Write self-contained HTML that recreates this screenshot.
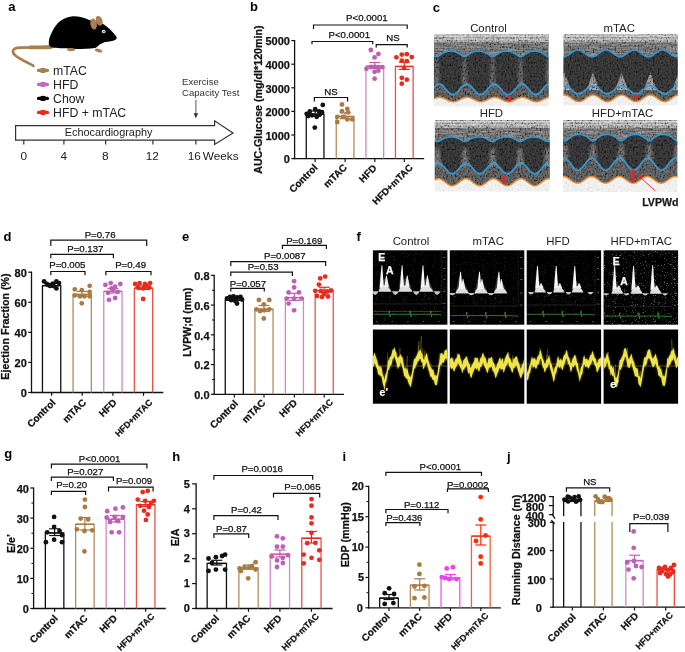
<!DOCTYPE html><html><head><meta charset="utf-8"><style>html,body{margin:0;padding:0;background:#fff;}svg{display:block;}</style></head><body>
<svg width="685" height="652" viewBox="0 0 685 652" font-family='"Liberation Sans", Arial, sans-serif'>
<defs>
<filter id="nz1" x="0" y="0" width="100%" height="100%" filterUnits="objectBoundingBox">
  <feTurbulence type="fractalNoise" baseFrequency="0.6 0.45" numOctaves="2" seed="4"/>
  <feColorMatrix type="matrix" values="2.2 0 0 0 -0.6  2.2 0 0 0 -0.6  2.2 0 0 0 -0.6  0 0 0 0 1"/>
  <feGaussianBlur stdDeviation="0.35"/>
</filter>
<filter id="nz2" x="0" y="0" width="100%" height="100%" filterUnits="objectBoundingBox">
  <feTurbulence type="fractalNoise" baseFrequency="0.5 0.8" numOctaves="2" seed="11"/>
  <feColorMatrix type="matrix" values="0 0 0 0 0  0 0 0 0 0  0 0 0 0 0  0 0 2.6 0 -1.05"/>
</filter>
<filter id="hz" x="0" y="0" width="100%" height="100%" filterUnits="objectBoundingBox">
  <feTurbulence type="fractalNoise" baseFrequency="0.06 0.7" numOctaves="2" seed="7"/>
  <feColorMatrix type="matrix" values="0 0 0 0 1  0 0 0 0 1  0 0 0 0 1  0 0 3.2 0 -1.3"/>
</filter>
<filter id="spk" x="0" y="0" width="100%" height="100%" filterUnits="objectBoundingBox">
  <feTurbulence type="fractalNoise" baseFrequency="0.9" numOctaves="1" seed="21"/>
  <feColorMatrix type="matrix" values="0 0 0 0 1  0 0 0 0 1  0 0 0 0 1  9 0 0 0 -5.6"/>
</filter>
<filter id="bl06"><feGaussianBlur stdDeviation="0.6"/></filter>
<filter id="bl04"><feGaussianBlur stdDeviation="0.4"/></filter>
<filter id="bl1"><feGaussianBlur stdDeviation="1.0"/></filter>
<filter id="bl15"><feGaussianBlur stdDeviation="1.5"/></filter>
</defs>
<rect width="685" height="652" fill="#fff"/>
<text x="8.20" y="11.40" font-size="13" font-weight="bold" text-anchor="start" fill="#000">a</text>
<path d="M50,47.2 C42,47.6 30,47.2 20,47.6 C12,48 11,52 16,56 C22,60.5 28,62.5 33,65.6" stroke="#a8804f" stroke-width="2.8" fill="none" stroke-linecap="round"/>
<path d="M51,47.0 C45,47.4 38,47.2 30,47.4" stroke="#a8804f" stroke-width="3.8" fill="none" stroke-linecap="round"/>
<path d="M33,65.6 L34.6,67" stroke="#444" stroke-width="0.8" fill="none"/>
<path d="M49.3,46 C48,42 49.5,37 51.5,33 C53.5,28.5 56,24 61,20.5 C65,18 69,16.5 73,16.3 C79,16.2 84,17.5 88,19.5 C93,21.5 100,22.5 104,24.5 C108,27 112,31 115.5,35.5 C117.5,37.5 117,39.5 114,40.5 C111.5,41.4 108,41.6 105,42 C101,43.5 98,45.5 96,47.8 L91,48.6 C85,49.2 78,49 72,48.8 C64,48.6 56,48.2 52,47.6 C50,47 49.6,46 49.5,44.5 Z" stroke="none" stroke-width="1.0" fill="#000"/>
<ellipse cx="71" cy="49.6" rx="4" ry="1.6" fill="#a8804f"/>
<ellipse cx="98.6" cy="50.6" rx="3.8" ry="1.7" fill="#a8804f" transform="rotate(15 98.6 50.6)"/>
<ellipse cx="93.6" cy="24" rx="3.2" ry="5.6" fill="#a8804f" transform="rotate(-10 93.6 24)"/>
<ellipse cx="99.2" cy="20.8" rx="3.3" ry="5" fill="#a8804f" transform="rotate(-20 99.2 20.8)"/>
<circle cx="103.70" cy="31.50" r="1.8" fill="#fff"/>
<circle cx="103.90" cy="31.60" r="0.8" fill="#333"/>
<line x1="38.5" y1="70.4" x2="47.5" y2="70.4" stroke="#a8804f" stroke-width="3.2" stroke-linecap="round"/>
<ellipse cx="43" cy="70.4" rx="3.3" ry="2.6" fill="#a8804f"/>
<text x="53.00" y="74.70" font-size="12.3" text-anchor="start" fill="#222">mTAC</text>
<line x1="38.5" y1="84.4" x2="47.5" y2="84.4" stroke="#c469bd" stroke-width="3.2" stroke-linecap="round"/>
<ellipse cx="43" cy="84.4" rx="3.3" ry="2.6" fill="#c469bd"/>
<text x="53.00" y="88.70" font-size="12.3" text-anchor="start" fill="#222">HFD</text>
<line x1="38.5" y1="98.4" x2="47.5" y2="98.4" stroke="#000" stroke-width="3.2" stroke-linecap="round"/>
<ellipse cx="43" cy="98.4" rx="3.3" ry="2.6" fill="#000"/>
<text x="53.00" y="102.70" font-size="12.3" text-anchor="start" fill="#222">Chow</text>
<line x1="38.5" y1="112.4" x2="47.5" y2="112.4" stroke="#f0281e" stroke-width="3.2" stroke-linecap="round"/>
<ellipse cx="43" cy="112.4" rx="3.3" ry="2.6" fill="#f0281e"/>
<text x="53.00" y="116.70" font-size="12.3" text-anchor="start" fill="#222">HFD + mTAC</text>
<path d="M15.6,125.7 L214.6,125.7 L214.6,120.8 L233,132.9 L214.6,144.5 L214.6,140.1 L15.6,140.1 Z" fill="#fff" stroke="#333" stroke-width="1.2"/>
<text x="108.60" y="136.20" font-size="10.9" text-anchor="middle" fill="#222">Echocardiography</text>
<line x1="23.80" y1="140.10" x2="23.80" y2="144.50" stroke="#333" stroke-width="1.2"/>
<text x="23.80" y="159.80" font-size="11.8" text-anchor="middle" fill="#222">0</text>
<line x1="63.90" y1="140.10" x2="63.90" y2="144.50" stroke="#333" stroke-width="1.2"/>
<text x="63.90" y="159.80" font-size="11.8" text-anchor="middle" fill="#222">4</text>
<line x1="105.60" y1="140.10" x2="105.60" y2="144.50" stroke="#333" stroke-width="1.2"/>
<text x="105.30" y="159.80" font-size="11.8" text-anchor="middle" fill="#222">8</text>
<line x1="152.90" y1="140.10" x2="152.90" y2="144.50" stroke="#333" stroke-width="1.2"/>
<text x="152.20" y="159.80" font-size="11.8" text-anchor="middle" fill="#222">12</text>
<line x1="195.90" y1="140.10" x2="195.90" y2="144.50" stroke="#333" stroke-width="1.2"/>
<text x="194.30" y="159.80" font-size="11.8" text-anchor="middle" fill="#222">16</text>
<text x="202.80" y="159.80" font-size="11.8" text-anchor="start" fill="#222">Weeks</text>
<text x="182.00" y="84.90" font-size="9.6" text-anchor="start" fill="#333">Exercise</text>
<text x="182.00" y="96.40" font-size="9.6" text-anchor="start" fill="#333">Capacity Test</text>
<line x1="195.90" y1="99.80" x2="195.90" y2="114.50" stroke="#444" stroke-width="0.9"/>
<path d="M193.6,113.2 L195.9,118.2 L198.2,113.2 Z" fill="#333"/>
<text x="249.90" y="11.40" font-size="13" font-weight="bold" text-anchor="start" fill="#000">b</text>
<line x1="294.60" y1="40.00" x2="294.60" y2="159.20" stroke="#111" stroke-width="1.3"/>
<line x1="294.00" y1="158.60" x2="424.20" y2="158.60" stroke="#111" stroke-width="1.3"/>
<line x1="291.30" y1="158.60" x2="294.60" y2="158.60" stroke="#111" stroke-width="1.2"/>
<text x="289.90" y="163.34" font-size="11" font-weight="bold" stroke="#111" stroke-width="0.25" text-anchor="end" fill="#111">0</text>
<line x1="291.30" y1="135.00" x2="294.60" y2="135.00" stroke="#111" stroke-width="1.2"/>
<text x="289.90" y="139.74" font-size="11" font-weight="bold" stroke="#111" stroke-width="0.25" text-anchor="end" fill="#111">1000</text>
<line x1="291.30" y1="111.40" x2="294.60" y2="111.40" stroke="#111" stroke-width="1.2"/>
<text x="289.90" y="116.14" font-size="11" font-weight="bold" stroke="#111" stroke-width="0.25" text-anchor="end" fill="#111">2000</text>
<line x1="291.30" y1="87.80" x2="294.60" y2="87.80" stroke="#111" stroke-width="1.2"/>
<text x="289.90" y="92.54" font-size="11" font-weight="bold" stroke="#111" stroke-width="0.25" text-anchor="end" fill="#111">3000</text>
<line x1="291.30" y1="64.20" x2="294.60" y2="64.20" stroke="#111" stroke-width="1.2"/>
<text x="289.90" y="68.94" font-size="11" font-weight="bold" stroke="#111" stroke-width="0.25" text-anchor="end" fill="#111">4000</text>
<line x1="291.30" y1="40.60" x2="294.60" y2="40.60" stroke="#111" stroke-width="1.2"/>
<text x="289.90" y="45.34" font-size="11" font-weight="bold" stroke="#111" stroke-width="0.25" text-anchor="end" fill="#111">5000</text>
<line x1="315.10" y1="158.60" x2="315.10" y2="161.90" stroke="#111" stroke-width="1.2"/>
<path d="M306.25,158.60 L306.25,114.25 L323.95,114.25 L323.95,158.60" stroke="#111111" stroke-width="1.3" fill="none"/>
<circle cx="322.80" cy="104.90" r="2.4" fill="#111111"/>
<circle cx="314.80" cy="127.60" r="2.4" fill="#111111"/>
<circle cx="306.70" cy="113.80" r="2.4" fill="#111111"/>
<circle cx="309.80" cy="111.50" r="2.4" fill="#111111"/>
<circle cx="315.20" cy="109.20" r="2.4" fill="#111111"/>
<circle cx="319.00" cy="111.50" r="2.4" fill="#111111"/>
<circle cx="322.00" cy="112.20" r="2.4" fill="#111111"/>
<circle cx="312.00" cy="115.30" r="2.4" fill="#111111"/>
<circle cx="316.70" cy="116.80" r="2.4" fill="#111111"/>
<circle cx="319.80" cy="114.50" r="2.4" fill="#111111"/>
<circle cx="308.10" cy="116.00" r="2.4" fill="#111111"/>
<line x1="315.10" y1="116.20" x2="315.10" y2="111.00" stroke="#111111" stroke-width="1.2"/>
<line x1="309.60" y1="111.00" x2="320.60" y2="111.00" stroke="#111111" stroke-width="1.2"/>
<line x1="309.60" y1="116.20" x2="320.60" y2="116.20" stroke="#111111" stroke-width="1.2"/>
<line x1="306.60" y1="114.30" x2="323.60" y2="114.30" stroke="#111111" stroke-width="1.3"/>
<line x1="345.10" y1="158.60" x2="345.10" y2="161.90" stroke="#111" stroke-width="1.2"/>
<path d="M336.25,158.60 L336.25,116.45 L353.95,116.45 L353.95,158.60" stroke="#b38c5c" stroke-width="1.3" fill="none"/>
<circle cx="342.00" cy="104.50" r="2.4" fill="#a87b45"/>
<circle cx="347.30" cy="108.90" r="2.4" fill="#a87b45"/>
<circle cx="342.00" cy="111.20" r="2.4" fill="#a87b45"/>
<circle cx="348.20" cy="112.40" r="2.4" fill="#a87b45"/>
<circle cx="337.30" cy="116.80" r="2.4" fill="#a87b45"/>
<circle cx="342.90" cy="116.80" r="2.4" fill="#a87b45"/>
<circle cx="347.30" cy="119.40" r="2.4" fill="#a87b45"/>
<circle cx="352.20" cy="119.40" r="2.4" fill="#a87b45"/>
<circle cx="337.30" cy="122.00" r="2.4" fill="#a87b45"/>
<line x1="345.10" y1="118.60" x2="345.10" y2="112.80" stroke="#a87b45" stroke-width="1.2"/>
<line x1="339.60" y1="112.80" x2="350.60" y2="112.80" stroke="#a87b45" stroke-width="1.2"/>
<line x1="339.60" y1="118.60" x2="350.60" y2="118.60" stroke="#a87b45" stroke-width="1.2"/>
<line x1="336.60" y1="116.50" x2="353.60" y2="116.50" stroke="#a87b45" stroke-width="1.3"/>
<line x1="374.80" y1="158.60" x2="374.80" y2="161.90" stroke="#111" stroke-width="1.2"/>
<path d="M365.95,158.60 L365.95,66.15 L383.65,66.15 L383.65,158.60" stroke="#cf8ac7" stroke-width="1.3" fill="none"/>
<circle cx="370.80" cy="50.00" r="2.4" fill="#bd60b3"/>
<circle cx="378.40" cy="54.00" r="2.4" fill="#bd60b3"/>
<circle cx="374.60" cy="57.40" r="2.4" fill="#bd60b3"/>
<circle cx="366.50" cy="68.80" r="2.4" fill="#bd60b3"/>
<circle cx="370.80" cy="66.90" r="2.4" fill="#bd60b3"/>
<circle cx="374.60" cy="66.90" r="2.4" fill="#bd60b3"/>
<circle cx="378.40" cy="67.20" r="2.4" fill="#bd60b3"/>
<circle cx="382.30" cy="67.20" r="2.4" fill="#bd60b3"/>
<circle cx="374.60" cy="71.80" r="2.4" fill="#bd60b3"/>
<circle cx="378.40" cy="70.70" r="2.4" fill="#bd60b3"/>
<circle cx="374.60" cy="78.70" r="2.4" fill="#bd60b3"/>
<line x1="374.80" y1="68.60" x2="374.80" y2="62.50" stroke="#bd60b3" stroke-width="1.2"/>
<line x1="369.30" y1="62.50" x2="380.30" y2="62.50" stroke="#bd60b3" stroke-width="1.2"/>
<line x1="369.30" y1="68.60" x2="380.30" y2="68.60" stroke="#bd60b3" stroke-width="1.2"/>
<line x1="366.30" y1="66.20" x2="383.30" y2="66.20" stroke="#bd60b3" stroke-width="1.3"/>
<line x1="404.30" y1="158.60" x2="404.30" y2="161.90" stroke="#111" stroke-width="1.2"/>
<path d="M395.45,158.60 L395.45,66.45 L413.15,66.45 L413.15,158.60" stroke="#ee5048" stroke-width="1.3" fill="none"/>
<circle cx="396.40" cy="57.30" r="2.4" fill="#e82a1f"/>
<circle cx="401.80" cy="54.60" r="2.4" fill="#e82a1f"/>
<circle cx="406.80" cy="54.20" r="2.4" fill="#e82a1f"/>
<circle cx="411.80" cy="57.10" r="2.4" fill="#e82a1f"/>
<circle cx="401.80" cy="60.70" r="2.4" fill="#e82a1f"/>
<circle cx="406.80" cy="61.10" r="2.4" fill="#e82a1f"/>
<circle cx="404.10" cy="68.00" r="2.4" fill="#e82a1f"/>
<circle cx="401.80" cy="77.80" r="2.4" fill="#e82a1f"/>
<circle cx="406.80" cy="79.70" r="2.4" fill="#e82a1f"/>
<circle cx="401.80" cy="83.70" r="2.4" fill="#e82a1f"/>
<line x1="404.30" y1="69.40" x2="404.30" y2="62.20" stroke="#e82a1f" stroke-width="1.2"/>
<line x1="398.80" y1="62.20" x2="409.80" y2="62.20" stroke="#e82a1f" stroke-width="1.2"/>
<line x1="398.80" y1="69.40" x2="409.80" y2="69.40" stroke="#e82a1f" stroke-width="1.2"/>
<line x1="395.80" y1="66.50" x2="412.80" y2="66.50" stroke="#e82a1f" stroke-width="1.3"/>
<text x="0.00" y="0.00" font-size="9.9" font-weight="bold" stroke="#111" stroke-width="0.25" text-anchor="end" fill="#111" transform="translate(318.10,168.40) rotate(-45)">Control</text>
<text x="0.00" y="0.00" font-size="9.9" font-weight="bold" stroke="#111" stroke-width="0.25" text-anchor="end" fill="#111" transform="translate(347.50,168.20) rotate(-45)">mTAC</text>
<text x="0.00" y="0.00" font-size="9.9" font-weight="bold" stroke="#111" stroke-width="0.25" text-anchor="end" fill="#111" transform="translate(377.40,168.80) rotate(-45)">HFD</text>
<text x="0.00" y="0.00" font-size="9.5" font-weight="bold" stroke="#111" stroke-width="0.25" text-anchor="end" fill="#111" transform="translate(413.30,168.20) rotate(-45)">HFD+mTAC</text>
<text x="0.00" y="0.00" font-size="10.7" font-weight="bold" stroke="#111" stroke-width="0.25" text-anchor="middle" fill="#111" transform="translate(262.00,99.60) rotate(-90)">AUC-Glucose (mg/dl*120min)</text>
<path d="M313.50,28.90 L313.50,25.00 L407.20,25.00 L407.20,28.90" stroke="#111" stroke-width="1.2" fill="none"/>
<text x="366.90" y="21.30" font-size="9.8" text-anchor="middle" fill="#111" stroke="#111" stroke-width="0.25" textLength="41.60" lengthAdjust="spacingAndGlyphs">P&lt;0.0001</text>
<path d="M312.00,44.30 L312.00,41.50 L372.70,41.50 L372.70,44.30" stroke="#111" stroke-width="1.2" fill="none"/>
<text x="349.30" y="37.80" font-size="9.8" text-anchor="middle" fill="#111" stroke="#111" stroke-width="0.25" textLength="41.60" lengthAdjust="spacingAndGlyphs">P&lt;0.0001</text>
<path d="M376.20,47.50 L376.20,44.70 L407.20,44.70 L407.20,47.50" stroke="#111" stroke-width="1.2" fill="none"/>
<text x="393.00" y="41.30" font-size="9.8" text-anchor="middle" fill="#111" stroke="#111" stroke-width="0.25" textLength="13.41" lengthAdjust="spacingAndGlyphs">NS</text>
<path d="M314.40,101.40 L314.40,97.50 L347.60,97.50 L347.60,101.40" stroke="#111" stroke-width="1.2" fill="none"/>
<text x="330.90" y="94.60" font-size="9.8" text-anchor="middle" fill="#111" stroke="#111" stroke-width="0.25" textLength="13.41" lengthAdjust="spacingAndGlyphs">NS</text>
<text x="432.80" y="11.70" font-size="13" font-weight="bold" text-anchor="start" fill="#000">c</text>
<text x="488.50" y="32.00" font-size="11.4" text-anchor="middle" fill="#222">Control</text>
<text x="619.20" y="31.70" font-size="11.4" text-anchor="middle" fill="#222">mTAC</text>
<text x="491.40" y="117.00" font-size="11.4" text-anchor="middle" fill="#222">HFD</text>
<text x="622.50" y="117.00" font-size="11.4" text-anchor="middle" fill="#222">HFD+mTAC</text>
<clipPath id="ec1"><rect x="433.9" y="34.3" width="114.89999999999998" height="72.0"/></clipPath>
<clipPath id="ec1a"><path d="M431.90,54.13 L432.40,54.46 L432.90,54.82 L433.40,55.19 L433.90,55.59 L434.40,55.94 L434.90,56.22 L435.40,56.44 L435.90,56.56 L436.40,56.61 L436.90,56.60 L437.40,56.53 L437.90,56.40 L438.40,56.18 L438.90,55.88 L439.40,55.51 L439.90,55.11 L440.40,54.74 L440.90,54.40 L441.40,54.07 L441.90,53.76 L442.40,53.46 L442.90,53.19 L443.40,52.93 L443.90,52.69 L444.40,52.46 L444.90,52.25 L445.40,52.06 L445.90,51.88 L446.40,51.73 L446.90,51.58 L447.40,51.46 L447.90,51.36 L448.40,51.27 L448.90,51.20 L449.40,51.15 L449.90,51.11 L450.40,51.10 L450.90,51.10 L451.40,51.12 L451.90,51.16 L452.40,51.21 L452.90,51.28 L453.40,51.38 L453.90,51.48 L454.40,51.61 L454.90,51.76 L455.40,51.92 L455.90,52.10 L456.40,52.29 L456.90,52.50 L457.40,52.73 L457.90,52.98 L458.40,53.24 L458.90,53.52 L459.40,53.82 L459.90,54.13 L460.40,54.46 L460.90,54.82 L461.40,55.19 L461.90,55.59 L462.40,55.94 L462.90,56.22 L463.40,56.44 L463.90,56.56 L464.40,56.61 L464.90,56.60 L465.40,56.53 L465.90,56.40 L466.40,56.18 L466.90,55.88 L467.40,55.51 L467.90,55.11 L468.40,54.74 L468.90,54.40 L469.40,54.07 L469.90,53.76 L470.40,53.46 L470.90,53.19 L471.40,52.93 L471.90,52.69 L472.40,52.46 L472.90,52.25 L473.40,52.06 L473.90,51.88 L474.40,51.73 L474.90,51.58 L475.40,51.46 L475.90,51.36 L476.40,51.27 L476.90,51.20 L477.40,51.15 L477.90,51.11 L478.40,51.10 L478.90,51.10 L479.40,51.12 L479.90,51.16 L480.40,51.21 L480.90,51.28 L481.40,51.38 L481.90,51.48 L482.40,51.61 L482.90,51.76 L483.40,51.92 L483.90,52.10 L484.40,52.29 L484.90,52.50 L485.40,52.73 L485.90,52.98 L486.40,53.24 L486.90,53.52 L487.40,53.82 L487.90,54.13 L488.40,54.46 L488.90,54.82 L489.40,55.19 L489.90,55.59 L490.40,55.94 L490.90,56.22 L491.40,56.44 L491.90,56.56 L492.40,56.61 L492.90,56.60 L493.40,56.53 L493.90,56.40 L494.40,56.18 L494.90,55.88 L495.40,55.51 L495.90,55.11 L496.40,54.74 L496.90,54.40 L497.40,54.07 L497.90,53.76 L498.40,53.46 L498.90,53.19 L499.40,52.93 L499.90,52.69 L500.40,52.46 L500.90,52.25 L501.40,52.06 L501.90,51.88 L502.40,51.73 L502.90,51.58 L503.40,51.46 L503.90,51.36 L504.40,51.27 L504.90,51.20 L505.40,51.15 L505.90,51.11 L506.40,51.10 L506.90,51.10 L507.40,51.12 L507.90,51.16 L508.40,51.21 L508.90,51.28 L509.40,51.38 L509.90,51.48 L510.40,51.61 L510.90,51.76 L511.40,51.92 L511.90,52.10 L512.40,52.29 L512.90,52.50 L513.40,52.73 L513.90,52.98 L514.40,53.24 L514.90,53.52 L515.40,53.82 L515.90,54.13 L516.40,54.46 L516.90,54.82 L517.40,55.19 L517.90,55.59 L518.40,55.94 L518.90,56.22 L519.40,56.44 L519.90,56.56 L520.40,56.61 L520.90,56.60 L521.40,56.53 L521.90,56.40 L522.40,56.18 L522.90,55.88 L523.40,55.51 L523.90,55.11 L524.40,54.74 L524.90,54.40 L525.40,54.07 L525.90,53.76 L526.40,53.46 L526.90,53.19 L527.40,52.93 L527.90,52.69 L528.40,52.46 L528.90,52.25 L529.40,52.06 L529.90,51.88 L530.40,51.73 L530.90,51.58 L531.40,51.46 L531.90,51.36 L532.40,51.27 L532.90,51.20 L533.40,51.15 L533.90,51.11 L534.40,51.10 L534.90,51.10 L535.40,51.12 L535.90,51.16 L536.40,51.21 L536.90,51.28 L537.40,51.38 L537.90,51.48 L538.40,51.61 L538.90,51.76 L539.40,51.92 L539.90,52.10 L540.40,52.29 L540.90,52.50 L541.40,52.73 L541.90,52.98 L542.40,53.24 L542.90,53.52 L543.40,53.82 L543.90,54.13 L544.40,54.46 L544.90,54.82 L545.40,55.19 L545.90,55.59 L546.40,55.94 L546.90,56.22 L547.40,56.44 L547.90,56.56 L548.40,56.61 L548.90,56.60 L549.40,56.53 L549.90,56.40 L550.40,56.18 L550.8,32.3 L431.9,32.3 Z"/></clipPath>
<g clip-path="url(#ec1)">
<rect x="433.9" y="34.3" width="114.89999999999998" height="72.0" fill="#565656"/>
<rect x="433.9" y="34.3" width="114.89999999999998" height="8" fill="#7e7e7e"/>
<rect x="433.9" y="35.5" width="114.89999999999998" height="1.2" fill="#cfcfcf"/>
<rect x="433.9" y="38.699999999999996" width="114.89999999999998" height="0.9" fill="#bcbcbc"/>
<path d="M431.90,54.13 L432.40,54.46 L432.90,54.82 L433.40,55.19 L433.90,55.59 L434.40,55.94 L434.90,56.22 L435.40,56.44 L435.90,56.56 L436.40,56.61 L436.90,56.60 L437.40,56.53 L437.90,56.40 L438.40,56.18 L438.90,55.88 L439.40,55.51 L439.90,55.11 L440.40,54.74 L440.90,54.40 L441.40,54.07 L441.90,53.76 L442.40,53.46 L442.90,53.19 L443.40,52.93 L443.90,52.69 L444.40,52.46 L444.90,52.25 L445.40,52.06 L445.90,51.88 L446.40,51.73 L446.90,51.58 L447.40,51.46 L447.90,51.36 L448.40,51.27 L448.90,51.20 L449.40,51.15 L449.90,51.11 L450.40,51.10 L450.90,51.10 L451.40,51.12 L451.90,51.16 L452.40,51.21 L452.90,51.28 L453.40,51.38 L453.90,51.48 L454.40,51.61 L454.90,51.76 L455.40,51.92 L455.90,52.10 L456.40,52.29 L456.90,52.50 L457.40,52.73 L457.90,52.98 L458.40,53.24 L458.90,53.52 L459.40,53.82 L459.90,54.13 L460.40,54.46 L460.90,54.82 L461.40,55.19 L461.90,55.59 L462.40,55.94 L462.90,56.22 L463.40,56.44 L463.90,56.56 L464.40,56.61 L464.90,56.60 L465.40,56.53 L465.90,56.40 L466.40,56.18 L466.90,55.88 L467.40,55.51 L467.90,55.11 L468.40,54.74 L468.90,54.40 L469.40,54.07 L469.90,53.76 L470.40,53.46 L470.90,53.19 L471.40,52.93 L471.90,52.69 L472.40,52.46 L472.90,52.25 L473.40,52.06 L473.90,51.88 L474.40,51.73 L474.90,51.58 L475.40,51.46 L475.90,51.36 L476.40,51.27 L476.90,51.20 L477.40,51.15 L477.90,51.11 L478.40,51.10 L478.90,51.10 L479.40,51.12 L479.90,51.16 L480.40,51.21 L480.90,51.28 L481.40,51.38 L481.90,51.48 L482.40,51.61 L482.90,51.76 L483.40,51.92 L483.90,52.10 L484.40,52.29 L484.90,52.50 L485.40,52.73 L485.90,52.98 L486.40,53.24 L486.90,53.52 L487.40,53.82 L487.90,54.13 L488.40,54.46 L488.90,54.82 L489.40,55.19 L489.90,55.59 L490.40,55.94 L490.90,56.22 L491.40,56.44 L491.90,56.56 L492.40,56.61 L492.90,56.60 L493.40,56.53 L493.90,56.40 L494.40,56.18 L494.90,55.88 L495.40,55.51 L495.90,55.11 L496.40,54.74 L496.90,54.40 L497.40,54.07 L497.90,53.76 L498.40,53.46 L498.90,53.19 L499.40,52.93 L499.90,52.69 L500.40,52.46 L500.90,52.25 L501.40,52.06 L501.90,51.88 L502.40,51.73 L502.90,51.58 L503.40,51.46 L503.90,51.36 L504.40,51.27 L504.90,51.20 L505.40,51.15 L505.90,51.11 L506.40,51.10 L506.90,51.10 L507.40,51.12 L507.90,51.16 L508.40,51.21 L508.90,51.28 L509.40,51.38 L509.90,51.48 L510.40,51.61 L510.90,51.76 L511.40,51.92 L511.90,52.10 L512.40,52.29 L512.90,52.50 L513.40,52.73 L513.90,52.98 L514.40,53.24 L514.90,53.52 L515.40,53.82 L515.90,54.13 L516.40,54.46 L516.90,54.82 L517.40,55.19 L517.90,55.59 L518.40,55.94 L518.90,56.22 L519.40,56.44 L519.90,56.56 L520.40,56.61 L520.90,56.60 L521.40,56.53 L521.90,56.40 L522.40,56.18 L522.90,55.88 L523.40,55.51 L523.90,55.11 L524.40,54.74 L524.90,54.40 L525.40,54.07 L525.90,53.76 L526.40,53.46 L526.90,53.19 L527.40,52.93 L527.90,52.69 L528.40,52.46 L528.90,52.25 L529.40,52.06 L529.90,51.88 L530.40,51.73 L530.90,51.58 L531.40,51.46 L531.90,51.36 L532.40,51.27 L532.90,51.20 L533.40,51.15 L533.90,51.11 L534.40,51.10 L534.90,51.10 L535.40,51.12 L535.90,51.16 L536.40,51.21 L536.90,51.28 L537.40,51.38 L537.90,51.48 L538.40,51.61 L538.90,51.76 L539.40,51.92 L539.90,52.10 L540.40,52.29 L540.90,52.50 L541.40,52.73 L541.90,52.98 L542.40,53.24 L542.90,53.52 L543.40,53.82 L543.90,54.13 L544.40,54.46 L544.90,54.82 L545.40,55.19 L545.90,55.59 L546.40,55.94 L546.90,56.22 L547.40,56.44 L547.90,56.56 L548.40,56.61 L548.90,56.60 L549.40,56.53 L549.90,56.40 L550.40,56.18 L550.40,82.81 L549.90,82.72 L549.40,82.70 L548.90,82.75 L548.40,82.87 L547.90,83.05 L547.40,83.29 L546.90,83.60 L546.40,83.97 L545.90,84.38 L545.40,84.85 L544.90,85.35 L544.40,85.89 L543.90,86.45 L543.40,87.04 L542.90,87.64 L542.40,88.24 L541.90,88.84 L541.40,89.43 L540.90,90.00 L540.40,90.54 L539.90,91.06 L539.40,91.53 L538.90,91.95 L538.40,92.33 L537.90,92.65 L537.40,92.91 L536.90,93.10 L536.40,93.23 L535.90,93.29 L535.40,93.29 L534.90,93.21 L534.40,93.07 L533.90,92.86 L533.40,92.59 L532.90,92.26 L532.40,91.87 L531.90,91.44 L531.40,90.96 L530.90,90.44 L530.40,89.89 L529.90,89.31 L529.40,88.72 L528.90,88.12 L528.40,87.52 L527.90,86.92 L527.40,86.34 L526.90,85.78 L526.40,85.25 L525.90,84.75 L525.40,84.30 L524.90,83.89 L524.40,83.54 L523.90,83.24 L523.40,83.01 L522.90,82.84 L522.40,82.73 L521.90,82.70 L521.40,82.73 L520.90,82.84 L520.40,83.01 L519.90,83.24 L519.40,83.54 L518.90,83.89 L518.40,84.30 L517.90,84.75 L517.40,85.25 L516.90,85.78 L516.40,86.34 L515.90,86.92 L515.40,87.52 L514.90,88.12 L514.40,88.72 L513.90,89.31 L513.40,89.89 L512.90,90.44 L512.40,90.96 L511.90,91.44 L511.40,91.87 L510.90,92.26 L510.40,92.59 L509.90,92.86 L509.40,93.07 L508.90,93.21 L508.40,93.29 L507.90,93.29 L507.40,93.23 L506.90,93.10 L506.40,92.91 L505.90,92.65 L505.40,92.33 L504.90,91.95 L504.40,91.53 L503.90,91.06 L503.40,90.54 L502.90,90.00 L502.40,89.43 L501.90,88.84 L501.40,88.24 L500.90,87.64 L500.40,87.04 L499.90,86.45 L499.40,85.89 L498.90,85.35 L498.40,84.85 L497.90,84.38 L497.40,83.97 L496.90,83.60 L496.40,83.29 L495.90,83.05 L495.40,82.87 L494.90,82.75 L494.40,82.70 L493.90,82.72 L493.40,82.81 L492.90,82.97 L492.40,83.19 L491.90,83.47 L491.40,83.81 L490.90,84.21 L490.40,84.66 L489.90,85.14 L489.40,85.67 L488.90,86.23 L488.40,86.80 L487.90,87.40 L487.40,88.00 L486.90,88.60 L486.40,89.20 L485.90,89.77 L485.40,90.33 L484.90,90.86 L484.40,91.34 L483.90,91.79 L483.40,92.19 L482.90,92.53 L482.40,92.81 L481.90,93.03 L481.40,93.19 L480.90,93.28 L480.40,93.30 L479.90,93.25 L479.40,93.13 L478.90,92.95 L478.40,92.71 L477.90,92.40 L477.40,92.03 L476.90,91.62 L476.40,91.15 L475.90,90.65 L475.40,90.11 L474.90,89.55 L474.40,88.96 L473.90,88.36 L473.40,87.76 L472.90,87.16 L472.40,86.57 L471.90,86.00 L471.40,85.46 L470.90,84.94 L470.40,84.47 L469.90,84.05 L469.40,83.67 L468.90,83.35 L468.40,83.09 L467.90,82.90 L467.40,82.77 L466.90,82.71 L466.40,82.71 L465.90,82.79 L465.40,82.93 L464.90,83.14 L464.40,83.41 L463.90,83.74 L463.40,84.13 L462.90,84.56 L462.40,85.04 L461.90,85.56 L461.40,86.11 L460.90,86.69 L460.40,87.28 L459.90,87.88 L459.40,88.48 L458.90,89.08 L458.40,89.66 L457.90,90.22 L457.40,90.75 L456.90,91.25 L456.40,91.70 L455.90,92.11 L455.40,92.46 L454.90,92.76 L454.40,92.99 L453.90,93.16 L453.40,93.27 L452.90,93.30 L452.40,93.27 L451.90,93.16 L451.40,92.99 L450.90,92.76 L450.40,92.46 L449.90,92.11 L449.40,91.70 L448.90,91.25 L448.40,90.75 L447.90,90.22 L447.40,89.66 L446.90,89.08 L446.40,88.48 L445.90,87.88 L445.40,87.28 L444.90,86.69 L444.40,86.11 L443.90,85.56 L443.40,85.04 L442.90,84.56 L442.40,84.13 L441.90,83.74 L441.40,83.41 L440.90,83.14 L440.40,82.93 L439.90,82.79 L439.40,82.71 L438.90,82.71 L438.40,82.77 L437.90,82.90 L437.40,83.09 L436.90,83.35 L436.40,83.67 L435.90,84.05 L435.40,84.47 L434.90,84.94 L434.40,85.46 L433.90,86.00 L433.40,86.57 L432.90,87.16 L432.40,87.76 L431.90,88.36 Z" fill="#2c2c2c"/>
<path d="M431.90,89.86 L432.40,89.26 L432.90,88.66 L433.40,88.07 L433.90,87.50 L434.40,86.96 L434.90,86.44 L435.40,85.97 L435.90,85.55 L436.40,85.17 L436.90,84.85 L437.40,84.59 L437.90,84.40 L438.40,84.27 L438.90,84.21 L439.40,84.21 L439.90,84.29 L440.40,84.43 L440.90,84.64 L441.40,84.91 L441.90,85.24 L442.40,85.63 L442.90,86.06 L443.40,86.54 L443.90,87.06 L444.40,87.61 L444.90,88.19 L445.40,88.78 L445.90,89.38 L446.40,89.98 L446.90,90.58 L447.40,91.16 L447.90,91.72 L448.40,92.25 L448.90,92.75 L449.40,93.20 L449.90,93.61 L450.40,93.96 L450.90,94.26 L451.40,94.49 L451.90,94.66 L452.40,94.77 L452.90,94.80 L453.40,94.77 L453.90,94.66 L454.40,94.49 L454.90,94.26 L455.40,93.96 L455.90,93.61 L456.40,93.20 L456.90,92.75 L457.40,92.25 L457.90,91.72 L458.40,91.16 L458.90,90.58 L459.40,89.98 L459.90,89.38 L460.40,88.78 L460.90,88.19 L461.40,87.61 L461.90,87.06 L462.40,86.54 L462.90,86.06 L463.40,85.63 L463.90,85.24 L464.40,84.91 L464.90,84.64 L465.40,84.43 L465.90,84.29 L466.40,84.21 L466.90,84.21 L467.40,84.27 L467.90,84.40 L468.40,84.59 L468.90,84.85 L469.40,85.17 L469.90,85.55 L470.40,85.97 L470.90,86.44 L471.40,86.96 L471.90,87.50 L472.40,88.07 L472.90,88.66 L473.40,89.26 L473.90,89.86 L474.40,90.46 L474.90,91.05 L475.40,91.61 L475.90,92.15 L476.40,92.65 L476.90,93.12 L477.40,93.53 L477.90,93.90 L478.40,94.21 L478.90,94.45 L479.40,94.63 L479.90,94.75 L480.40,94.80 L480.90,94.78 L481.40,94.69 L481.90,94.53 L482.40,94.31 L482.90,94.03 L483.40,93.69 L483.90,93.29 L484.40,92.84 L484.90,92.36 L485.40,91.83 L485.90,91.27 L486.40,90.70 L486.90,90.10 L487.40,89.50 L487.90,88.90 L488.40,88.30 L488.90,87.73 L489.40,87.17 L489.90,86.64 L490.40,86.16 L490.90,85.71 L491.40,85.31 L491.90,84.97 L492.40,84.69 L492.90,84.47 L493.40,84.31 L493.90,84.22 L494.40,84.20 L494.90,84.25 L495.40,84.37 L495.90,84.55 L496.40,84.79 L496.90,85.10 L497.40,85.47 L497.90,85.88 L498.40,86.35 L498.90,86.85 L499.40,87.39 L499.90,87.95 L500.40,88.54 L500.90,89.14 L501.40,89.74 L501.90,90.34 L502.40,90.93 L502.90,91.50 L503.40,92.04 L503.90,92.56 L504.40,93.03 L504.90,93.45 L505.40,93.83 L505.90,94.15 L506.40,94.41 L506.90,94.60 L507.40,94.73 L507.90,94.79 L508.40,94.79 L508.90,94.71 L509.40,94.57 L509.90,94.36 L510.40,94.09 L510.90,93.76 L511.40,93.37 L511.90,92.94 L512.40,92.46 L512.90,91.94 L513.40,91.39 L513.90,90.81 L514.40,90.22 L514.90,89.62 L515.40,89.02 L515.90,88.42 L516.40,87.84 L516.90,87.28 L517.40,86.75 L517.90,86.25 L518.40,85.80 L518.90,85.39 L519.40,85.04 L519.90,84.74 L520.40,84.51 L520.90,84.34 L521.40,84.23 L521.90,84.20 L522.40,84.23 L522.90,84.34 L523.40,84.51 L523.90,84.74 L524.40,85.04 L524.90,85.39 L525.40,85.80 L525.90,86.25 L526.40,86.75 L526.90,87.28 L527.40,87.84 L527.90,88.42 L528.40,89.02 L528.90,89.62 L529.40,90.22 L529.90,90.81 L530.40,91.39 L530.90,91.94 L531.40,92.46 L531.90,92.94 L532.40,93.37 L532.90,93.76 L533.40,94.09 L533.90,94.36 L534.40,94.57 L534.90,94.71 L535.40,94.79 L535.90,94.79 L536.40,94.73 L536.90,94.60 L537.40,94.41 L537.90,94.15 L538.40,93.83 L538.90,93.45 L539.40,93.03 L539.90,92.56 L540.40,92.04 L540.90,91.50 L541.40,90.93 L541.90,90.34 L542.40,89.74 L542.90,89.14 L543.40,88.54 L543.90,87.95 L544.40,87.39 L544.90,86.85 L545.40,86.35 L545.90,85.88 L546.40,85.47 L546.90,85.10 L547.40,84.79 L547.90,84.55 L548.40,84.37 L548.90,84.25 L549.40,84.20 L549.90,84.22 L550.40,84.31 L550.40,97.31 L549.90,97.30 L549.40,97.31 L548.90,97.36 L548.40,97.43 L547.90,97.52 L547.40,97.65 L546.90,97.79 L546.40,97.96 L545.90,98.15 L545.40,98.36 L544.90,98.58 L544.40,98.81 L543.90,99.05 L543.40,99.30 L542.90,99.55 L542.40,99.80 L541.90,100.05 L541.40,100.28 L540.90,100.51 L540.40,100.73 L539.90,100.93 L539.40,101.11 L538.90,101.27 L538.40,101.41 L537.90,101.52 L537.40,101.60 L536.90,101.66 L536.40,101.69 L535.90,101.70 L535.40,101.67 L534.90,101.62 L534.40,101.54 L533.90,101.43 L533.40,101.30 L532.90,101.14 L532.40,100.96 L531.90,100.77 L531.40,100.56 L530.90,100.33 L530.40,100.09 L529.90,99.85 L529.40,99.60 L528.90,99.35 L528.40,99.10 L527.90,98.86 L527.40,98.62 L526.90,98.40 L526.40,98.19 L525.90,98.00 L525.40,97.83 L524.90,97.67 L524.40,97.55 L523.90,97.44 L523.40,97.37 L522.90,97.32 L522.40,97.30 L521.90,97.31 L521.40,97.35 L520.90,97.41 L520.40,97.50 L519.90,97.62 L519.40,97.76 L518.90,97.93 L518.40,98.11 L517.90,98.31 L517.40,98.53 L516.90,98.76 L516.40,99.00 L515.90,99.25 L515.40,99.50 L514.90,99.75 L514.40,100.00 L513.90,100.24 L513.40,100.47 L512.90,100.69 L512.40,100.89 L511.90,101.07 L511.40,101.24 L510.90,101.38 L510.40,101.50 L509.90,101.59 L509.40,101.65 L508.90,101.69 L508.40,101.70 L507.90,101.68 L507.40,101.63 L506.90,101.56 L506.40,101.45 L505.90,101.33 L505.40,101.17 L504.90,101.00 L504.40,100.81 L503.90,100.60 L503.40,100.38 L502.90,100.14 L502.40,99.90 L501.90,99.65 L501.40,99.40 L500.90,99.15 L500.40,98.91 L499.90,98.67 L499.40,98.44 L498.90,98.23 L498.40,98.04 L497.90,97.86 L497.40,97.70 L496.90,97.57 L496.40,97.46 L495.90,97.38 L495.40,97.33 L494.90,97.30 L494.40,97.31 L493.90,97.34 L493.40,97.40 L492.90,97.48 L492.40,97.59 L491.90,97.73 L491.40,97.89 L490.90,98.07 L490.40,98.27 L489.90,98.49 L489.40,98.72 L488.90,98.95 L488.40,99.20 L487.90,99.45 L487.40,99.70 L486.90,99.95 L486.40,100.19 L485.90,100.42 L485.40,100.64 L484.90,100.85 L484.40,101.04 L483.90,101.21 L483.40,101.35 L482.90,101.48 L482.40,101.57 L481.90,101.64 L481.40,101.69 L480.90,101.70 L480.40,101.69 L479.90,101.64 L479.40,101.57 L478.90,101.48 L478.40,101.35 L477.90,101.21 L477.40,101.04 L476.90,100.85 L476.40,100.64 L475.90,100.42 L475.40,100.19 L474.90,99.95 L474.40,99.70 L473.90,99.45 L473.40,99.20 L472.90,98.95 L472.40,98.72 L471.90,98.49 L471.40,98.27 L470.90,98.07 L470.40,97.89 L469.90,97.73 L469.40,97.59 L468.90,97.48 L468.40,97.40 L467.90,97.34 L467.40,97.31 L466.90,97.30 L466.40,97.33 L465.90,97.38 L465.40,97.46 L464.90,97.57 L464.40,97.70 L463.90,97.86 L463.40,98.04 L462.90,98.23 L462.40,98.44 L461.90,98.67 L461.40,98.91 L460.90,99.15 L460.40,99.40 L459.90,99.65 L459.40,99.90 L458.90,100.14 L458.40,100.38 L457.90,100.60 L457.40,100.81 L456.90,101.00 L456.40,101.17 L455.90,101.33 L455.40,101.45 L454.90,101.56 L454.40,101.63 L453.90,101.68 L453.40,101.70 L452.90,101.69 L452.40,101.65 L451.90,101.59 L451.40,101.50 L450.90,101.38 L450.40,101.24 L449.90,101.07 L449.40,100.89 L448.90,100.69 L448.40,100.47 L447.90,100.24 L447.40,100.00 L446.90,99.75 L446.40,99.50 L445.90,99.25 L445.40,99.00 L444.90,98.76 L444.40,98.53 L443.90,98.31 L443.40,98.11 L442.90,97.93 L442.40,97.76 L441.90,97.62 L441.40,97.50 L440.90,97.41 L440.40,97.35 L439.90,97.31 L439.40,97.30 L438.90,97.32 L438.40,97.37 L437.90,97.44 L437.40,97.55 L436.90,97.67 L436.40,97.83 L435.90,98.00 L435.40,98.19 L434.90,98.40 L434.40,98.62 L433.90,98.86 L433.40,99.10 L432.90,99.35 L432.40,99.60 L431.90,99.85 Z" fill="#4c4c4c"/>
<path d="M431.90,99.85 L432.40,99.60 L432.90,99.35 L433.40,99.10 L433.90,98.86 L434.40,98.62 L434.90,98.40 L435.40,98.19 L435.90,98.00 L436.40,97.83 L436.90,97.67 L437.40,97.55 L437.90,97.44 L438.40,97.37 L438.90,97.32 L439.40,97.30 L439.90,97.31 L440.40,97.35 L440.90,97.41 L441.40,97.50 L441.90,97.62 L442.40,97.76 L442.90,97.93 L443.40,98.11 L443.90,98.31 L444.40,98.53 L444.90,98.76 L445.40,99.00 L445.90,99.25 L446.40,99.50 L446.90,99.75 L447.40,100.00 L447.90,100.24 L448.40,100.47 L448.90,100.69 L449.40,100.89 L449.90,101.07 L450.40,101.24 L450.90,101.38 L451.40,101.50 L451.90,101.59 L452.40,101.65 L452.90,101.69 L453.40,101.70 L453.90,101.68 L454.40,101.63 L454.90,101.56 L455.40,101.45 L455.90,101.33 L456.40,101.17 L456.90,101.00 L457.40,100.81 L457.90,100.60 L458.40,100.38 L458.90,100.14 L459.40,99.90 L459.90,99.65 L460.40,99.40 L460.90,99.15 L461.40,98.91 L461.90,98.67 L462.40,98.44 L462.90,98.23 L463.40,98.04 L463.90,97.86 L464.40,97.70 L464.90,97.57 L465.40,97.46 L465.90,97.38 L466.40,97.33 L466.90,97.30 L467.40,97.31 L467.90,97.34 L468.40,97.40 L468.90,97.48 L469.40,97.59 L469.90,97.73 L470.40,97.89 L470.90,98.07 L471.40,98.27 L471.90,98.49 L472.40,98.72 L472.90,98.95 L473.40,99.20 L473.90,99.45 L474.40,99.70 L474.90,99.95 L475.40,100.19 L475.90,100.42 L476.40,100.64 L476.90,100.85 L477.40,101.04 L477.90,101.21 L478.40,101.35 L478.90,101.48 L479.40,101.57 L479.90,101.64 L480.40,101.69 L480.90,101.70 L481.40,101.69 L481.90,101.64 L482.40,101.57 L482.90,101.48 L483.40,101.35 L483.90,101.21 L484.40,101.04 L484.90,100.85 L485.40,100.64 L485.90,100.42 L486.40,100.19 L486.90,99.95 L487.40,99.70 L487.90,99.45 L488.40,99.20 L488.90,98.95 L489.40,98.72 L489.90,98.49 L490.40,98.27 L490.90,98.07 L491.40,97.89 L491.90,97.73 L492.40,97.59 L492.90,97.48 L493.40,97.40 L493.90,97.34 L494.40,97.31 L494.90,97.30 L495.40,97.33 L495.90,97.38 L496.40,97.46 L496.90,97.57 L497.40,97.70 L497.90,97.86 L498.40,98.04 L498.90,98.23 L499.40,98.44 L499.90,98.67 L500.40,98.91 L500.90,99.15 L501.40,99.40 L501.90,99.65 L502.40,99.90 L502.90,100.14 L503.40,100.38 L503.90,100.60 L504.40,100.81 L504.90,101.00 L505.40,101.17 L505.90,101.33 L506.40,101.45 L506.90,101.56 L507.40,101.63 L507.90,101.68 L508.40,101.70 L508.90,101.69 L509.40,101.65 L509.90,101.59 L510.40,101.50 L510.90,101.38 L511.40,101.24 L511.90,101.07 L512.40,100.89 L512.90,100.69 L513.40,100.47 L513.90,100.24 L514.40,100.00 L514.90,99.75 L515.40,99.50 L515.90,99.25 L516.40,99.00 L516.90,98.76 L517.40,98.53 L517.90,98.31 L518.40,98.11 L518.90,97.93 L519.40,97.76 L519.90,97.62 L520.40,97.50 L520.90,97.41 L521.40,97.35 L521.90,97.31 L522.40,97.30 L522.90,97.32 L523.40,97.37 L523.90,97.44 L524.40,97.55 L524.90,97.67 L525.40,97.83 L525.90,98.00 L526.40,98.19 L526.90,98.40 L527.40,98.62 L527.90,98.86 L528.40,99.10 L528.90,99.35 L529.40,99.60 L529.90,99.85 L530.40,100.09 L530.90,100.33 L531.40,100.56 L531.90,100.77 L532.40,100.96 L532.90,101.14 L533.40,101.30 L533.90,101.43 L534.40,101.54 L534.90,101.62 L535.40,101.67 L535.90,101.70 L536.40,101.69 L536.90,101.66 L537.40,101.60 L537.90,101.52 L538.40,101.41 L538.90,101.27 L539.40,101.11 L539.90,100.93 L540.40,100.73 L540.90,100.51 L541.40,100.28 L541.90,100.05 L542.40,99.80 L542.90,99.55 L543.40,99.30 L543.90,99.05 L544.40,98.81 L544.90,98.58 L545.40,98.36 L545.90,98.15 L546.40,97.96 L546.90,97.79 L547.40,97.65 L547.90,97.52 L548.40,97.43 L548.90,97.36 L549.40,97.31 L549.90,97.30 L550.40,97.31 L550.8,108.3 L431.9,108.3 Z" fill="#d8d8d8"/>
<path d="M433.60,86.00 L435.10,58.00 L438.10,58.00 L439.60,86.00 Z" fill="#6a6a6a" opacity="0.6" filter="url(#bl15)"/>
<path d="M461.60,86.00 L463.10,58.00 L466.10,58.00 L467.60,86.00 Z" fill="#6a6a6a" opacity="0.6" filter="url(#bl15)"/>
<path d="M489.60,86.00 L491.10,58.00 L494.10,58.00 L495.60,86.00 Z" fill="#6a6a6a" opacity="0.6" filter="url(#bl15)"/>
<path d="M517.60,86.00 L519.10,58.00 L522.10,58.00 L523.60,86.00 Z" fill="#6a6a6a" opacity="0.6" filter="url(#bl15)"/>
<path d="M545.60,86.00 L547.10,58.00 L550.10,58.00 L551.60,86.00 Z" fill="#6a6a6a" opacity="0.6" filter="url(#bl15)"/>
<rect x="433.9" y="34.3" width="114.89999999999998" height="72.0" filter="url(#nz1)" style="mix-blend-mode:overlay" opacity="0.5"/>
<rect x="433.9" y="34.3" width="114.89999999999998" height="72.0" filter="url(#hz)" opacity="0.25" clip-path="url(#ec1a)"/>
<path d="M431.90,99.85 L432.40,99.60 L432.90,99.35 L433.40,99.10 L433.90,98.86 L434.40,98.62 L434.90,98.40 L435.40,98.19 L435.90,98.00 L436.40,97.83 L436.90,97.67 L437.40,97.55 L437.90,97.44 L438.40,97.37 L438.90,97.32 L439.40,97.30 L439.90,97.31 L440.40,97.35 L440.90,97.41 L441.40,97.50 L441.90,97.62 L442.40,97.76 L442.90,97.93 L443.40,98.11 L443.90,98.31 L444.40,98.53 L444.90,98.76 L445.40,99.00 L445.90,99.25 L446.40,99.50 L446.90,99.75 L447.40,100.00 L447.90,100.24 L448.40,100.47 L448.90,100.69 L449.40,100.89 L449.90,101.07 L450.40,101.24 L450.90,101.38 L451.40,101.50 L451.90,101.59 L452.40,101.65 L452.90,101.69 L453.40,101.70 L453.90,101.68 L454.40,101.63 L454.90,101.56 L455.40,101.45 L455.90,101.33 L456.40,101.17 L456.90,101.00 L457.40,100.81 L457.90,100.60 L458.40,100.38 L458.90,100.14 L459.40,99.90 L459.90,99.65 L460.40,99.40 L460.90,99.15 L461.40,98.91 L461.90,98.67 L462.40,98.44 L462.90,98.23 L463.40,98.04 L463.90,97.86 L464.40,97.70 L464.90,97.57 L465.40,97.46 L465.90,97.38 L466.40,97.33 L466.90,97.30 L467.40,97.31 L467.90,97.34 L468.40,97.40 L468.90,97.48 L469.40,97.59 L469.90,97.73 L470.40,97.89 L470.90,98.07 L471.40,98.27 L471.90,98.49 L472.40,98.72 L472.90,98.95 L473.40,99.20 L473.90,99.45 L474.40,99.70 L474.90,99.95 L475.40,100.19 L475.90,100.42 L476.40,100.64 L476.90,100.85 L477.40,101.04 L477.90,101.21 L478.40,101.35 L478.90,101.48 L479.40,101.57 L479.90,101.64 L480.40,101.69 L480.90,101.70 L481.40,101.69 L481.90,101.64 L482.40,101.57 L482.90,101.48 L483.40,101.35 L483.90,101.21 L484.40,101.04 L484.90,100.85 L485.40,100.64 L485.90,100.42 L486.40,100.19 L486.90,99.95 L487.40,99.70 L487.90,99.45 L488.40,99.20 L488.90,98.95 L489.40,98.72 L489.90,98.49 L490.40,98.27 L490.90,98.07 L491.40,97.89 L491.90,97.73 L492.40,97.59 L492.90,97.48 L493.40,97.40 L493.90,97.34 L494.40,97.31 L494.90,97.30 L495.40,97.33 L495.90,97.38 L496.40,97.46 L496.90,97.57 L497.40,97.70 L497.90,97.86 L498.40,98.04 L498.90,98.23 L499.40,98.44 L499.90,98.67 L500.40,98.91 L500.90,99.15 L501.40,99.40 L501.90,99.65 L502.40,99.90 L502.90,100.14 L503.40,100.38 L503.90,100.60 L504.40,100.81 L504.90,101.00 L505.40,101.17 L505.90,101.33 L506.40,101.45 L506.90,101.56 L507.40,101.63 L507.90,101.68 L508.40,101.70 L508.90,101.69 L509.40,101.65 L509.90,101.59 L510.40,101.50 L510.90,101.38 L511.40,101.24 L511.90,101.07 L512.40,100.89 L512.90,100.69 L513.40,100.47 L513.90,100.24 L514.40,100.00 L514.90,99.75 L515.40,99.50 L515.90,99.25 L516.40,99.00 L516.90,98.76 L517.40,98.53 L517.90,98.31 L518.40,98.11 L518.90,97.93 L519.40,97.76 L519.90,97.62 L520.40,97.50 L520.90,97.41 L521.40,97.35 L521.90,97.31 L522.40,97.30 L522.90,97.32 L523.40,97.37 L523.90,97.44 L524.40,97.55 L524.90,97.67 L525.40,97.83 L525.90,98.00 L526.40,98.19 L526.90,98.40 L527.40,98.62 L527.90,98.86 L528.40,99.10 L528.90,99.35 L529.40,99.60 L529.90,99.85 L530.40,100.09 L530.90,100.33 L531.40,100.56 L531.90,100.77 L532.40,100.96 L532.90,101.14 L533.40,101.30 L533.90,101.43 L534.40,101.54 L534.90,101.62 L535.40,101.67 L535.90,101.70 L536.40,101.69 L536.90,101.66 L537.40,101.60 L537.90,101.52 L538.40,101.41 L538.90,101.27 L539.40,101.11 L539.90,100.93 L540.40,100.73 L540.90,100.51 L541.40,100.28 L541.90,100.05 L542.40,99.80 L542.90,99.55 L543.40,99.30 L543.90,99.05 L544.40,98.81 L544.90,98.58 L545.40,98.36 L545.90,98.15 L546.40,97.96 L546.90,97.79 L547.40,97.65 L547.90,97.52 L548.40,97.43 L548.90,97.36 L549.40,97.31 L549.90,97.30 L550.40,97.31 L550.8,108.3 L431.9,108.3 Z" fill="#fff" opacity="0.5"/>
<path d="M431.90,54.13 L432.40,54.46 L432.90,54.82 L433.40,55.19 L433.90,55.59 L434.40,55.94 L434.90,56.22 L435.40,56.44 L435.90,56.56 L436.40,56.61 L436.90,56.60 L437.40,56.53 L437.90,56.40 L438.40,56.18 L438.90,55.88 L439.40,55.51 L439.90,55.11 L440.40,54.74 L440.90,54.40 L441.40,54.07 L441.90,53.76 L442.40,53.46 L442.90,53.19 L443.40,52.93 L443.90,52.69 L444.40,52.46 L444.90,52.25 L445.40,52.06 L445.90,51.88 L446.40,51.73 L446.90,51.58 L447.40,51.46 L447.90,51.36 L448.40,51.27 L448.90,51.20 L449.40,51.15 L449.90,51.11 L450.40,51.10 L450.90,51.10 L451.40,51.12 L451.90,51.16 L452.40,51.21 L452.90,51.28 L453.40,51.38 L453.90,51.48 L454.40,51.61 L454.90,51.76 L455.40,51.92 L455.90,52.10 L456.40,52.29 L456.90,52.50 L457.40,52.73 L457.90,52.98 L458.40,53.24 L458.90,53.52 L459.40,53.82 L459.90,54.13 L460.40,54.46 L460.90,54.82 L461.40,55.19 L461.90,55.59 L462.40,55.94 L462.90,56.22 L463.40,56.44 L463.90,56.56 L464.40,56.61 L464.90,56.60 L465.40,56.53 L465.90,56.40 L466.40,56.18 L466.90,55.88 L467.40,55.51 L467.90,55.11 L468.40,54.74 L468.90,54.40 L469.40,54.07 L469.90,53.76 L470.40,53.46 L470.90,53.19 L471.40,52.93 L471.90,52.69 L472.40,52.46 L472.90,52.25 L473.40,52.06 L473.90,51.88 L474.40,51.73 L474.90,51.58 L475.40,51.46 L475.90,51.36 L476.40,51.27 L476.90,51.20 L477.40,51.15 L477.90,51.11 L478.40,51.10 L478.90,51.10 L479.40,51.12 L479.90,51.16 L480.40,51.21 L480.90,51.28 L481.40,51.38 L481.90,51.48 L482.40,51.61 L482.90,51.76 L483.40,51.92 L483.90,52.10 L484.40,52.29 L484.90,52.50 L485.40,52.73 L485.90,52.98 L486.40,53.24 L486.90,53.52 L487.40,53.82 L487.90,54.13 L488.40,54.46 L488.90,54.82 L489.40,55.19 L489.90,55.59 L490.40,55.94 L490.90,56.22 L491.40,56.44 L491.90,56.56 L492.40,56.61 L492.90,56.60 L493.40,56.53 L493.90,56.40 L494.40,56.18 L494.90,55.88 L495.40,55.51 L495.90,55.11 L496.40,54.74 L496.90,54.40 L497.40,54.07 L497.90,53.76 L498.40,53.46 L498.90,53.19 L499.40,52.93 L499.90,52.69 L500.40,52.46 L500.90,52.25 L501.40,52.06 L501.90,51.88 L502.40,51.73 L502.90,51.58 L503.40,51.46 L503.90,51.36 L504.40,51.27 L504.90,51.20 L505.40,51.15 L505.90,51.11 L506.40,51.10 L506.90,51.10 L507.40,51.12 L507.90,51.16 L508.40,51.21 L508.90,51.28 L509.40,51.38 L509.90,51.48 L510.40,51.61 L510.90,51.76 L511.40,51.92 L511.90,52.10 L512.40,52.29 L512.90,52.50 L513.40,52.73 L513.90,52.98 L514.40,53.24 L514.90,53.52 L515.40,53.82 L515.90,54.13 L516.40,54.46 L516.90,54.82 L517.40,55.19 L517.90,55.59 L518.40,55.94 L518.90,56.22 L519.40,56.44 L519.90,56.56 L520.40,56.61 L520.90,56.60 L521.40,56.53 L521.90,56.40 L522.40,56.18 L522.90,55.88 L523.40,55.51 L523.90,55.11 L524.40,54.74 L524.90,54.40 L525.40,54.07 L525.90,53.76 L526.40,53.46 L526.90,53.19 L527.40,52.93 L527.90,52.69 L528.40,52.46 L528.90,52.25 L529.40,52.06 L529.90,51.88 L530.40,51.73 L530.90,51.58 L531.40,51.46 L531.90,51.36 L532.40,51.27 L532.90,51.20 L533.40,51.15 L533.90,51.11 L534.40,51.10 L534.90,51.10 L535.40,51.12 L535.90,51.16 L536.40,51.21 L536.90,51.28 L537.40,51.38 L537.90,51.48 L538.40,51.61 L538.90,51.76 L539.40,51.92 L539.90,52.10 L540.40,52.29 L540.90,52.50 L541.40,52.73 L541.90,52.98 L542.40,53.24 L542.90,53.52 L543.40,53.82 L543.90,54.13 L544.40,54.46 L544.90,54.82 L545.40,55.19 L545.90,55.59 L546.40,55.94 L546.90,56.22 L547.40,56.44 L547.90,56.56 L548.40,56.61 L548.90,56.60 L549.40,56.53 L549.90,56.40 L550.40,56.18" stroke="#2b9be0" stroke-width="1.5" fill="none"/>
<path d="M431.90,89.86 L432.40,89.26 L432.90,88.66 L433.40,88.07 L433.90,87.50 L434.40,86.96 L434.90,86.44 L435.40,85.97 L435.90,85.55 L436.40,85.17 L436.90,84.85 L437.40,84.59 L437.90,84.40 L438.40,84.27 L438.90,84.21 L439.40,84.21 L439.90,84.29 L440.40,84.43 L440.90,84.64 L441.40,84.91 L441.90,85.24 L442.40,85.63 L442.90,86.06 L443.40,86.54 L443.90,87.06 L444.40,87.61 L444.90,88.19 L445.40,88.78 L445.90,89.38 L446.40,89.98 L446.90,90.58 L447.40,91.16 L447.90,91.72 L448.40,92.25 L448.90,92.75 L449.40,93.20 L449.90,93.61 L450.40,93.96 L450.90,94.26 L451.40,94.49 L451.90,94.66 L452.40,94.77 L452.90,94.80 L453.40,94.77 L453.90,94.66 L454.40,94.49 L454.90,94.26 L455.40,93.96 L455.90,93.61 L456.40,93.20 L456.90,92.75 L457.40,92.25 L457.90,91.72 L458.40,91.16 L458.90,90.58 L459.40,89.98 L459.90,89.38 L460.40,88.78 L460.90,88.19 L461.40,87.61 L461.90,87.06 L462.40,86.54 L462.90,86.06 L463.40,85.63 L463.90,85.24 L464.40,84.91 L464.90,84.64 L465.40,84.43 L465.90,84.29 L466.40,84.21 L466.90,84.21 L467.40,84.27 L467.90,84.40 L468.40,84.59 L468.90,84.85 L469.40,85.17 L469.90,85.55 L470.40,85.97 L470.90,86.44 L471.40,86.96 L471.90,87.50 L472.40,88.07 L472.90,88.66 L473.40,89.26 L473.90,89.86 L474.40,90.46 L474.90,91.05 L475.40,91.61 L475.90,92.15 L476.40,92.65 L476.90,93.12 L477.40,93.53 L477.90,93.90 L478.40,94.21 L478.90,94.45 L479.40,94.63 L479.90,94.75 L480.40,94.80 L480.90,94.78 L481.40,94.69 L481.90,94.53 L482.40,94.31 L482.90,94.03 L483.40,93.69 L483.90,93.29 L484.40,92.84 L484.90,92.36 L485.40,91.83 L485.90,91.27 L486.40,90.70 L486.90,90.10 L487.40,89.50 L487.90,88.90 L488.40,88.30 L488.90,87.73 L489.40,87.17 L489.90,86.64 L490.40,86.16 L490.90,85.71 L491.40,85.31 L491.90,84.97 L492.40,84.69 L492.90,84.47 L493.40,84.31 L493.90,84.22 L494.40,84.20 L494.90,84.25 L495.40,84.37 L495.90,84.55 L496.40,84.79 L496.90,85.10 L497.40,85.47 L497.90,85.88 L498.40,86.35 L498.90,86.85 L499.40,87.39 L499.90,87.95 L500.40,88.54 L500.90,89.14 L501.40,89.74 L501.90,90.34 L502.40,90.93 L502.90,91.50 L503.40,92.04 L503.90,92.56 L504.40,93.03 L504.90,93.45 L505.40,93.83 L505.90,94.15 L506.40,94.41 L506.90,94.60 L507.40,94.73 L507.90,94.79 L508.40,94.79 L508.90,94.71 L509.40,94.57 L509.90,94.36 L510.40,94.09 L510.90,93.76 L511.40,93.37 L511.90,92.94 L512.40,92.46 L512.90,91.94 L513.40,91.39 L513.90,90.81 L514.40,90.22 L514.90,89.62 L515.40,89.02 L515.90,88.42 L516.40,87.84 L516.90,87.28 L517.40,86.75 L517.90,86.25 L518.40,85.80 L518.90,85.39 L519.40,85.04 L519.90,84.74 L520.40,84.51 L520.90,84.34 L521.40,84.23 L521.90,84.20 L522.40,84.23 L522.90,84.34 L523.40,84.51 L523.90,84.74 L524.40,85.04 L524.90,85.39 L525.40,85.80 L525.90,86.25 L526.40,86.75 L526.90,87.28 L527.40,87.84 L527.90,88.42 L528.40,89.02 L528.90,89.62 L529.40,90.22 L529.90,90.81 L530.40,91.39 L530.90,91.94 L531.40,92.46 L531.90,92.94 L532.40,93.37 L532.90,93.76 L533.40,94.09 L533.90,94.36 L534.40,94.57 L534.90,94.71 L535.40,94.79 L535.90,94.79 L536.40,94.73 L536.90,94.60 L537.40,94.41 L537.90,94.15 L538.40,93.83 L538.90,93.45 L539.40,93.03 L539.90,92.56 L540.40,92.04 L540.90,91.50 L541.40,90.93 L541.90,90.34 L542.40,89.74 L542.90,89.14 L543.40,88.54 L543.90,87.95 L544.40,87.39 L544.90,86.85 L545.40,86.35 L545.90,85.88 L546.40,85.47 L546.90,85.10 L547.40,84.79 L547.90,84.55 L548.40,84.37 L548.90,84.25 L549.40,84.20 L549.90,84.22 L550.40,84.31" stroke="#2b9be0" stroke-width="1.5" fill="none"/>
<path d="M431.90,99.85 L432.40,99.60 L432.90,99.35 L433.40,99.10 L433.90,98.86 L434.40,98.62 L434.90,98.40 L435.40,98.19 L435.90,98.00 L436.40,97.83 L436.90,97.67 L437.40,97.55 L437.90,97.44 L438.40,97.37 L438.90,97.32 L439.40,97.30 L439.90,97.31 L440.40,97.35 L440.90,97.41 L441.40,97.50 L441.90,97.62 L442.40,97.76 L442.90,97.93 L443.40,98.11 L443.90,98.31 L444.40,98.53 L444.90,98.76 L445.40,99.00 L445.90,99.25 L446.40,99.50 L446.90,99.75 L447.40,100.00 L447.90,100.24 L448.40,100.47 L448.90,100.69 L449.40,100.89 L449.90,101.07 L450.40,101.24 L450.90,101.38 L451.40,101.50 L451.90,101.59 L452.40,101.65 L452.90,101.69 L453.40,101.70 L453.90,101.68 L454.40,101.63 L454.90,101.56 L455.40,101.45 L455.90,101.33 L456.40,101.17 L456.90,101.00 L457.40,100.81 L457.90,100.60 L458.40,100.38 L458.90,100.14 L459.40,99.90 L459.90,99.65 L460.40,99.40 L460.90,99.15 L461.40,98.91 L461.90,98.67 L462.40,98.44 L462.90,98.23 L463.40,98.04 L463.90,97.86 L464.40,97.70 L464.90,97.57 L465.40,97.46 L465.90,97.38 L466.40,97.33 L466.90,97.30 L467.40,97.31 L467.90,97.34 L468.40,97.40 L468.90,97.48 L469.40,97.59 L469.90,97.73 L470.40,97.89 L470.90,98.07 L471.40,98.27 L471.90,98.49 L472.40,98.72 L472.90,98.95 L473.40,99.20 L473.90,99.45 L474.40,99.70 L474.90,99.95 L475.40,100.19 L475.90,100.42 L476.40,100.64 L476.90,100.85 L477.40,101.04 L477.90,101.21 L478.40,101.35 L478.90,101.48 L479.40,101.57 L479.90,101.64 L480.40,101.69 L480.90,101.70 L481.40,101.69 L481.90,101.64 L482.40,101.57 L482.90,101.48 L483.40,101.35 L483.90,101.21 L484.40,101.04 L484.90,100.85 L485.40,100.64 L485.90,100.42 L486.40,100.19 L486.90,99.95 L487.40,99.70 L487.90,99.45 L488.40,99.20 L488.90,98.95 L489.40,98.72 L489.90,98.49 L490.40,98.27 L490.90,98.07 L491.40,97.89 L491.90,97.73 L492.40,97.59 L492.90,97.48 L493.40,97.40 L493.90,97.34 L494.40,97.31 L494.90,97.30 L495.40,97.33 L495.90,97.38 L496.40,97.46 L496.90,97.57 L497.40,97.70 L497.90,97.86 L498.40,98.04 L498.90,98.23 L499.40,98.44 L499.90,98.67 L500.40,98.91 L500.90,99.15 L501.40,99.40 L501.90,99.65 L502.40,99.90 L502.90,100.14 L503.40,100.38 L503.90,100.60 L504.40,100.81 L504.90,101.00 L505.40,101.17 L505.90,101.33 L506.40,101.45 L506.90,101.56 L507.40,101.63 L507.90,101.68 L508.40,101.70 L508.90,101.69 L509.40,101.65 L509.90,101.59 L510.40,101.50 L510.90,101.38 L511.40,101.24 L511.90,101.07 L512.40,100.89 L512.90,100.69 L513.40,100.47 L513.90,100.24 L514.40,100.00 L514.90,99.75 L515.40,99.50 L515.90,99.25 L516.40,99.00 L516.90,98.76 L517.40,98.53 L517.90,98.31 L518.40,98.11 L518.90,97.93 L519.40,97.76 L519.90,97.62 L520.40,97.50 L520.90,97.41 L521.40,97.35 L521.90,97.31 L522.40,97.30 L522.90,97.32 L523.40,97.37 L523.90,97.44 L524.40,97.55 L524.90,97.67 L525.40,97.83 L525.90,98.00 L526.40,98.19 L526.90,98.40 L527.40,98.62 L527.90,98.86 L528.40,99.10 L528.90,99.35 L529.40,99.60 L529.90,99.85 L530.40,100.09 L530.90,100.33 L531.40,100.56 L531.90,100.77 L532.40,100.96 L532.90,101.14 L533.40,101.30 L533.90,101.43 L534.40,101.54 L534.90,101.62 L535.40,101.67 L535.90,101.70 L536.40,101.69 L536.90,101.66 L537.40,101.60 L537.90,101.52 L538.40,101.41 L538.90,101.27 L539.40,101.11 L539.90,100.93 L540.40,100.73 L540.90,100.51 L541.40,100.28 L541.90,100.05 L542.40,99.80 L542.90,99.55 L543.40,99.30 L543.90,99.05 L544.40,98.81 L544.90,98.58 L545.40,98.36 L545.90,98.15 L546.40,97.96 L546.90,97.79 L547.40,97.65 L547.90,97.52 L548.40,97.43 L548.90,97.36 L549.40,97.31 L549.90,97.30 L550.40,97.31" stroke="#ea8a2a" stroke-width="1.5" fill="none"/>
<rect x="508.00" y="95.0" width="2.6" height="6.60" fill="#e0262a"/>
</g>
<clipPath id="ec2"><rect x="563.4" y="34.3" width="114.39999999999998" height="71.0"/></clipPath>
<clipPath id="ec2a"><path d="M561.40,56.42 L561.90,56.57 L562.40,56.69 L562.90,56.76 L563.40,56.80 L563.90,56.79 L564.40,56.74 L564.90,56.65 L565.40,56.52 L565.90,56.35 L566.40,56.14 L566.90,55.90 L567.40,55.63 L567.90,55.33 L568.40,55.01 L568.90,54.67 L569.40,54.31 L569.90,53.94 L570.40,53.57 L570.90,53.19 L571.40,52.82 L571.90,52.45 L572.40,52.09 L572.90,51.75 L573.40,51.44 L573.90,51.14 L574.40,50.87 L574.90,50.64 L575.40,50.43 L575.90,50.27 L576.40,50.14 L576.90,50.05 L577.40,50.01 L577.90,50.00 L578.40,50.04 L578.90,50.12 L579.40,50.24 L579.90,50.40 L580.40,50.59 L580.90,50.82 L581.40,51.08 L581.90,51.37 L582.40,51.69 L582.90,52.03 L583.40,52.38 L583.90,52.74 L584.40,53.12 L584.90,53.49 L585.40,53.87 L585.90,54.24 L586.40,54.60 L586.90,54.95 L587.40,55.27 L587.90,55.57 L588.40,55.85 L588.90,56.10 L589.40,56.31 L589.90,56.49 L590.40,56.63 L590.90,56.72 L591.40,56.78 L591.90,56.80 L592.40,56.77 L592.90,56.71 L593.40,56.60 L593.90,56.45 L594.40,56.27 L594.90,56.05 L595.40,55.80 L595.90,55.52 L596.40,55.21 L596.90,54.88 L597.40,54.53 L597.90,54.17 L598.40,53.80 L598.90,53.42 L599.40,53.04 L599.90,52.67 L600.40,52.31 L600.90,51.96 L601.40,51.62 L601.90,51.31 L602.40,51.03 L602.90,50.77 L603.40,50.55 L603.90,50.36 L604.40,50.21 L604.90,50.10 L605.40,50.03 L605.90,50.00 L606.40,50.01 L606.90,50.07 L607.40,50.16 L607.90,50.30 L608.40,50.47 L608.90,50.68 L609.40,50.92 L609.90,51.20 L610.40,51.50 L610.90,51.82 L611.40,52.16 L611.90,52.52 L612.40,52.89 L612.90,53.27 L613.40,53.65 L613.90,54.02 L614.40,54.39 L614.90,54.74 L615.40,55.08 L615.90,55.40 L616.40,55.69 L616.90,55.95 L617.40,56.19 L617.90,56.38 L618.40,56.55 L618.90,56.67 L619.40,56.75 L619.90,56.79 L620.40,56.79 L620.90,56.75 L621.40,56.67 L621.90,56.55 L622.40,56.38 L622.90,56.19 L623.40,55.95 L623.90,55.69 L624.40,55.40 L624.90,55.08 L625.40,54.74 L625.90,54.39 L626.40,54.02 L626.90,53.65 L627.40,53.27 L627.90,52.89 L628.40,52.52 L628.90,52.16 L629.40,51.82 L629.90,51.50 L630.40,51.20 L630.90,50.92 L631.40,50.68 L631.90,50.47 L632.40,50.30 L632.90,50.16 L633.40,50.07 L633.90,50.01 L634.40,50.00 L634.90,50.03 L635.40,50.10 L635.90,50.21 L636.40,50.36 L636.90,50.55 L637.40,50.77 L637.90,51.03 L638.40,51.31 L638.90,51.62 L639.40,51.96 L639.90,52.31 L640.40,52.67 L640.90,53.04 L641.40,53.42 L641.90,53.80 L642.40,54.17 L642.90,54.53 L643.40,54.88 L643.90,55.21 L644.40,55.52 L644.90,55.80 L645.40,56.05 L645.90,56.27 L646.40,56.45 L646.90,56.60 L647.40,56.71 L647.90,56.77 L648.40,56.80 L648.90,56.78 L649.40,56.72 L649.90,56.63 L650.40,56.49 L650.90,56.31 L651.40,56.10 L651.90,55.85 L652.40,55.57 L652.90,55.27 L653.40,54.95 L653.90,54.60 L654.40,54.24 L654.90,53.87 L655.40,53.49 L655.90,53.12 L656.40,52.74 L656.90,52.38 L657.40,52.03 L657.90,51.69 L658.40,51.37 L658.90,51.08 L659.40,50.82 L659.90,50.59 L660.40,50.40 L660.90,50.24 L661.40,50.12 L661.90,50.04 L662.40,50.00 L662.90,50.01 L663.40,50.05 L663.90,50.14 L664.40,50.27 L664.90,50.43 L665.40,50.64 L665.90,50.87 L666.40,51.14 L666.90,51.44 L667.40,51.75 L667.90,52.09 L668.40,52.45 L668.90,52.82 L669.40,53.19 L669.90,53.57 L670.40,53.94 L670.90,54.31 L671.40,54.67 L671.90,55.01 L672.40,55.33 L672.90,55.63 L673.40,55.90 L673.90,56.14 L674.40,56.35 L674.90,56.52 L675.40,56.65 L675.90,56.74 L676.40,56.79 L676.90,56.80 L677.40,56.76 L677.90,56.69 L678.40,56.57 L678.90,56.42 L679.40,56.23 L679.8,32.3 L561.4,32.3 Z"/></clipPath>
<g clip-path="url(#ec2)">
<rect x="563.4" y="34.3" width="114.39999999999998" height="71.0" fill="#565656"/>
<rect x="563.4" y="34.3" width="114.39999999999998" height="8" fill="#7e7e7e"/>
<rect x="563.4" y="35.5" width="114.39999999999998" height="1.2" fill="#cfcfcf"/>
<rect x="563.4" y="38.699999999999996" width="114.39999999999998" height="0.9" fill="#bcbcbc"/>
<path d="M561.40,56.42 L561.90,56.57 L562.40,56.69 L562.90,56.76 L563.40,56.80 L563.90,56.79 L564.40,56.74 L564.90,56.65 L565.40,56.52 L565.90,56.35 L566.40,56.14 L566.90,55.90 L567.40,55.63 L567.90,55.33 L568.40,55.01 L568.90,54.67 L569.40,54.31 L569.90,53.94 L570.40,53.57 L570.90,53.19 L571.40,52.82 L571.90,52.45 L572.40,52.09 L572.90,51.75 L573.40,51.44 L573.90,51.14 L574.40,50.87 L574.90,50.64 L575.40,50.43 L575.90,50.27 L576.40,50.14 L576.90,50.05 L577.40,50.01 L577.90,50.00 L578.40,50.04 L578.90,50.12 L579.40,50.24 L579.90,50.40 L580.40,50.59 L580.90,50.82 L581.40,51.08 L581.90,51.37 L582.40,51.69 L582.90,52.03 L583.40,52.38 L583.90,52.74 L584.40,53.12 L584.90,53.49 L585.40,53.87 L585.90,54.24 L586.40,54.60 L586.90,54.95 L587.40,55.27 L587.90,55.57 L588.40,55.85 L588.90,56.10 L589.40,56.31 L589.90,56.49 L590.40,56.63 L590.90,56.72 L591.40,56.78 L591.90,56.80 L592.40,56.77 L592.90,56.71 L593.40,56.60 L593.90,56.45 L594.40,56.27 L594.90,56.05 L595.40,55.80 L595.90,55.52 L596.40,55.21 L596.90,54.88 L597.40,54.53 L597.90,54.17 L598.40,53.80 L598.90,53.42 L599.40,53.04 L599.90,52.67 L600.40,52.31 L600.90,51.96 L601.40,51.62 L601.90,51.31 L602.40,51.03 L602.90,50.77 L603.40,50.55 L603.90,50.36 L604.40,50.21 L604.90,50.10 L605.40,50.03 L605.90,50.00 L606.40,50.01 L606.90,50.07 L607.40,50.16 L607.90,50.30 L608.40,50.47 L608.90,50.68 L609.40,50.92 L609.90,51.20 L610.40,51.50 L610.90,51.82 L611.40,52.16 L611.90,52.52 L612.40,52.89 L612.90,53.27 L613.40,53.65 L613.90,54.02 L614.40,54.39 L614.90,54.74 L615.40,55.08 L615.90,55.40 L616.40,55.69 L616.90,55.95 L617.40,56.19 L617.90,56.38 L618.40,56.55 L618.90,56.67 L619.40,56.75 L619.90,56.79 L620.40,56.79 L620.90,56.75 L621.40,56.67 L621.90,56.55 L622.40,56.38 L622.90,56.19 L623.40,55.95 L623.90,55.69 L624.40,55.40 L624.90,55.08 L625.40,54.74 L625.90,54.39 L626.40,54.02 L626.90,53.65 L627.40,53.27 L627.90,52.89 L628.40,52.52 L628.90,52.16 L629.40,51.82 L629.90,51.50 L630.40,51.20 L630.90,50.92 L631.40,50.68 L631.90,50.47 L632.40,50.30 L632.90,50.16 L633.40,50.07 L633.90,50.01 L634.40,50.00 L634.90,50.03 L635.40,50.10 L635.90,50.21 L636.40,50.36 L636.90,50.55 L637.40,50.77 L637.90,51.03 L638.40,51.31 L638.90,51.62 L639.40,51.96 L639.90,52.31 L640.40,52.67 L640.90,53.04 L641.40,53.42 L641.90,53.80 L642.40,54.17 L642.90,54.53 L643.40,54.88 L643.90,55.21 L644.40,55.52 L644.90,55.80 L645.40,56.05 L645.90,56.27 L646.40,56.45 L646.90,56.60 L647.40,56.71 L647.90,56.77 L648.40,56.80 L648.90,56.78 L649.40,56.72 L649.90,56.63 L650.40,56.49 L650.90,56.31 L651.40,56.10 L651.90,55.85 L652.40,55.57 L652.90,55.27 L653.40,54.95 L653.90,54.60 L654.40,54.24 L654.90,53.87 L655.40,53.49 L655.90,53.12 L656.40,52.74 L656.90,52.38 L657.40,52.03 L657.90,51.69 L658.40,51.37 L658.90,51.08 L659.40,50.82 L659.90,50.59 L660.40,50.40 L660.90,50.24 L661.40,50.12 L661.90,50.04 L662.40,50.00 L662.90,50.01 L663.40,50.05 L663.90,50.14 L664.40,50.27 L664.90,50.43 L665.40,50.64 L665.90,50.87 L666.40,51.14 L666.90,51.44 L667.40,51.75 L667.90,52.09 L668.40,52.45 L668.90,52.82 L669.40,53.19 L669.90,53.57 L670.40,53.94 L670.90,54.31 L671.40,54.67 L671.90,55.01 L672.40,55.33 L672.90,55.63 L673.40,55.90 L673.90,56.14 L674.40,56.35 L674.90,56.52 L675.40,56.65 L675.90,56.74 L676.40,56.79 L676.90,56.80 L677.40,56.76 L677.90,56.69 L678.40,56.57 L678.90,56.42 L679.40,56.23 L679.40,84.34 L678.90,84.30 L678.40,84.32 L677.90,84.38 L677.40,84.49 L676.90,84.65 L676.40,84.86 L675.90,85.10 L675.40,85.39 L674.90,85.72 L674.40,86.07 L673.90,86.45 L673.40,86.86 L672.90,87.29 L672.40,87.73 L671.90,88.17 L671.40,88.63 L670.90,89.07 L670.40,89.51 L669.90,89.94 L669.40,90.35 L668.90,90.73 L668.40,91.08 L667.90,91.41 L667.40,91.70 L666.90,91.94 L666.40,92.15 L665.90,92.31 L665.40,92.42 L664.90,92.48 L664.40,92.50 L663.90,92.46 L663.40,92.38 L662.90,92.25 L662.40,92.07 L661.90,91.85 L661.40,91.59 L660.90,91.28 L660.40,90.95 L659.90,90.58 L659.40,90.18 L658.90,89.77 L658.40,89.34 L657.90,88.89 L657.40,88.45 L656.90,88.00 L656.40,87.55 L655.90,87.12 L655.40,86.70 L654.90,86.30 L654.40,85.92 L653.90,85.58 L653.40,85.27 L652.90,85.00 L652.40,84.77 L651.90,84.58 L651.40,84.44 L650.90,84.35 L650.40,84.30 L649.90,84.31 L649.40,84.36 L648.90,84.47 L648.40,84.62 L647.90,84.81 L647.40,85.05 L646.90,85.33 L646.40,85.65 L645.90,86.00 L645.40,86.38 L644.90,86.78 L644.40,87.20 L643.90,87.64 L643.40,88.09 L642.90,88.54 L642.40,88.98 L641.90,89.42 L641.40,89.85 L640.90,90.27 L640.40,90.65 L639.90,91.02 L639.40,91.35 L638.90,91.64 L638.40,91.90 L637.90,92.11 L637.40,92.28 L636.90,92.40 L636.40,92.48 L635.90,92.50 L635.40,92.48 L634.90,92.40 L634.40,92.28 L633.90,92.11 L633.40,91.90 L632.90,91.64 L632.40,91.35 L631.90,91.02 L631.40,90.65 L630.90,90.27 L630.40,89.85 L629.90,89.42 L629.40,88.98 L628.90,88.54 L628.40,88.09 L627.90,87.64 L627.40,87.20 L626.90,86.78 L626.40,86.38 L625.90,86.00 L625.40,85.65 L624.90,85.33 L624.40,85.05 L623.90,84.81 L623.40,84.62 L622.90,84.47 L622.40,84.36 L621.90,84.31 L621.40,84.30 L620.90,84.35 L620.40,84.44 L619.90,84.58 L619.40,84.77 L618.90,85.00 L618.40,85.27 L617.90,85.58 L617.40,85.92 L616.90,86.30 L616.40,86.70 L615.90,87.12 L615.40,87.55 L614.90,88.00 L614.40,88.45 L613.90,88.89 L613.40,89.34 L612.90,89.77 L612.40,90.18 L611.90,90.58 L611.40,90.95 L610.90,91.28 L610.40,91.59 L609.90,91.85 L609.40,92.07 L608.90,92.25 L608.40,92.38 L607.90,92.46 L607.40,92.50 L606.90,92.48 L606.40,92.42 L605.90,92.31 L605.40,92.15 L604.90,91.94 L604.40,91.70 L603.90,91.41 L603.40,91.08 L602.90,90.73 L602.40,90.35 L601.90,89.94 L601.40,89.51 L600.90,89.07 L600.40,88.63 L599.90,88.17 L599.40,87.73 L598.90,87.29 L598.40,86.86 L597.90,86.45 L597.40,86.07 L596.90,85.72 L596.40,85.39 L595.90,85.10 L595.40,84.86 L594.90,84.65 L594.40,84.49 L593.90,84.38 L593.40,84.32 L592.90,84.30 L592.40,84.34 L591.90,84.42 L591.40,84.55 L590.90,84.73 L590.40,84.95 L589.90,85.21 L589.40,85.52 L588.90,85.85 L588.40,86.22 L587.90,86.62 L587.40,87.03 L586.90,87.46 L586.40,87.91 L585.90,88.35 L585.40,88.80 L584.90,89.25 L584.40,89.68 L583.90,90.10 L583.40,90.50 L582.90,90.88 L582.40,91.22 L581.90,91.53 L581.40,91.80 L580.90,92.03 L580.40,92.22 L579.90,92.36 L579.40,92.45 L578.90,92.50 L578.40,92.49 L577.90,92.44 L577.40,92.33 L576.90,92.18 L576.40,91.99 L575.90,91.75 L575.40,91.47 L574.90,91.15 L574.40,90.80 L573.90,90.42 L573.40,90.02 L572.90,89.60 L572.40,89.16 L571.90,88.71 L571.40,88.26 L570.90,87.82 L570.40,87.38 L569.90,86.95 L569.40,86.53 L568.90,86.15 L568.40,85.78 L567.90,85.45 L567.40,85.16 L566.90,84.90 L566.40,84.69 L565.90,84.52 L565.40,84.40 L564.90,84.32 L564.40,84.30 L563.90,84.32 L563.40,84.40 L562.90,84.52 L562.40,84.69 L561.90,84.90 L561.40,85.16 Z" fill="#2c2c2c"/>
<path d="M561.40,86.66 L561.90,86.40 L562.40,86.19 L562.90,86.02 L563.40,85.90 L563.90,85.82 L564.40,85.80 L564.90,85.82 L565.40,85.90 L565.90,86.02 L566.40,86.19 L566.90,86.40 L567.40,86.66 L567.90,86.95 L568.40,87.28 L568.90,87.65 L569.40,88.03 L569.90,88.45 L570.40,88.88 L570.90,89.32 L571.40,89.76 L571.90,90.21 L572.40,90.66 L572.90,91.10 L573.40,91.52 L573.90,91.92 L574.40,92.30 L574.90,92.65 L575.40,92.97 L575.90,93.25 L576.40,93.49 L576.90,93.68 L577.40,93.83 L577.90,93.94 L578.40,93.99 L578.90,94.00 L579.40,93.95 L579.90,93.86 L580.40,93.72 L580.90,93.53 L581.40,93.30 L581.90,93.03 L582.40,92.72 L582.90,92.38 L583.40,92.00 L583.90,91.60 L584.40,91.18 L584.90,90.75 L585.40,90.30 L585.90,89.85 L586.40,89.41 L586.90,88.96 L587.40,88.53 L587.90,88.12 L588.40,87.72 L588.90,87.35 L589.40,87.02 L589.90,86.71 L590.40,86.45 L590.90,86.23 L591.40,86.05 L591.90,85.92 L592.40,85.84 L592.90,85.80 L593.40,85.82 L593.90,85.88 L594.40,85.99 L594.90,86.15 L595.40,86.36 L595.90,86.60 L596.40,86.89 L596.90,87.22 L597.40,87.57 L597.90,87.95 L598.40,88.36 L598.90,88.79 L599.40,89.23 L599.90,89.67 L600.40,90.13 L600.90,90.57 L601.40,91.01 L601.90,91.44 L602.40,91.85 L602.90,92.23 L603.40,92.58 L603.90,92.91 L604.40,93.20 L604.90,93.44 L605.40,93.65 L605.90,93.81 L606.40,93.92 L606.90,93.98 L607.40,94.00 L607.90,93.96 L608.40,93.88 L608.90,93.75 L609.40,93.57 L609.90,93.35 L610.40,93.09 L610.90,92.78 L611.40,92.45 L611.90,92.08 L612.40,91.68 L612.90,91.27 L613.40,90.84 L613.90,90.39 L614.40,89.95 L614.90,89.50 L615.40,89.05 L615.90,88.62 L616.40,88.20 L616.90,87.80 L617.40,87.42 L617.90,87.08 L618.40,86.77 L618.90,86.50 L619.40,86.27 L619.90,86.08 L620.40,85.94 L620.90,85.85 L621.40,85.80 L621.90,85.81 L622.40,85.86 L622.90,85.97 L623.40,86.12 L623.90,86.31 L624.40,86.55 L624.90,86.83 L625.40,87.15 L625.90,87.50 L626.40,87.88 L626.90,88.28 L627.40,88.70 L627.90,89.14 L628.40,89.59 L628.90,90.04 L629.40,90.48 L629.90,90.92 L630.40,91.35 L630.90,91.77 L631.40,92.15 L631.90,92.52 L632.40,92.85 L632.90,93.14 L633.40,93.40 L633.90,93.61 L634.40,93.78 L634.90,93.90 L635.40,93.98 L635.90,94.00 L636.40,93.98 L636.90,93.90 L637.40,93.78 L637.90,93.61 L638.40,93.40 L638.90,93.14 L639.40,92.85 L639.90,92.52 L640.40,92.15 L640.90,91.77 L641.40,91.35 L641.90,90.92 L642.40,90.48 L642.90,90.04 L643.40,89.59 L643.90,89.14 L644.40,88.70 L644.90,88.28 L645.40,87.88 L645.90,87.50 L646.40,87.15 L646.90,86.83 L647.40,86.55 L647.90,86.31 L648.40,86.12 L648.90,85.97 L649.40,85.86 L649.90,85.81 L650.40,85.80 L650.90,85.85 L651.40,85.94 L651.90,86.08 L652.40,86.27 L652.90,86.50 L653.40,86.77 L653.90,87.08 L654.40,87.42 L654.90,87.80 L655.40,88.20 L655.90,88.62 L656.40,89.05 L656.90,89.50 L657.40,89.95 L657.90,90.39 L658.40,90.84 L658.90,91.27 L659.40,91.68 L659.90,92.08 L660.40,92.45 L660.90,92.78 L661.40,93.09 L661.90,93.35 L662.40,93.57 L662.90,93.75 L663.40,93.88 L663.90,93.96 L664.40,94.00 L664.90,93.98 L665.40,93.92 L665.90,93.81 L666.40,93.65 L666.90,93.44 L667.40,93.20 L667.90,92.91 L668.40,92.58 L668.90,92.23 L669.40,91.85 L669.90,91.44 L670.40,91.01 L670.90,90.57 L671.40,90.13 L671.90,89.67 L672.40,89.23 L672.90,88.79 L673.40,88.36 L673.90,87.95 L674.40,87.57 L674.90,87.22 L675.40,86.89 L675.90,86.60 L676.40,86.36 L676.90,86.15 L677.40,85.99 L677.90,85.88 L678.40,85.82 L678.90,85.80 L679.40,85.84 L679.40,95.03 L678.90,95.00 L678.40,95.01 L677.90,95.06 L677.40,95.15 L676.90,95.28 L676.40,95.45 L675.90,95.65 L675.40,95.88 L674.90,96.14 L674.40,96.43 L673.90,96.73 L673.40,97.06 L672.90,97.41 L672.40,97.76 L671.90,98.12 L671.40,98.48 L670.90,98.84 L670.40,99.19 L669.90,99.54 L669.40,99.87 L668.90,100.17 L668.40,100.46 L667.90,100.72 L667.40,100.95 L666.90,101.15 L666.40,101.32 L665.90,101.45 L665.40,101.54 L664.90,101.59 L664.40,101.60 L663.90,101.57 L663.40,101.50 L662.90,101.40 L662.40,101.25 L661.90,101.08 L661.40,100.86 L660.90,100.62 L660.40,100.35 L659.90,100.05 L659.40,99.74 L658.90,99.40 L658.40,99.05 L657.90,98.70 L657.40,98.34 L656.90,97.97 L656.40,97.62 L655.90,97.27 L655.40,96.93 L654.90,96.61 L654.40,96.31 L653.90,96.03 L653.40,95.78 L652.90,95.56 L652.40,95.38 L651.90,95.23 L651.40,95.11 L650.90,95.04 L650.40,95.00 L649.90,95.01 L649.40,95.05 L648.90,95.13 L648.40,95.25 L647.90,95.41 L647.40,95.60 L646.90,95.83 L646.40,96.08 L645.90,96.37 L645.40,96.67 L644.90,97.00 L644.40,97.34 L643.90,97.69 L643.40,98.05 L642.90,98.41 L642.40,98.77 L641.90,99.12 L641.40,99.47 L640.90,99.80 L640.40,100.11 L639.90,100.41 L639.40,100.67 L638.90,100.91 L638.40,101.11 L637.90,101.29 L637.40,101.42 L636.90,101.52 L636.40,101.58 L635.90,101.60 L635.40,101.58 L634.90,101.52 L634.40,101.42 L633.90,101.29 L633.40,101.11 L632.90,100.91 L632.40,100.67 L631.90,100.41 L631.40,100.11 L630.90,99.80 L630.40,99.47 L629.90,99.12 L629.40,98.77 L628.90,98.41 L628.40,98.05 L627.90,97.69 L627.40,97.34 L626.90,97.00 L626.40,96.67 L625.90,96.37 L625.40,96.08 L624.90,95.83 L624.40,95.60 L623.90,95.41 L623.40,95.25 L622.90,95.13 L622.40,95.05 L621.90,95.01 L621.40,95.00 L620.90,95.04 L620.40,95.11 L619.90,95.23 L619.40,95.38 L618.90,95.56 L618.40,95.78 L617.90,96.03 L617.40,96.31 L616.90,96.61 L616.40,96.93 L615.90,97.27 L615.40,97.62 L614.90,97.97 L614.40,98.34 L613.90,98.70 L613.40,99.05 L612.90,99.40 L612.40,99.74 L611.90,100.05 L611.40,100.35 L610.90,100.62 L610.40,100.86 L609.90,101.08 L609.40,101.25 L608.90,101.40 L608.40,101.50 L607.90,101.57 L607.40,101.60 L606.90,101.59 L606.40,101.54 L605.90,101.45 L605.40,101.32 L604.90,101.15 L604.40,100.95 L603.90,100.72 L603.40,100.46 L602.90,100.17 L602.40,99.87 L601.90,99.54 L601.40,99.19 L600.90,98.84 L600.40,98.48 L599.90,98.12 L599.40,97.76 L598.90,97.41 L598.40,97.06 L597.90,96.73 L597.40,96.43 L596.90,96.14 L596.40,95.88 L595.90,95.65 L595.40,95.45 L594.90,95.28 L594.40,95.15 L593.90,95.06 L593.40,95.01 L592.90,95.00 L592.40,95.03 L591.90,95.10 L591.40,95.20 L590.90,95.35 L590.40,95.52 L589.90,95.74 L589.40,95.98 L588.90,96.25 L588.40,96.55 L587.90,96.86 L587.40,97.20 L586.90,97.55 L586.40,97.90 L585.90,98.26 L585.40,98.63 L584.90,98.98 L584.40,99.33 L583.90,99.67 L583.40,99.99 L582.90,100.29 L582.40,100.57 L581.90,100.82 L581.40,101.04 L580.90,101.22 L580.40,101.37 L579.90,101.49 L579.40,101.56 L578.90,101.60 L578.40,101.59 L577.90,101.55 L577.40,101.47 L576.90,101.35 L576.40,101.19 L575.90,101.00 L575.40,100.77 L574.90,100.52 L574.40,100.23 L573.90,99.93 L573.40,99.60 L572.90,99.26 L572.40,98.91 L571.90,98.55 L571.40,98.19 L570.90,97.83 L570.40,97.48 L569.90,97.13 L569.40,96.80 L568.90,96.49 L568.40,96.19 L567.90,95.93 L567.40,95.69 L566.90,95.49 L566.40,95.31 L565.90,95.18 L565.40,95.08 L564.90,95.02 L564.40,95.00 L563.90,95.02 L563.40,95.08 L562.90,95.18 L562.40,95.31 L561.90,95.49 L561.40,95.69 Z" fill="#4c4c4c"/>
<path d="M561.40,95.69 L561.90,95.49 L562.40,95.31 L562.90,95.18 L563.40,95.08 L563.90,95.02 L564.40,95.00 L564.90,95.02 L565.40,95.08 L565.90,95.18 L566.40,95.31 L566.90,95.49 L567.40,95.69 L567.90,95.93 L568.40,96.19 L568.90,96.49 L569.40,96.80 L569.90,97.13 L570.40,97.48 L570.90,97.83 L571.40,98.19 L571.90,98.55 L572.40,98.91 L572.90,99.26 L573.40,99.60 L573.90,99.93 L574.40,100.23 L574.90,100.52 L575.40,100.77 L575.90,101.00 L576.40,101.19 L576.90,101.35 L577.40,101.47 L577.90,101.55 L578.40,101.59 L578.90,101.60 L579.40,101.56 L579.90,101.49 L580.40,101.37 L580.90,101.22 L581.40,101.04 L581.90,100.82 L582.40,100.57 L582.90,100.29 L583.40,99.99 L583.90,99.67 L584.40,99.33 L584.90,98.98 L585.40,98.63 L585.90,98.26 L586.40,97.90 L586.90,97.55 L587.40,97.20 L587.90,96.86 L588.40,96.55 L588.90,96.25 L589.40,95.98 L589.90,95.74 L590.40,95.52 L590.90,95.35 L591.40,95.20 L591.90,95.10 L592.40,95.03 L592.90,95.00 L593.40,95.01 L593.90,95.06 L594.40,95.15 L594.90,95.28 L595.40,95.45 L595.90,95.65 L596.40,95.88 L596.90,96.14 L597.40,96.43 L597.90,96.73 L598.40,97.06 L598.90,97.41 L599.40,97.76 L599.90,98.12 L600.40,98.48 L600.90,98.84 L601.40,99.19 L601.90,99.54 L602.40,99.87 L602.90,100.17 L603.40,100.46 L603.90,100.72 L604.40,100.95 L604.90,101.15 L605.40,101.32 L605.90,101.45 L606.40,101.54 L606.90,101.59 L607.40,101.60 L607.90,101.57 L608.40,101.50 L608.90,101.40 L609.40,101.25 L609.90,101.08 L610.40,100.86 L610.90,100.62 L611.40,100.35 L611.90,100.05 L612.40,99.74 L612.90,99.40 L613.40,99.05 L613.90,98.70 L614.40,98.34 L614.90,97.97 L615.40,97.62 L615.90,97.27 L616.40,96.93 L616.90,96.61 L617.40,96.31 L617.90,96.03 L618.40,95.78 L618.90,95.56 L619.40,95.38 L619.90,95.23 L620.40,95.11 L620.90,95.04 L621.40,95.00 L621.90,95.01 L622.40,95.05 L622.90,95.13 L623.40,95.25 L623.90,95.41 L624.40,95.60 L624.90,95.83 L625.40,96.08 L625.90,96.37 L626.40,96.67 L626.90,97.00 L627.40,97.34 L627.90,97.69 L628.40,98.05 L628.90,98.41 L629.40,98.77 L629.90,99.12 L630.40,99.47 L630.90,99.80 L631.40,100.11 L631.90,100.41 L632.40,100.67 L632.90,100.91 L633.40,101.11 L633.90,101.29 L634.40,101.42 L634.90,101.52 L635.40,101.58 L635.90,101.60 L636.40,101.58 L636.90,101.52 L637.40,101.42 L637.90,101.29 L638.40,101.11 L638.90,100.91 L639.40,100.67 L639.90,100.41 L640.40,100.11 L640.90,99.80 L641.40,99.47 L641.90,99.12 L642.40,98.77 L642.90,98.41 L643.40,98.05 L643.90,97.69 L644.40,97.34 L644.90,97.00 L645.40,96.67 L645.90,96.37 L646.40,96.08 L646.90,95.83 L647.40,95.60 L647.90,95.41 L648.40,95.25 L648.90,95.13 L649.40,95.05 L649.90,95.01 L650.40,95.00 L650.90,95.04 L651.40,95.11 L651.90,95.23 L652.40,95.38 L652.90,95.56 L653.40,95.78 L653.90,96.03 L654.40,96.31 L654.90,96.61 L655.40,96.93 L655.90,97.27 L656.40,97.62 L656.90,97.97 L657.40,98.34 L657.90,98.70 L658.40,99.05 L658.90,99.40 L659.40,99.74 L659.90,100.05 L660.40,100.35 L660.90,100.62 L661.40,100.86 L661.90,101.08 L662.40,101.25 L662.90,101.40 L663.40,101.50 L663.90,101.57 L664.40,101.60 L664.90,101.59 L665.40,101.54 L665.90,101.45 L666.40,101.32 L666.90,101.15 L667.40,100.95 L667.90,100.72 L668.40,100.46 L668.90,100.17 L669.40,99.87 L669.90,99.54 L670.40,99.19 L670.90,98.84 L671.40,98.48 L671.90,98.12 L672.40,97.76 L672.90,97.41 L673.40,97.06 L673.90,96.73 L674.40,96.43 L674.90,96.14 L675.40,95.88 L675.90,95.65 L676.40,95.45 L676.90,95.28 L677.40,95.15 L677.90,95.06 L678.40,95.01 L678.90,95.00 L679.40,95.03 L679.8,107.3 L561.4,107.3 Z" fill="#d8d8d8"/>
<path d="M557.90,90.00 L564.40,72.50 L570.90,90.00 Z" fill="#8c8c8c" opacity="0.75" filter="url(#bl06)"/>
<path d="M586.50,90.00 L593.00,72.50 L599.50,90.00 Z" fill="#8c8c8c" opacity="0.75" filter="url(#bl06)"/>
<path d="M615.10,90.00 L621.60,72.50 L628.10,90.00 Z" fill="#8c8c8c" opacity="0.75" filter="url(#bl06)"/>
<path d="M643.70,90.00 L650.20,72.50 L656.70,90.00 Z" fill="#8c8c8c" opacity="0.75" filter="url(#bl06)"/>
<path d="M672.30,90.00 L678.80,72.50 L685.30,90.00 Z" fill="#8c8c8c" opacity="0.75" filter="url(#bl06)"/>
<rect x="563.4" y="34.3" width="114.39999999999998" height="71.0" filter="url(#nz1)" style="mix-blend-mode:overlay" opacity="0.5"/>
<rect x="563.4" y="34.3" width="114.39999999999998" height="71.0" filter="url(#hz)" opacity="0.25" clip-path="url(#ec2a)"/>
<path d="M561.40,95.69 L561.90,95.49 L562.40,95.31 L562.90,95.18 L563.40,95.08 L563.90,95.02 L564.40,95.00 L564.90,95.02 L565.40,95.08 L565.90,95.18 L566.40,95.31 L566.90,95.49 L567.40,95.69 L567.90,95.93 L568.40,96.19 L568.90,96.49 L569.40,96.80 L569.90,97.13 L570.40,97.48 L570.90,97.83 L571.40,98.19 L571.90,98.55 L572.40,98.91 L572.90,99.26 L573.40,99.60 L573.90,99.93 L574.40,100.23 L574.90,100.52 L575.40,100.77 L575.90,101.00 L576.40,101.19 L576.90,101.35 L577.40,101.47 L577.90,101.55 L578.40,101.59 L578.90,101.60 L579.40,101.56 L579.90,101.49 L580.40,101.37 L580.90,101.22 L581.40,101.04 L581.90,100.82 L582.40,100.57 L582.90,100.29 L583.40,99.99 L583.90,99.67 L584.40,99.33 L584.90,98.98 L585.40,98.63 L585.90,98.26 L586.40,97.90 L586.90,97.55 L587.40,97.20 L587.90,96.86 L588.40,96.55 L588.90,96.25 L589.40,95.98 L589.90,95.74 L590.40,95.52 L590.90,95.35 L591.40,95.20 L591.90,95.10 L592.40,95.03 L592.90,95.00 L593.40,95.01 L593.90,95.06 L594.40,95.15 L594.90,95.28 L595.40,95.45 L595.90,95.65 L596.40,95.88 L596.90,96.14 L597.40,96.43 L597.90,96.73 L598.40,97.06 L598.90,97.41 L599.40,97.76 L599.90,98.12 L600.40,98.48 L600.90,98.84 L601.40,99.19 L601.90,99.54 L602.40,99.87 L602.90,100.17 L603.40,100.46 L603.90,100.72 L604.40,100.95 L604.90,101.15 L605.40,101.32 L605.90,101.45 L606.40,101.54 L606.90,101.59 L607.40,101.60 L607.90,101.57 L608.40,101.50 L608.90,101.40 L609.40,101.25 L609.90,101.08 L610.40,100.86 L610.90,100.62 L611.40,100.35 L611.90,100.05 L612.40,99.74 L612.90,99.40 L613.40,99.05 L613.90,98.70 L614.40,98.34 L614.90,97.97 L615.40,97.62 L615.90,97.27 L616.40,96.93 L616.90,96.61 L617.40,96.31 L617.90,96.03 L618.40,95.78 L618.90,95.56 L619.40,95.38 L619.90,95.23 L620.40,95.11 L620.90,95.04 L621.40,95.00 L621.90,95.01 L622.40,95.05 L622.90,95.13 L623.40,95.25 L623.90,95.41 L624.40,95.60 L624.90,95.83 L625.40,96.08 L625.90,96.37 L626.40,96.67 L626.90,97.00 L627.40,97.34 L627.90,97.69 L628.40,98.05 L628.90,98.41 L629.40,98.77 L629.90,99.12 L630.40,99.47 L630.90,99.80 L631.40,100.11 L631.90,100.41 L632.40,100.67 L632.90,100.91 L633.40,101.11 L633.90,101.29 L634.40,101.42 L634.90,101.52 L635.40,101.58 L635.90,101.60 L636.40,101.58 L636.90,101.52 L637.40,101.42 L637.90,101.29 L638.40,101.11 L638.90,100.91 L639.40,100.67 L639.90,100.41 L640.40,100.11 L640.90,99.80 L641.40,99.47 L641.90,99.12 L642.40,98.77 L642.90,98.41 L643.40,98.05 L643.90,97.69 L644.40,97.34 L644.90,97.00 L645.40,96.67 L645.90,96.37 L646.40,96.08 L646.90,95.83 L647.40,95.60 L647.90,95.41 L648.40,95.25 L648.90,95.13 L649.40,95.05 L649.90,95.01 L650.40,95.00 L650.90,95.04 L651.40,95.11 L651.90,95.23 L652.40,95.38 L652.90,95.56 L653.40,95.78 L653.90,96.03 L654.40,96.31 L654.90,96.61 L655.40,96.93 L655.90,97.27 L656.40,97.62 L656.90,97.97 L657.40,98.34 L657.90,98.70 L658.40,99.05 L658.90,99.40 L659.40,99.74 L659.90,100.05 L660.40,100.35 L660.90,100.62 L661.40,100.86 L661.90,101.08 L662.40,101.25 L662.90,101.40 L663.40,101.50 L663.90,101.57 L664.40,101.60 L664.90,101.59 L665.40,101.54 L665.90,101.45 L666.40,101.32 L666.90,101.15 L667.40,100.95 L667.90,100.72 L668.40,100.46 L668.90,100.17 L669.40,99.87 L669.90,99.54 L670.40,99.19 L670.90,98.84 L671.40,98.48 L671.90,98.12 L672.40,97.76 L672.90,97.41 L673.40,97.06 L673.90,96.73 L674.40,96.43 L674.90,96.14 L675.40,95.88 L675.90,95.65 L676.40,95.45 L676.90,95.28 L677.40,95.15 L677.90,95.06 L678.40,95.01 L678.90,95.00 L679.40,95.03 L679.8,107.3 L561.4,107.3 Z" fill="#fff" opacity="0.5"/>
<path d="M561.40,56.42 L561.90,56.57 L562.40,56.69 L562.90,56.76 L563.40,56.80 L563.90,56.79 L564.40,56.74 L564.90,56.65 L565.40,56.52 L565.90,56.35 L566.40,56.14 L566.90,55.90 L567.40,55.63 L567.90,55.33 L568.40,55.01 L568.90,54.67 L569.40,54.31 L569.90,53.94 L570.40,53.57 L570.90,53.19 L571.40,52.82 L571.90,52.45 L572.40,52.09 L572.90,51.75 L573.40,51.44 L573.90,51.14 L574.40,50.87 L574.90,50.64 L575.40,50.43 L575.90,50.27 L576.40,50.14 L576.90,50.05 L577.40,50.01 L577.90,50.00 L578.40,50.04 L578.90,50.12 L579.40,50.24 L579.90,50.40 L580.40,50.59 L580.90,50.82 L581.40,51.08 L581.90,51.37 L582.40,51.69 L582.90,52.03 L583.40,52.38 L583.90,52.74 L584.40,53.12 L584.90,53.49 L585.40,53.87 L585.90,54.24 L586.40,54.60 L586.90,54.95 L587.40,55.27 L587.90,55.57 L588.40,55.85 L588.90,56.10 L589.40,56.31 L589.90,56.49 L590.40,56.63 L590.90,56.72 L591.40,56.78 L591.90,56.80 L592.40,56.77 L592.90,56.71 L593.40,56.60 L593.90,56.45 L594.40,56.27 L594.90,56.05 L595.40,55.80 L595.90,55.52 L596.40,55.21 L596.90,54.88 L597.40,54.53 L597.90,54.17 L598.40,53.80 L598.90,53.42 L599.40,53.04 L599.90,52.67 L600.40,52.31 L600.90,51.96 L601.40,51.62 L601.90,51.31 L602.40,51.03 L602.90,50.77 L603.40,50.55 L603.90,50.36 L604.40,50.21 L604.90,50.10 L605.40,50.03 L605.90,50.00 L606.40,50.01 L606.90,50.07 L607.40,50.16 L607.90,50.30 L608.40,50.47 L608.90,50.68 L609.40,50.92 L609.90,51.20 L610.40,51.50 L610.90,51.82 L611.40,52.16 L611.90,52.52 L612.40,52.89 L612.90,53.27 L613.40,53.65 L613.90,54.02 L614.40,54.39 L614.90,54.74 L615.40,55.08 L615.90,55.40 L616.40,55.69 L616.90,55.95 L617.40,56.19 L617.90,56.38 L618.40,56.55 L618.90,56.67 L619.40,56.75 L619.90,56.79 L620.40,56.79 L620.90,56.75 L621.40,56.67 L621.90,56.55 L622.40,56.38 L622.90,56.19 L623.40,55.95 L623.90,55.69 L624.40,55.40 L624.90,55.08 L625.40,54.74 L625.90,54.39 L626.40,54.02 L626.90,53.65 L627.40,53.27 L627.90,52.89 L628.40,52.52 L628.90,52.16 L629.40,51.82 L629.90,51.50 L630.40,51.20 L630.90,50.92 L631.40,50.68 L631.90,50.47 L632.40,50.30 L632.90,50.16 L633.40,50.07 L633.90,50.01 L634.40,50.00 L634.90,50.03 L635.40,50.10 L635.90,50.21 L636.40,50.36 L636.90,50.55 L637.40,50.77 L637.90,51.03 L638.40,51.31 L638.90,51.62 L639.40,51.96 L639.90,52.31 L640.40,52.67 L640.90,53.04 L641.40,53.42 L641.90,53.80 L642.40,54.17 L642.90,54.53 L643.40,54.88 L643.90,55.21 L644.40,55.52 L644.90,55.80 L645.40,56.05 L645.90,56.27 L646.40,56.45 L646.90,56.60 L647.40,56.71 L647.90,56.77 L648.40,56.80 L648.90,56.78 L649.40,56.72 L649.90,56.63 L650.40,56.49 L650.90,56.31 L651.40,56.10 L651.90,55.85 L652.40,55.57 L652.90,55.27 L653.40,54.95 L653.90,54.60 L654.40,54.24 L654.90,53.87 L655.40,53.49 L655.90,53.12 L656.40,52.74 L656.90,52.38 L657.40,52.03 L657.90,51.69 L658.40,51.37 L658.90,51.08 L659.40,50.82 L659.90,50.59 L660.40,50.40 L660.90,50.24 L661.40,50.12 L661.90,50.04 L662.40,50.00 L662.90,50.01 L663.40,50.05 L663.90,50.14 L664.40,50.27 L664.90,50.43 L665.40,50.64 L665.90,50.87 L666.40,51.14 L666.90,51.44 L667.40,51.75 L667.90,52.09 L668.40,52.45 L668.90,52.82 L669.40,53.19 L669.90,53.57 L670.40,53.94 L670.90,54.31 L671.40,54.67 L671.90,55.01 L672.40,55.33 L672.90,55.63 L673.40,55.90 L673.90,56.14 L674.40,56.35 L674.90,56.52 L675.40,56.65 L675.90,56.74 L676.40,56.79 L676.90,56.80 L677.40,56.76 L677.90,56.69 L678.40,56.57 L678.90,56.42 L679.40,56.23" stroke="#2b9be0" stroke-width="1.5" fill="none"/>
<path d="M561.40,86.66 L561.90,86.40 L562.40,86.19 L562.90,86.02 L563.40,85.90 L563.90,85.82 L564.40,85.80 L564.90,85.82 L565.40,85.90 L565.90,86.02 L566.40,86.19 L566.90,86.40 L567.40,86.66 L567.90,86.95 L568.40,87.28 L568.90,87.65 L569.40,88.03 L569.90,88.45 L570.40,88.88 L570.90,89.32 L571.40,89.76 L571.90,90.21 L572.40,90.66 L572.90,91.10 L573.40,91.52 L573.90,91.92 L574.40,92.30 L574.90,92.65 L575.40,92.97 L575.90,93.25 L576.40,93.49 L576.90,93.68 L577.40,93.83 L577.90,93.94 L578.40,93.99 L578.90,94.00 L579.40,93.95 L579.90,93.86 L580.40,93.72 L580.90,93.53 L581.40,93.30 L581.90,93.03 L582.40,92.72 L582.90,92.38 L583.40,92.00 L583.90,91.60 L584.40,91.18 L584.90,90.75 L585.40,90.30 L585.90,89.85 L586.40,89.41 L586.90,88.96 L587.40,88.53 L587.90,88.12 L588.40,87.72 L588.90,87.35 L589.40,87.02 L589.90,86.71 L590.40,86.45 L590.90,86.23 L591.40,86.05 L591.90,85.92 L592.40,85.84 L592.90,85.80 L593.40,85.82 L593.90,85.88 L594.40,85.99 L594.90,86.15 L595.40,86.36 L595.90,86.60 L596.40,86.89 L596.90,87.22 L597.40,87.57 L597.90,87.95 L598.40,88.36 L598.90,88.79 L599.40,89.23 L599.90,89.67 L600.40,90.13 L600.90,90.57 L601.40,91.01 L601.90,91.44 L602.40,91.85 L602.90,92.23 L603.40,92.58 L603.90,92.91 L604.40,93.20 L604.90,93.44 L605.40,93.65 L605.90,93.81 L606.40,93.92 L606.90,93.98 L607.40,94.00 L607.90,93.96 L608.40,93.88 L608.90,93.75 L609.40,93.57 L609.90,93.35 L610.40,93.09 L610.90,92.78 L611.40,92.45 L611.90,92.08 L612.40,91.68 L612.90,91.27 L613.40,90.84 L613.90,90.39 L614.40,89.95 L614.90,89.50 L615.40,89.05 L615.90,88.62 L616.40,88.20 L616.90,87.80 L617.40,87.42 L617.90,87.08 L618.40,86.77 L618.90,86.50 L619.40,86.27 L619.90,86.08 L620.40,85.94 L620.90,85.85 L621.40,85.80 L621.90,85.81 L622.40,85.86 L622.90,85.97 L623.40,86.12 L623.90,86.31 L624.40,86.55 L624.90,86.83 L625.40,87.15 L625.90,87.50 L626.40,87.88 L626.90,88.28 L627.40,88.70 L627.90,89.14 L628.40,89.59 L628.90,90.04 L629.40,90.48 L629.90,90.92 L630.40,91.35 L630.90,91.77 L631.40,92.15 L631.90,92.52 L632.40,92.85 L632.90,93.14 L633.40,93.40 L633.90,93.61 L634.40,93.78 L634.90,93.90 L635.40,93.98 L635.90,94.00 L636.40,93.98 L636.90,93.90 L637.40,93.78 L637.90,93.61 L638.40,93.40 L638.90,93.14 L639.40,92.85 L639.90,92.52 L640.40,92.15 L640.90,91.77 L641.40,91.35 L641.90,90.92 L642.40,90.48 L642.90,90.04 L643.40,89.59 L643.90,89.14 L644.40,88.70 L644.90,88.28 L645.40,87.88 L645.90,87.50 L646.40,87.15 L646.90,86.83 L647.40,86.55 L647.90,86.31 L648.40,86.12 L648.90,85.97 L649.40,85.86 L649.90,85.81 L650.40,85.80 L650.90,85.85 L651.40,85.94 L651.90,86.08 L652.40,86.27 L652.90,86.50 L653.40,86.77 L653.90,87.08 L654.40,87.42 L654.90,87.80 L655.40,88.20 L655.90,88.62 L656.40,89.05 L656.90,89.50 L657.40,89.95 L657.90,90.39 L658.40,90.84 L658.90,91.27 L659.40,91.68 L659.90,92.08 L660.40,92.45 L660.90,92.78 L661.40,93.09 L661.90,93.35 L662.40,93.57 L662.90,93.75 L663.40,93.88 L663.90,93.96 L664.40,94.00 L664.90,93.98 L665.40,93.92 L665.90,93.81 L666.40,93.65 L666.90,93.44 L667.40,93.20 L667.90,92.91 L668.40,92.58 L668.90,92.23 L669.40,91.85 L669.90,91.44 L670.40,91.01 L670.90,90.57 L671.40,90.13 L671.90,89.67 L672.40,89.23 L672.90,88.79 L673.40,88.36 L673.90,87.95 L674.40,87.57 L674.90,87.22 L675.40,86.89 L675.90,86.60 L676.40,86.36 L676.90,86.15 L677.40,85.99 L677.90,85.88 L678.40,85.82 L678.90,85.80 L679.40,85.84" stroke="#2b9be0" stroke-width="1.5" fill="none"/>
<path d="M561.40,95.69 L561.90,95.49 L562.40,95.31 L562.90,95.18 L563.40,95.08 L563.90,95.02 L564.40,95.00 L564.90,95.02 L565.40,95.08 L565.90,95.18 L566.40,95.31 L566.90,95.49 L567.40,95.69 L567.90,95.93 L568.40,96.19 L568.90,96.49 L569.40,96.80 L569.90,97.13 L570.40,97.48 L570.90,97.83 L571.40,98.19 L571.90,98.55 L572.40,98.91 L572.90,99.26 L573.40,99.60 L573.90,99.93 L574.40,100.23 L574.90,100.52 L575.40,100.77 L575.90,101.00 L576.40,101.19 L576.90,101.35 L577.40,101.47 L577.90,101.55 L578.40,101.59 L578.90,101.60 L579.40,101.56 L579.90,101.49 L580.40,101.37 L580.90,101.22 L581.40,101.04 L581.90,100.82 L582.40,100.57 L582.90,100.29 L583.40,99.99 L583.90,99.67 L584.40,99.33 L584.90,98.98 L585.40,98.63 L585.90,98.26 L586.40,97.90 L586.90,97.55 L587.40,97.20 L587.90,96.86 L588.40,96.55 L588.90,96.25 L589.40,95.98 L589.90,95.74 L590.40,95.52 L590.90,95.35 L591.40,95.20 L591.90,95.10 L592.40,95.03 L592.90,95.00 L593.40,95.01 L593.90,95.06 L594.40,95.15 L594.90,95.28 L595.40,95.45 L595.90,95.65 L596.40,95.88 L596.90,96.14 L597.40,96.43 L597.90,96.73 L598.40,97.06 L598.90,97.41 L599.40,97.76 L599.90,98.12 L600.40,98.48 L600.90,98.84 L601.40,99.19 L601.90,99.54 L602.40,99.87 L602.90,100.17 L603.40,100.46 L603.90,100.72 L604.40,100.95 L604.90,101.15 L605.40,101.32 L605.90,101.45 L606.40,101.54 L606.90,101.59 L607.40,101.60 L607.90,101.57 L608.40,101.50 L608.90,101.40 L609.40,101.25 L609.90,101.08 L610.40,100.86 L610.90,100.62 L611.40,100.35 L611.90,100.05 L612.40,99.74 L612.90,99.40 L613.40,99.05 L613.90,98.70 L614.40,98.34 L614.90,97.97 L615.40,97.62 L615.90,97.27 L616.40,96.93 L616.90,96.61 L617.40,96.31 L617.90,96.03 L618.40,95.78 L618.90,95.56 L619.40,95.38 L619.90,95.23 L620.40,95.11 L620.90,95.04 L621.40,95.00 L621.90,95.01 L622.40,95.05 L622.90,95.13 L623.40,95.25 L623.90,95.41 L624.40,95.60 L624.90,95.83 L625.40,96.08 L625.90,96.37 L626.40,96.67 L626.90,97.00 L627.40,97.34 L627.90,97.69 L628.40,98.05 L628.90,98.41 L629.40,98.77 L629.90,99.12 L630.40,99.47 L630.90,99.80 L631.40,100.11 L631.90,100.41 L632.40,100.67 L632.90,100.91 L633.40,101.11 L633.90,101.29 L634.40,101.42 L634.90,101.52 L635.40,101.58 L635.90,101.60 L636.40,101.58 L636.90,101.52 L637.40,101.42 L637.90,101.29 L638.40,101.11 L638.90,100.91 L639.40,100.67 L639.90,100.41 L640.40,100.11 L640.90,99.80 L641.40,99.47 L641.90,99.12 L642.40,98.77 L642.90,98.41 L643.40,98.05 L643.90,97.69 L644.40,97.34 L644.90,97.00 L645.40,96.67 L645.90,96.37 L646.40,96.08 L646.90,95.83 L647.40,95.60 L647.90,95.41 L648.40,95.25 L648.90,95.13 L649.40,95.05 L649.90,95.01 L650.40,95.00 L650.90,95.04 L651.40,95.11 L651.90,95.23 L652.40,95.38 L652.90,95.56 L653.40,95.78 L653.90,96.03 L654.40,96.31 L654.90,96.61 L655.40,96.93 L655.90,97.27 L656.40,97.62 L656.90,97.97 L657.40,98.34 L657.90,98.70 L658.40,99.05 L658.90,99.40 L659.40,99.74 L659.90,100.05 L660.40,100.35 L660.90,100.62 L661.40,100.86 L661.90,101.08 L662.40,101.25 L662.90,101.40 L663.40,101.50 L663.90,101.57 L664.40,101.60 L664.90,101.59 L665.40,101.54 L665.90,101.45 L666.40,101.32 L666.90,101.15 L667.40,100.95 L667.90,100.72 L668.40,100.46 L668.90,100.17 L669.40,99.87 L669.90,99.54 L670.40,99.19 L670.90,98.84 L671.40,98.48 L671.90,98.12 L672.40,97.76 L672.90,97.41 L673.40,97.06 L673.90,96.73 L674.40,96.43 L674.90,96.14 L675.40,95.88 L675.90,95.65 L676.40,95.45 L676.90,95.28 L677.40,95.15 L677.90,95.06 L678.40,95.01 L678.90,95.00 L679.40,95.03" stroke="#ea8a2a" stroke-width="1.5" fill="none"/>
<rect x="634.20" y="94.6" width="2.6" height="5.50" fill="#e0262a"/>
</g>
<clipPath id="ec3"><rect x="434.7" y="120.0" width="115.09999999999997" height="71.6"/></clipPath>
<clipPath id="ec3a"><path d="M432.70,139.35 L433.20,139.64 L433.70,139.93 L434.20,140.25 L434.70,140.59 L435.20,140.91 L435.70,141.17 L436.20,141.36 L436.70,141.47 L437.20,141.53 L437.70,141.54 L438.20,141.49 L438.70,141.38 L439.20,141.20 L439.70,140.96 L440.20,140.66 L440.70,140.31 L441.20,139.99 L441.70,139.69 L442.20,139.41 L442.70,139.14 L443.20,138.89 L443.70,138.65 L444.20,138.43 L444.70,138.22 L445.20,138.02 L445.70,137.85 L446.20,137.68 L446.70,137.53 L447.20,137.40 L447.70,137.28 L448.20,137.18 L448.70,137.09 L449.20,137.02 L449.70,136.96 L450.20,136.92 L450.70,136.89 L451.20,136.88 L451.70,136.89 L452.20,136.91 L452.70,136.95 L453.20,137.00 L453.70,137.07 L454.20,137.16 L454.70,137.26 L455.20,137.37 L455.70,137.50 L456.20,137.65 L456.70,137.81 L457.20,137.99 L457.70,138.18 L458.20,138.38 L458.70,138.60 L459.20,138.84 L459.70,139.09 L460.20,139.35 L460.70,139.64 L461.20,139.93 L461.70,140.25 L462.20,140.59 L462.70,140.91 L463.20,141.17 L463.70,141.36 L464.20,141.47 L464.70,141.53 L465.20,141.54 L465.70,141.49 L466.20,141.38 L466.70,141.20 L467.20,140.96 L467.70,140.66 L468.20,140.31 L468.70,139.99 L469.20,139.69 L469.70,139.41 L470.20,139.14 L470.70,138.89 L471.20,138.65 L471.70,138.43 L472.20,138.22 L472.70,138.02 L473.20,137.85 L473.70,137.68 L474.20,137.53 L474.70,137.40 L475.20,137.28 L475.70,137.18 L476.20,137.09 L476.70,137.02 L477.20,136.96 L477.70,136.92 L478.20,136.89 L478.70,136.88 L479.20,136.89 L479.70,136.91 L480.20,136.95 L480.70,137.00 L481.20,137.07 L481.70,137.16 L482.20,137.26 L482.70,137.37 L483.20,137.50 L483.70,137.65 L484.20,137.81 L484.70,137.99 L485.20,138.18 L485.70,138.38 L486.20,138.60 L486.70,138.84 L487.20,139.09 L487.70,139.35 L488.20,139.64 L488.70,139.93 L489.20,140.25 L489.70,140.59 L490.20,140.91 L490.70,141.17 L491.20,141.36 L491.70,141.47 L492.20,141.53 L492.70,141.54 L493.20,141.49 L493.70,141.38 L494.20,141.20 L494.70,140.96 L495.20,140.66 L495.70,140.31 L496.20,139.99 L496.70,139.69 L497.20,139.41 L497.70,139.14 L498.20,138.89 L498.70,138.65 L499.20,138.43 L499.70,138.22 L500.20,138.02 L500.70,137.85 L501.20,137.68 L501.70,137.53 L502.20,137.40 L502.70,137.28 L503.20,137.18 L503.70,137.09 L504.20,137.02 L504.70,136.96 L505.20,136.92 L505.70,136.89 L506.20,136.88 L506.70,136.89 L507.20,136.91 L507.70,136.95 L508.20,137.00 L508.70,137.07 L509.20,137.16 L509.70,137.26 L510.20,137.37 L510.70,137.50 L511.20,137.65 L511.70,137.81 L512.20,137.99 L512.70,138.18 L513.20,138.38 L513.70,138.60 L514.20,138.84 L514.70,139.09 L515.20,139.35 L515.70,139.64 L516.20,139.93 L516.70,140.25 L517.20,140.59 L517.70,140.91 L518.20,141.17 L518.70,141.36 L519.20,141.47 L519.70,141.53 L520.20,141.54 L520.70,141.49 L521.20,141.38 L521.70,141.20 L522.20,140.96 L522.70,140.66 L523.20,140.31 L523.70,139.99 L524.20,139.69 L524.70,139.41 L525.20,139.14 L525.70,138.89 L526.20,138.65 L526.70,138.43 L527.20,138.22 L527.70,138.02 L528.20,137.85 L528.70,137.68 L529.20,137.53 L529.70,137.40 L530.20,137.28 L530.70,137.18 L531.20,137.09 L531.70,137.02 L532.20,136.96 L532.70,136.92 L533.20,136.89 L533.70,136.88 L534.20,136.89 L534.70,136.91 L535.20,136.95 L535.70,137.00 L536.20,137.07 L536.70,137.16 L537.20,137.26 L537.70,137.37 L538.20,137.50 L538.70,137.65 L539.20,137.81 L539.70,137.99 L540.20,138.18 L540.70,138.38 L541.20,138.60 L541.70,138.84 L542.20,139.09 L542.70,139.35 L543.20,139.64 L543.70,139.93 L544.20,140.25 L544.70,140.59 L545.20,140.91 L545.70,141.17 L546.20,141.36 L546.70,141.47 L547.20,141.53 L547.70,141.54 L548.20,141.49 L548.70,141.38 L549.20,141.20 L549.70,140.96 L550.20,140.66 L550.70,140.31 L551.20,139.99 L551.70,139.69 L551.8,118.0 L432.7,118.0 Z"/></clipPath>
<g clip-path="url(#ec3)">
<rect x="434.7" y="120.0" width="115.09999999999997" height="71.6" fill="#565656"/>
<rect x="434.7" y="120.0" width="115.09999999999997" height="8" fill="#7e7e7e"/>
<rect x="434.7" y="121.2" width="115.09999999999997" height="1.2" fill="#cfcfcf"/>
<rect x="434.7" y="124.4" width="115.09999999999997" height="0.9" fill="#bcbcbc"/>
<path d="M432.70,139.35 L433.20,139.64 L433.70,139.93 L434.20,140.25 L434.70,140.59 L435.20,140.91 L435.70,141.17 L436.20,141.36 L436.70,141.47 L437.20,141.53 L437.70,141.54 L438.20,141.49 L438.70,141.38 L439.20,141.20 L439.70,140.96 L440.20,140.66 L440.70,140.31 L441.20,139.99 L441.70,139.69 L442.20,139.41 L442.70,139.14 L443.20,138.89 L443.70,138.65 L444.20,138.43 L444.70,138.22 L445.20,138.02 L445.70,137.85 L446.20,137.68 L446.70,137.53 L447.20,137.40 L447.70,137.28 L448.20,137.18 L448.70,137.09 L449.20,137.02 L449.70,136.96 L450.20,136.92 L450.70,136.89 L451.20,136.88 L451.70,136.89 L452.20,136.91 L452.70,136.95 L453.20,137.00 L453.70,137.07 L454.20,137.16 L454.70,137.26 L455.20,137.37 L455.70,137.50 L456.20,137.65 L456.70,137.81 L457.20,137.99 L457.70,138.18 L458.20,138.38 L458.70,138.60 L459.20,138.84 L459.70,139.09 L460.20,139.35 L460.70,139.64 L461.20,139.93 L461.70,140.25 L462.20,140.59 L462.70,140.91 L463.20,141.17 L463.70,141.36 L464.20,141.47 L464.70,141.53 L465.20,141.54 L465.70,141.49 L466.20,141.38 L466.70,141.20 L467.20,140.96 L467.70,140.66 L468.20,140.31 L468.70,139.99 L469.20,139.69 L469.70,139.41 L470.20,139.14 L470.70,138.89 L471.20,138.65 L471.70,138.43 L472.20,138.22 L472.70,138.02 L473.20,137.85 L473.70,137.68 L474.20,137.53 L474.70,137.40 L475.20,137.28 L475.70,137.18 L476.20,137.09 L476.70,137.02 L477.20,136.96 L477.70,136.92 L478.20,136.89 L478.70,136.88 L479.20,136.89 L479.70,136.91 L480.20,136.95 L480.70,137.00 L481.20,137.07 L481.70,137.16 L482.20,137.26 L482.70,137.37 L483.20,137.50 L483.70,137.65 L484.20,137.81 L484.70,137.99 L485.20,138.18 L485.70,138.38 L486.20,138.60 L486.70,138.84 L487.20,139.09 L487.70,139.35 L488.20,139.64 L488.70,139.93 L489.20,140.25 L489.70,140.59 L490.20,140.91 L490.70,141.17 L491.20,141.36 L491.70,141.47 L492.20,141.53 L492.70,141.54 L493.20,141.49 L493.70,141.38 L494.20,141.20 L494.70,140.96 L495.20,140.66 L495.70,140.31 L496.20,139.99 L496.70,139.69 L497.20,139.41 L497.70,139.14 L498.20,138.89 L498.70,138.65 L499.20,138.43 L499.70,138.22 L500.20,138.02 L500.70,137.85 L501.20,137.68 L501.70,137.53 L502.20,137.40 L502.70,137.28 L503.20,137.18 L503.70,137.09 L504.20,137.02 L504.70,136.96 L505.20,136.92 L505.70,136.89 L506.20,136.88 L506.70,136.89 L507.20,136.91 L507.70,136.95 L508.20,137.00 L508.70,137.07 L509.20,137.16 L509.70,137.26 L510.20,137.37 L510.70,137.50 L511.20,137.65 L511.70,137.81 L512.20,137.99 L512.70,138.18 L513.20,138.38 L513.70,138.60 L514.20,138.84 L514.70,139.09 L515.20,139.35 L515.70,139.64 L516.20,139.93 L516.70,140.25 L517.20,140.59 L517.70,140.91 L518.20,141.17 L518.70,141.36 L519.20,141.47 L519.70,141.53 L520.20,141.54 L520.70,141.49 L521.20,141.38 L521.70,141.20 L522.20,140.96 L522.70,140.66 L523.20,140.31 L523.70,139.99 L524.20,139.69 L524.70,139.41 L525.20,139.14 L525.70,138.89 L526.20,138.65 L526.70,138.43 L527.20,138.22 L527.70,138.02 L528.20,137.85 L528.70,137.68 L529.20,137.53 L529.70,137.40 L530.20,137.28 L530.70,137.18 L531.20,137.09 L531.70,137.02 L532.20,136.96 L532.70,136.92 L533.20,136.89 L533.70,136.88 L534.20,136.89 L534.70,136.91 L535.20,136.95 L535.70,137.00 L536.20,137.07 L536.70,137.16 L537.20,137.26 L537.70,137.37 L538.20,137.50 L538.70,137.65 L539.20,137.81 L539.70,137.99 L540.20,138.18 L540.70,138.38 L541.20,138.60 L541.70,138.84 L542.20,139.09 L542.70,139.35 L543.20,139.64 L543.70,139.93 L544.20,140.25 L544.70,140.59 L545.20,140.91 L545.70,141.17 L546.20,141.36 L546.70,141.47 L547.20,141.53 L547.70,141.54 L548.20,141.49 L548.70,141.38 L549.20,141.20 L549.70,140.96 L550.20,140.66 L550.70,140.31 L551.20,139.99 L551.70,139.69 L551.70,163.25 L551.20,162.88 L550.70,162.56 L550.20,162.29 L549.70,162.10 L549.20,161.97 L548.70,161.91 L548.20,161.91 L547.70,161.99 L547.20,162.13 L546.70,162.34 L546.20,162.62 L545.70,162.95 L545.20,163.34 L544.70,163.78 L544.20,164.26 L543.70,164.78 L543.20,165.33 L542.70,165.91 L542.20,166.51 L541.70,167.11 L541.20,167.71 L540.70,168.31 L540.20,168.90 L539.70,169.46 L539.20,169.99 L538.70,170.48 L538.20,170.94 L537.70,171.34 L537.20,171.69 L536.70,171.98 L536.20,172.21 L535.70,172.38 L535.20,172.47 L534.70,172.50 L534.20,172.46 L533.70,172.35 L533.20,172.17 L532.70,171.93 L532.20,171.63 L531.70,171.26 L531.20,170.85 L530.70,170.39 L530.20,169.88 L529.70,169.35 L529.20,168.78 L528.70,168.19 L528.20,167.59 L527.70,166.99 L527.20,166.39 L526.70,165.79 L526.20,165.22 L525.70,164.67 L525.20,164.16 L524.70,163.68 L524.20,163.25 L523.70,162.88 L523.20,162.56 L522.70,162.29 L522.20,162.10 L521.70,161.97 L521.20,161.91 L520.70,161.91 L520.20,161.99 L519.70,162.13 L519.20,162.34 L518.70,162.62 L518.20,162.95 L517.70,163.34 L517.20,163.78 L516.70,164.26 L516.20,164.78 L515.70,165.33 L515.20,165.91 L514.70,166.51 L514.20,167.11 L513.70,167.71 L513.20,168.31 L512.70,168.90 L512.20,169.46 L511.70,169.99 L511.20,170.48 L510.70,170.94 L510.20,171.34 L509.70,171.69 L509.20,171.98 L508.70,172.21 L508.20,172.38 L507.70,172.47 L507.20,172.50 L506.70,172.46 L506.20,172.35 L505.70,172.17 L505.20,171.93 L504.70,171.63 L504.20,171.26 L503.70,170.85 L503.20,170.39 L502.70,169.88 L502.20,169.35 L501.70,168.78 L501.20,168.19 L500.70,167.59 L500.20,166.99 L499.70,166.39 L499.20,165.79 L498.70,165.22 L498.20,164.67 L497.70,164.16 L497.20,163.68 L496.70,163.25 L496.20,162.88 L495.70,162.56 L495.20,162.29 L494.70,162.10 L494.20,161.97 L493.70,161.91 L493.20,161.91 L492.70,161.99 L492.20,162.13 L491.70,162.34 L491.20,162.62 L490.70,162.95 L490.20,163.34 L489.70,163.78 L489.20,164.26 L488.70,164.78 L488.20,165.33 L487.70,165.91 L487.20,166.51 L486.70,167.11 L486.20,167.71 L485.70,168.31 L485.20,168.90 L484.70,169.46 L484.20,169.99 L483.70,170.48 L483.20,170.94 L482.70,171.34 L482.20,171.69 L481.70,171.98 L481.20,172.21 L480.70,172.38 L480.20,172.47 L479.70,172.50 L479.20,172.46 L478.70,172.35 L478.20,172.17 L477.70,171.93 L477.20,171.63 L476.70,171.26 L476.20,170.85 L475.70,170.39 L475.20,169.88 L474.70,169.35 L474.20,168.78 L473.70,168.19 L473.20,167.59 L472.70,166.99 L472.20,166.39 L471.70,165.79 L471.20,165.22 L470.70,164.67 L470.20,164.16 L469.70,163.68 L469.20,163.25 L468.70,162.88 L468.20,162.56 L467.70,162.29 L467.20,162.10 L466.70,161.97 L466.20,161.91 L465.70,161.91 L465.20,161.99 L464.70,162.13 L464.20,162.34 L463.70,162.62 L463.20,162.95 L462.70,163.34 L462.20,163.78 L461.70,164.26 L461.20,164.78 L460.70,165.33 L460.20,165.91 L459.70,166.51 L459.20,167.11 L458.70,167.71 L458.20,168.31 L457.70,168.90 L457.20,169.46 L456.70,169.99 L456.20,170.48 L455.70,170.94 L455.20,171.34 L454.70,171.69 L454.20,171.98 L453.70,172.21 L453.20,172.38 L452.70,172.47 L452.20,172.50 L451.70,172.46 L451.20,172.35 L450.70,172.17 L450.20,171.93 L449.70,171.63 L449.20,171.26 L448.70,170.85 L448.20,170.39 L447.70,169.88 L447.20,169.35 L446.70,168.78 L446.20,168.19 L445.70,167.59 L445.20,166.99 L444.70,166.39 L444.20,165.79 L443.70,165.22 L443.20,164.67 L442.70,164.16 L442.20,163.68 L441.70,163.25 L441.20,162.88 L440.70,162.56 L440.20,162.29 L439.70,162.10 L439.20,161.97 L438.70,161.91 L438.20,161.91 L437.70,161.99 L437.20,162.13 L436.70,162.34 L436.20,162.62 L435.70,162.95 L435.20,163.34 L434.70,163.78 L434.20,164.26 L433.70,164.78 L433.20,165.33 L432.70,165.91 Z" fill="#2c2c2c"/>
<path d="M432.70,167.41 L433.20,166.83 L433.70,166.28 L434.20,165.76 L434.70,165.28 L435.20,164.84 L435.70,164.45 L436.20,164.12 L436.70,163.84 L437.20,163.63 L437.70,163.49 L438.20,163.41 L438.70,163.41 L439.20,163.47 L439.70,163.60 L440.20,163.79 L440.70,164.06 L441.20,164.38 L441.70,164.75 L442.20,165.18 L442.70,165.66 L443.20,166.17 L443.70,166.72 L444.20,167.29 L444.70,167.89 L445.20,168.49 L445.70,169.09 L446.20,169.69 L446.70,170.28 L447.20,170.85 L447.70,171.38 L448.20,171.89 L448.70,172.35 L449.20,172.76 L449.70,173.13 L450.20,173.43 L450.70,173.67 L451.20,173.85 L451.70,173.96 L452.20,174.00 L452.70,173.97 L453.20,173.88 L453.70,173.71 L454.20,173.48 L454.70,173.19 L455.20,172.84 L455.70,172.44 L456.20,171.98 L456.70,171.49 L457.20,170.96 L457.70,170.40 L458.20,169.81 L458.70,169.21 L459.20,168.61 L459.70,168.01 L460.20,167.41 L460.70,166.83 L461.20,166.28 L461.70,165.76 L462.20,165.28 L462.70,164.84 L463.20,164.45 L463.70,164.12 L464.20,163.84 L464.70,163.63 L465.20,163.49 L465.70,163.41 L466.20,163.41 L466.70,163.47 L467.20,163.60 L467.70,163.79 L468.20,164.06 L468.70,164.38 L469.20,164.75 L469.70,165.18 L470.20,165.66 L470.70,166.17 L471.20,166.72 L471.70,167.29 L472.20,167.89 L472.70,168.49 L473.20,169.09 L473.70,169.69 L474.20,170.28 L474.70,170.85 L475.20,171.38 L475.70,171.89 L476.20,172.35 L476.70,172.76 L477.20,173.13 L477.70,173.43 L478.20,173.67 L478.70,173.85 L479.20,173.96 L479.70,174.00 L480.20,173.97 L480.70,173.88 L481.20,173.71 L481.70,173.48 L482.20,173.19 L482.70,172.84 L483.20,172.44 L483.70,171.98 L484.20,171.49 L484.70,170.96 L485.20,170.40 L485.70,169.81 L486.20,169.21 L486.70,168.61 L487.20,168.01 L487.70,167.41 L488.20,166.83 L488.70,166.28 L489.20,165.76 L489.70,165.28 L490.20,164.84 L490.70,164.45 L491.20,164.12 L491.70,163.84 L492.20,163.63 L492.70,163.49 L493.20,163.41 L493.70,163.41 L494.20,163.47 L494.70,163.60 L495.20,163.79 L495.70,164.06 L496.20,164.38 L496.70,164.75 L497.20,165.18 L497.70,165.66 L498.20,166.17 L498.70,166.72 L499.20,167.29 L499.70,167.89 L500.20,168.49 L500.70,169.09 L501.20,169.69 L501.70,170.28 L502.20,170.85 L502.70,171.38 L503.20,171.89 L503.70,172.35 L504.20,172.76 L504.70,173.13 L505.20,173.43 L505.70,173.67 L506.20,173.85 L506.70,173.96 L507.20,174.00 L507.70,173.97 L508.20,173.88 L508.70,173.71 L509.20,173.48 L509.70,173.19 L510.20,172.84 L510.70,172.44 L511.20,171.98 L511.70,171.49 L512.20,170.96 L512.70,170.40 L513.20,169.81 L513.70,169.21 L514.20,168.61 L514.70,168.01 L515.20,167.41 L515.70,166.83 L516.20,166.28 L516.70,165.76 L517.20,165.28 L517.70,164.84 L518.20,164.45 L518.70,164.12 L519.20,163.84 L519.70,163.63 L520.20,163.49 L520.70,163.41 L521.20,163.41 L521.70,163.47 L522.20,163.60 L522.70,163.79 L523.20,164.06 L523.70,164.38 L524.20,164.75 L524.70,165.18 L525.20,165.66 L525.70,166.17 L526.20,166.72 L526.70,167.29 L527.20,167.89 L527.70,168.49 L528.20,169.09 L528.70,169.69 L529.20,170.28 L529.70,170.85 L530.20,171.38 L530.70,171.89 L531.20,172.35 L531.70,172.76 L532.20,173.13 L532.70,173.43 L533.20,173.67 L533.70,173.85 L534.20,173.96 L534.70,174.00 L535.20,173.97 L535.70,173.88 L536.20,173.71 L536.70,173.48 L537.20,173.19 L537.70,172.84 L538.20,172.44 L538.70,171.98 L539.20,171.49 L539.70,170.96 L540.20,170.40 L540.70,169.81 L541.20,169.21 L541.70,168.61 L542.20,168.01 L542.70,167.41 L543.20,166.83 L543.70,166.28 L544.20,165.76 L544.70,165.28 L545.20,164.84 L545.70,164.45 L546.20,164.12 L546.70,163.84 L547.20,163.63 L547.70,163.49 L548.20,163.41 L548.70,163.41 L549.20,163.47 L549.70,163.60 L550.20,163.79 L550.70,164.06 L551.20,164.38 L551.70,164.75 L551.70,179.59 L551.20,179.35 L550.70,179.13 L550.20,178.96 L549.70,178.83 L549.20,178.74 L548.70,178.70 L548.20,178.71 L547.70,178.76 L547.20,178.85 L546.70,178.99 L546.20,179.17 L545.70,179.39 L545.20,179.65 L544.70,179.94 L544.20,180.26 L543.70,180.60 L543.20,180.97 L542.70,181.35 L542.20,181.74 L541.70,182.14 L541.20,182.54 L540.70,182.93 L540.20,183.32 L539.70,183.69 L539.20,184.04 L538.70,184.37 L538.20,184.67 L537.70,184.93 L537.20,185.17 L536.70,185.36 L536.20,185.51 L535.70,185.62 L535.20,185.68 L534.70,185.70 L534.20,185.67 L533.70,185.60 L533.20,185.48 L532.70,185.32 L532.20,185.12 L531.70,184.88 L531.20,184.61 L530.70,184.31 L530.20,183.97 L529.70,183.62 L529.20,183.24 L528.70,182.86 L528.20,182.46 L527.70,182.06 L527.20,181.66 L526.70,181.27 L526.20,180.89 L525.70,180.53 L525.20,180.19 L524.70,179.88 L524.20,179.59 L523.70,179.35 L523.20,179.13 L522.70,178.96 L522.20,178.83 L521.70,178.74 L521.20,178.70 L520.70,178.71 L520.20,178.76 L519.70,178.85 L519.20,178.99 L518.70,179.17 L518.20,179.39 L517.70,179.65 L517.20,179.94 L516.70,180.26 L516.20,180.60 L515.70,180.97 L515.20,181.35 L514.70,181.74 L514.20,182.14 L513.70,182.54 L513.20,182.93 L512.70,183.32 L512.20,183.69 L511.70,184.04 L511.20,184.37 L510.70,184.67 L510.20,184.93 L509.70,185.17 L509.20,185.36 L508.70,185.51 L508.20,185.62 L507.70,185.68 L507.20,185.70 L506.70,185.67 L506.20,185.60 L505.70,185.48 L505.20,185.32 L504.70,185.12 L504.20,184.88 L503.70,184.61 L503.20,184.31 L502.70,183.97 L502.20,183.62 L501.70,183.24 L501.20,182.86 L500.70,182.46 L500.20,182.06 L499.70,181.66 L499.20,181.27 L498.70,180.89 L498.20,180.53 L497.70,180.19 L497.20,179.88 L496.70,179.59 L496.20,179.35 L495.70,179.13 L495.20,178.96 L494.70,178.83 L494.20,178.74 L493.70,178.70 L493.20,178.71 L492.70,178.76 L492.20,178.85 L491.70,178.99 L491.20,179.17 L490.70,179.39 L490.20,179.65 L489.70,179.94 L489.20,180.26 L488.70,180.60 L488.20,180.97 L487.70,181.35 L487.20,181.74 L486.70,182.14 L486.20,182.54 L485.70,182.93 L485.20,183.32 L484.70,183.69 L484.20,184.04 L483.70,184.37 L483.20,184.67 L482.70,184.93 L482.20,185.17 L481.70,185.36 L481.20,185.51 L480.70,185.62 L480.20,185.68 L479.70,185.70 L479.20,185.67 L478.70,185.60 L478.20,185.48 L477.70,185.32 L477.20,185.12 L476.70,184.88 L476.20,184.61 L475.70,184.31 L475.20,183.97 L474.70,183.62 L474.20,183.24 L473.70,182.86 L473.20,182.46 L472.70,182.06 L472.20,181.66 L471.70,181.27 L471.20,180.89 L470.70,180.53 L470.20,180.19 L469.70,179.88 L469.20,179.59 L468.70,179.35 L468.20,179.13 L467.70,178.96 L467.20,178.83 L466.70,178.74 L466.20,178.70 L465.70,178.71 L465.20,178.76 L464.70,178.85 L464.20,178.99 L463.70,179.17 L463.20,179.39 L462.70,179.65 L462.20,179.94 L461.70,180.26 L461.20,180.60 L460.70,180.97 L460.20,181.35 L459.70,181.74 L459.20,182.14 L458.70,182.54 L458.20,182.93 L457.70,183.32 L457.20,183.69 L456.70,184.04 L456.20,184.37 L455.70,184.67 L455.20,184.93 L454.70,185.17 L454.20,185.36 L453.70,185.51 L453.20,185.62 L452.70,185.68 L452.20,185.70 L451.70,185.67 L451.20,185.60 L450.70,185.48 L450.20,185.32 L449.70,185.12 L449.20,184.88 L448.70,184.61 L448.20,184.31 L447.70,183.97 L447.20,183.62 L446.70,183.24 L446.20,182.86 L445.70,182.46 L445.20,182.06 L444.70,181.66 L444.20,181.27 L443.70,180.89 L443.20,180.53 L442.70,180.19 L442.20,179.88 L441.70,179.59 L441.20,179.35 L440.70,179.13 L440.20,178.96 L439.70,178.83 L439.20,178.74 L438.70,178.70 L438.20,178.71 L437.70,178.76 L437.20,178.85 L436.70,178.99 L436.20,179.17 L435.70,179.39 L435.20,179.65 L434.70,179.94 L434.20,180.26 L433.70,180.60 L433.20,180.97 L432.70,181.35 Z" fill="#4c4c4c"/>
<path d="M432.70,181.35 L433.20,180.97 L433.70,180.60 L434.20,180.26 L434.70,179.94 L435.20,179.65 L435.70,179.39 L436.20,179.17 L436.70,178.99 L437.20,178.85 L437.70,178.76 L438.20,178.71 L438.70,178.70 L439.20,178.74 L439.70,178.83 L440.20,178.96 L440.70,179.13 L441.20,179.35 L441.70,179.59 L442.20,179.88 L442.70,180.19 L443.20,180.53 L443.70,180.89 L444.20,181.27 L444.70,181.66 L445.20,182.06 L445.70,182.46 L446.20,182.86 L446.70,183.24 L447.20,183.62 L447.70,183.97 L448.20,184.31 L448.70,184.61 L449.20,184.88 L449.70,185.12 L450.20,185.32 L450.70,185.48 L451.20,185.60 L451.70,185.67 L452.20,185.70 L452.70,185.68 L453.20,185.62 L453.70,185.51 L454.20,185.36 L454.70,185.17 L455.20,184.93 L455.70,184.67 L456.20,184.37 L456.70,184.04 L457.20,183.69 L457.70,183.32 L458.20,182.93 L458.70,182.54 L459.20,182.14 L459.70,181.74 L460.20,181.35 L460.70,180.97 L461.20,180.60 L461.70,180.26 L462.20,179.94 L462.70,179.65 L463.20,179.39 L463.70,179.17 L464.20,178.99 L464.70,178.85 L465.20,178.76 L465.70,178.71 L466.20,178.70 L466.70,178.74 L467.20,178.83 L467.70,178.96 L468.20,179.13 L468.70,179.35 L469.20,179.59 L469.70,179.88 L470.20,180.19 L470.70,180.53 L471.20,180.89 L471.70,181.27 L472.20,181.66 L472.70,182.06 L473.20,182.46 L473.70,182.86 L474.20,183.24 L474.70,183.62 L475.20,183.97 L475.70,184.31 L476.20,184.61 L476.70,184.88 L477.20,185.12 L477.70,185.32 L478.20,185.48 L478.70,185.60 L479.20,185.67 L479.70,185.70 L480.20,185.68 L480.70,185.62 L481.20,185.51 L481.70,185.36 L482.20,185.17 L482.70,184.93 L483.20,184.67 L483.70,184.37 L484.20,184.04 L484.70,183.69 L485.20,183.32 L485.70,182.93 L486.20,182.54 L486.70,182.14 L487.20,181.74 L487.70,181.35 L488.20,180.97 L488.70,180.60 L489.20,180.26 L489.70,179.94 L490.20,179.65 L490.70,179.39 L491.20,179.17 L491.70,178.99 L492.20,178.85 L492.70,178.76 L493.20,178.71 L493.70,178.70 L494.20,178.74 L494.70,178.83 L495.20,178.96 L495.70,179.13 L496.20,179.35 L496.70,179.59 L497.20,179.88 L497.70,180.19 L498.20,180.53 L498.70,180.89 L499.20,181.27 L499.70,181.66 L500.20,182.06 L500.70,182.46 L501.20,182.86 L501.70,183.24 L502.20,183.62 L502.70,183.97 L503.20,184.31 L503.70,184.61 L504.20,184.88 L504.70,185.12 L505.20,185.32 L505.70,185.48 L506.20,185.60 L506.70,185.67 L507.20,185.70 L507.70,185.68 L508.20,185.62 L508.70,185.51 L509.20,185.36 L509.70,185.17 L510.20,184.93 L510.70,184.67 L511.20,184.37 L511.70,184.04 L512.20,183.69 L512.70,183.32 L513.20,182.93 L513.70,182.54 L514.20,182.14 L514.70,181.74 L515.20,181.35 L515.70,180.97 L516.20,180.60 L516.70,180.26 L517.20,179.94 L517.70,179.65 L518.20,179.39 L518.70,179.17 L519.20,178.99 L519.70,178.85 L520.20,178.76 L520.70,178.71 L521.20,178.70 L521.70,178.74 L522.20,178.83 L522.70,178.96 L523.20,179.13 L523.70,179.35 L524.20,179.59 L524.70,179.88 L525.20,180.19 L525.70,180.53 L526.20,180.89 L526.70,181.27 L527.20,181.66 L527.70,182.06 L528.20,182.46 L528.70,182.86 L529.20,183.24 L529.70,183.62 L530.20,183.97 L530.70,184.31 L531.20,184.61 L531.70,184.88 L532.20,185.12 L532.70,185.32 L533.20,185.48 L533.70,185.60 L534.20,185.67 L534.70,185.70 L535.20,185.68 L535.70,185.62 L536.20,185.51 L536.70,185.36 L537.20,185.17 L537.70,184.93 L538.20,184.67 L538.70,184.37 L539.20,184.04 L539.70,183.69 L540.20,183.32 L540.70,182.93 L541.20,182.54 L541.70,182.14 L542.20,181.74 L542.70,181.35 L543.20,180.97 L543.70,180.60 L544.20,180.26 L544.70,179.94 L545.20,179.65 L545.70,179.39 L546.20,179.17 L546.70,178.99 L547.20,178.85 L547.70,178.76 L548.20,178.71 L548.70,178.70 L549.20,178.74 L549.70,178.83 L550.20,178.96 L550.70,179.13 L551.20,179.35 L551.70,179.59 L551.8,193.6 L432.7,193.6 Z" fill="#d8d8d8"/>
<path d="M433.50,166.00 L435.50,148.00 L439.50,148.00 L441.50,166.00 Z" fill="#7a7a7a" opacity="0.6" filter="url(#bl15)"/>
<path d="M461.00,166.00 L463.00,148.00 L467.00,148.00 L469.00,166.00 Z" fill="#7a7a7a" opacity="0.6" filter="url(#bl15)"/>
<path d="M488.50,166.00 L490.50,148.00 L494.50,148.00 L496.50,166.00 Z" fill="#7a7a7a" opacity="0.6" filter="url(#bl15)"/>
<path d="M516.00,166.00 L518.00,148.00 L522.00,148.00 L524.00,166.00 Z" fill="#7a7a7a" opacity="0.6" filter="url(#bl15)"/>
<path d="M543.50,166.00 L545.50,148.00 L549.50,148.00 L551.50,166.00 Z" fill="#7a7a7a" opacity="0.6" filter="url(#bl15)"/>
<rect x="434.7" y="120.0" width="115.09999999999997" height="71.6" filter="url(#nz1)" style="mix-blend-mode:overlay" opacity="0.5"/>
<rect x="434.7" y="120.0" width="115.09999999999997" height="71.6" filter="url(#hz)" opacity="0.25" clip-path="url(#ec3a)"/>
<path d="M432.70,181.35 L433.20,180.97 L433.70,180.60 L434.20,180.26 L434.70,179.94 L435.20,179.65 L435.70,179.39 L436.20,179.17 L436.70,178.99 L437.20,178.85 L437.70,178.76 L438.20,178.71 L438.70,178.70 L439.20,178.74 L439.70,178.83 L440.20,178.96 L440.70,179.13 L441.20,179.35 L441.70,179.59 L442.20,179.88 L442.70,180.19 L443.20,180.53 L443.70,180.89 L444.20,181.27 L444.70,181.66 L445.20,182.06 L445.70,182.46 L446.20,182.86 L446.70,183.24 L447.20,183.62 L447.70,183.97 L448.20,184.31 L448.70,184.61 L449.20,184.88 L449.70,185.12 L450.20,185.32 L450.70,185.48 L451.20,185.60 L451.70,185.67 L452.20,185.70 L452.70,185.68 L453.20,185.62 L453.70,185.51 L454.20,185.36 L454.70,185.17 L455.20,184.93 L455.70,184.67 L456.20,184.37 L456.70,184.04 L457.20,183.69 L457.70,183.32 L458.20,182.93 L458.70,182.54 L459.20,182.14 L459.70,181.74 L460.20,181.35 L460.70,180.97 L461.20,180.60 L461.70,180.26 L462.20,179.94 L462.70,179.65 L463.20,179.39 L463.70,179.17 L464.20,178.99 L464.70,178.85 L465.20,178.76 L465.70,178.71 L466.20,178.70 L466.70,178.74 L467.20,178.83 L467.70,178.96 L468.20,179.13 L468.70,179.35 L469.20,179.59 L469.70,179.88 L470.20,180.19 L470.70,180.53 L471.20,180.89 L471.70,181.27 L472.20,181.66 L472.70,182.06 L473.20,182.46 L473.70,182.86 L474.20,183.24 L474.70,183.62 L475.20,183.97 L475.70,184.31 L476.20,184.61 L476.70,184.88 L477.20,185.12 L477.70,185.32 L478.20,185.48 L478.70,185.60 L479.20,185.67 L479.70,185.70 L480.20,185.68 L480.70,185.62 L481.20,185.51 L481.70,185.36 L482.20,185.17 L482.70,184.93 L483.20,184.67 L483.70,184.37 L484.20,184.04 L484.70,183.69 L485.20,183.32 L485.70,182.93 L486.20,182.54 L486.70,182.14 L487.20,181.74 L487.70,181.35 L488.20,180.97 L488.70,180.60 L489.20,180.26 L489.70,179.94 L490.20,179.65 L490.70,179.39 L491.20,179.17 L491.70,178.99 L492.20,178.85 L492.70,178.76 L493.20,178.71 L493.70,178.70 L494.20,178.74 L494.70,178.83 L495.20,178.96 L495.70,179.13 L496.20,179.35 L496.70,179.59 L497.20,179.88 L497.70,180.19 L498.20,180.53 L498.70,180.89 L499.20,181.27 L499.70,181.66 L500.20,182.06 L500.70,182.46 L501.20,182.86 L501.70,183.24 L502.20,183.62 L502.70,183.97 L503.20,184.31 L503.70,184.61 L504.20,184.88 L504.70,185.12 L505.20,185.32 L505.70,185.48 L506.20,185.60 L506.70,185.67 L507.20,185.70 L507.70,185.68 L508.20,185.62 L508.70,185.51 L509.20,185.36 L509.70,185.17 L510.20,184.93 L510.70,184.67 L511.20,184.37 L511.70,184.04 L512.20,183.69 L512.70,183.32 L513.20,182.93 L513.70,182.54 L514.20,182.14 L514.70,181.74 L515.20,181.35 L515.70,180.97 L516.20,180.60 L516.70,180.26 L517.20,179.94 L517.70,179.65 L518.20,179.39 L518.70,179.17 L519.20,178.99 L519.70,178.85 L520.20,178.76 L520.70,178.71 L521.20,178.70 L521.70,178.74 L522.20,178.83 L522.70,178.96 L523.20,179.13 L523.70,179.35 L524.20,179.59 L524.70,179.88 L525.20,180.19 L525.70,180.53 L526.20,180.89 L526.70,181.27 L527.20,181.66 L527.70,182.06 L528.20,182.46 L528.70,182.86 L529.20,183.24 L529.70,183.62 L530.20,183.97 L530.70,184.31 L531.20,184.61 L531.70,184.88 L532.20,185.12 L532.70,185.32 L533.20,185.48 L533.70,185.60 L534.20,185.67 L534.70,185.70 L535.20,185.68 L535.70,185.62 L536.20,185.51 L536.70,185.36 L537.20,185.17 L537.70,184.93 L538.20,184.67 L538.70,184.37 L539.20,184.04 L539.70,183.69 L540.20,183.32 L540.70,182.93 L541.20,182.54 L541.70,182.14 L542.20,181.74 L542.70,181.35 L543.20,180.97 L543.70,180.60 L544.20,180.26 L544.70,179.94 L545.20,179.65 L545.70,179.39 L546.20,179.17 L546.70,178.99 L547.20,178.85 L547.70,178.76 L548.20,178.71 L548.70,178.70 L549.20,178.74 L549.70,178.83 L550.20,178.96 L550.70,179.13 L551.20,179.35 L551.70,179.59 L551.8,193.6 L432.7,193.6 Z" fill="#fff" opacity="0.5"/>
<path d="M432.70,139.35 L433.20,139.64 L433.70,139.93 L434.20,140.25 L434.70,140.59 L435.20,140.91 L435.70,141.17 L436.20,141.36 L436.70,141.47 L437.20,141.53 L437.70,141.54 L438.20,141.49 L438.70,141.38 L439.20,141.20 L439.70,140.96 L440.20,140.66 L440.70,140.31 L441.20,139.99 L441.70,139.69 L442.20,139.41 L442.70,139.14 L443.20,138.89 L443.70,138.65 L444.20,138.43 L444.70,138.22 L445.20,138.02 L445.70,137.85 L446.20,137.68 L446.70,137.53 L447.20,137.40 L447.70,137.28 L448.20,137.18 L448.70,137.09 L449.20,137.02 L449.70,136.96 L450.20,136.92 L450.70,136.89 L451.20,136.88 L451.70,136.89 L452.20,136.91 L452.70,136.95 L453.20,137.00 L453.70,137.07 L454.20,137.16 L454.70,137.26 L455.20,137.37 L455.70,137.50 L456.20,137.65 L456.70,137.81 L457.20,137.99 L457.70,138.18 L458.20,138.38 L458.70,138.60 L459.20,138.84 L459.70,139.09 L460.20,139.35 L460.70,139.64 L461.20,139.93 L461.70,140.25 L462.20,140.59 L462.70,140.91 L463.20,141.17 L463.70,141.36 L464.20,141.47 L464.70,141.53 L465.20,141.54 L465.70,141.49 L466.20,141.38 L466.70,141.20 L467.20,140.96 L467.70,140.66 L468.20,140.31 L468.70,139.99 L469.20,139.69 L469.70,139.41 L470.20,139.14 L470.70,138.89 L471.20,138.65 L471.70,138.43 L472.20,138.22 L472.70,138.02 L473.20,137.85 L473.70,137.68 L474.20,137.53 L474.70,137.40 L475.20,137.28 L475.70,137.18 L476.20,137.09 L476.70,137.02 L477.20,136.96 L477.70,136.92 L478.20,136.89 L478.70,136.88 L479.20,136.89 L479.70,136.91 L480.20,136.95 L480.70,137.00 L481.20,137.07 L481.70,137.16 L482.20,137.26 L482.70,137.37 L483.20,137.50 L483.70,137.65 L484.20,137.81 L484.70,137.99 L485.20,138.18 L485.70,138.38 L486.20,138.60 L486.70,138.84 L487.20,139.09 L487.70,139.35 L488.20,139.64 L488.70,139.93 L489.20,140.25 L489.70,140.59 L490.20,140.91 L490.70,141.17 L491.20,141.36 L491.70,141.47 L492.20,141.53 L492.70,141.54 L493.20,141.49 L493.70,141.38 L494.20,141.20 L494.70,140.96 L495.20,140.66 L495.70,140.31 L496.20,139.99 L496.70,139.69 L497.20,139.41 L497.70,139.14 L498.20,138.89 L498.70,138.65 L499.20,138.43 L499.70,138.22 L500.20,138.02 L500.70,137.85 L501.20,137.68 L501.70,137.53 L502.20,137.40 L502.70,137.28 L503.20,137.18 L503.70,137.09 L504.20,137.02 L504.70,136.96 L505.20,136.92 L505.70,136.89 L506.20,136.88 L506.70,136.89 L507.20,136.91 L507.70,136.95 L508.20,137.00 L508.70,137.07 L509.20,137.16 L509.70,137.26 L510.20,137.37 L510.70,137.50 L511.20,137.65 L511.70,137.81 L512.20,137.99 L512.70,138.18 L513.20,138.38 L513.70,138.60 L514.20,138.84 L514.70,139.09 L515.20,139.35 L515.70,139.64 L516.20,139.93 L516.70,140.25 L517.20,140.59 L517.70,140.91 L518.20,141.17 L518.70,141.36 L519.20,141.47 L519.70,141.53 L520.20,141.54 L520.70,141.49 L521.20,141.38 L521.70,141.20 L522.20,140.96 L522.70,140.66 L523.20,140.31 L523.70,139.99 L524.20,139.69 L524.70,139.41 L525.20,139.14 L525.70,138.89 L526.20,138.65 L526.70,138.43 L527.20,138.22 L527.70,138.02 L528.20,137.85 L528.70,137.68 L529.20,137.53 L529.70,137.40 L530.20,137.28 L530.70,137.18 L531.20,137.09 L531.70,137.02 L532.20,136.96 L532.70,136.92 L533.20,136.89 L533.70,136.88 L534.20,136.89 L534.70,136.91 L535.20,136.95 L535.70,137.00 L536.20,137.07 L536.70,137.16 L537.20,137.26 L537.70,137.37 L538.20,137.50 L538.70,137.65 L539.20,137.81 L539.70,137.99 L540.20,138.18 L540.70,138.38 L541.20,138.60 L541.70,138.84 L542.20,139.09 L542.70,139.35 L543.20,139.64 L543.70,139.93 L544.20,140.25 L544.70,140.59 L545.20,140.91 L545.70,141.17 L546.20,141.36 L546.70,141.47 L547.20,141.53 L547.70,141.54 L548.20,141.49 L548.70,141.38 L549.20,141.20 L549.70,140.96 L550.20,140.66 L550.70,140.31 L551.20,139.99 L551.70,139.69" stroke="#2b9be0" stroke-width="1.5" fill="none"/>
<path d="M432.70,167.41 L433.20,166.83 L433.70,166.28 L434.20,165.76 L434.70,165.28 L435.20,164.84 L435.70,164.45 L436.20,164.12 L436.70,163.84 L437.20,163.63 L437.70,163.49 L438.20,163.41 L438.70,163.41 L439.20,163.47 L439.70,163.60 L440.20,163.79 L440.70,164.06 L441.20,164.38 L441.70,164.75 L442.20,165.18 L442.70,165.66 L443.20,166.17 L443.70,166.72 L444.20,167.29 L444.70,167.89 L445.20,168.49 L445.70,169.09 L446.20,169.69 L446.70,170.28 L447.20,170.85 L447.70,171.38 L448.20,171.89 L448.70,172.35 L449.20,172.76 L449.70,173.13 L450.20,173.43 L450.70,173.67 L451.20,173.85 L451.70,173.96 L452.20,174.00 L452.70,173.97 L453.20,173.88 L453.70,173.71 L454.20,173.48 L454.70,173.19 L455.20,172.84 L455.70,172.44 L456.20,171.98 L456.70,171.49 L457.20,170.96 L457.70,170.40 L458.20,169.81 L458.70,169.21 L459.20,168.61 L459.70,168.01 L460.20,167.41 L460.70,166.83 L461.20,166.28 L461.70,165.76 L462.20,165.28 L462.70,164.84 L463.20,164.45 L463.70,164.12 L464.20,163.84 L464.70,163.63 L465.20,163.49 L465.70,163.41 L466.20,163.41 L466.70,163.47 L467.20,163.60 L467.70,163.79 L468.20,164.06 L468.70,164.38 L469.20,164.75 L469.70,165.18 L470.20,165.66 L470.70,166.17 L471.20,166.72 L471.70,167.29 L472.20,167.89 L472.70,168.49 L473.20,169.09 L473.70,169.69 L474.20,170.28 L474.70,170.85 L475.20,171.38 L475.70,171.89 L476.20,172.35 L476.70,172.76 L477.20,173.13 L477.70,173.43 L478.20,173.67 L478.70,173.85 L479.20,173.96 L479.70,174.00 L480.20,173.97 L480.70,173.88 L481.20,173.71 L481.70,173.48 L482.20,173.19 L482.70,172.84 L483.20,172.44 L483.70,171.98 L484.20,171.49 L484.70,170.96 L485.20,170.40 L485.70,169.81 L486.20,169.21 L486.70,168.61 L487.20,168.01 L487.70,167.41 L488.20,166.83 L488.70,166.28 L489.20,165.76 L489.70,165.28 L490.20,164.84 L490.70,164.45 L491.20,164.12 L491.70,163.84 L492.20,163.63 L492.70,163.49 L493.20,163.41 L493.70,163.41 L494.20,163.47 L494.70,163.60 L495.20,163.79 L495.70,164.06 L496.20,164.38 L496.70,164.75 L497.20,165.18 L497.70,165.66 L498.20,166.17 L498.70,166.72 L499.20,167.29 L499.70,167.89 L500.20,168.49 L500.70,169.09 L501.20,169.69 L501.70,170.28 L502.20,170.85 L502.70,171.38 L503.20,171.89 L503.70,172.35 L504.20,172.76 L504.70,173.13 L505.20,173.43 L505.70,173.67 L506.20,173.85 L506.70,173.96 L507.20,174.00 L507.70,173.97 L508.20,173.88 L508.70,173.71 L509.20,173.48 L509.70,173.19 L510.20,172.84 L510.70,172.44 L511.20,171.98 L511.70,171.49 L512.20,170.96 L512.70,170.40 L513.20,169.81 L513.70,169.21 L514.20,168.61 L514.70,168.01 L515.20,167.41 L515.70,166.83 L516.20,166.28 L516.70,165.76 L517.20,165.28 L517.70,164.84 L518.20,164.45 L518.70,164.12 L519.20,163.84 L519.70,163.63 L520.20,163.49 L520.70,163.41 L521.20,163.41 L521.70,163.47 L522.20,163.60 L522.70,163.79 L523.20,164.06 L523.70,164.38 L524.20,164.75 L524.70,165.18 L525.20,165.66 L525.70,166.17 L526.20,166.72 L526.70,167.29 L527.20,167.89 L527.70,168.49 L528.20,169.09 L528.70,169.69 L529.20,170.28 L529.70,170.85 L530.20,171.38 L530.70,171.89 L531.20,172.35 L531.70,172.76 L532.20,173.13 L532.70,173.43 L533.20,173.67 L533.70,173.85 L534.20,173.96 L534.70,174.00 L535.20,173.97 L535.70,173.88 L536.20,173.71 L536.70,173.48 L537.20,173.19 L537.70,172.84 L538.20,172.44 L538.70,171.98 L539.20,171.49 L539.70,170.96 L540.20,170.40 L540.70,169.81 L541.20,169.21 L541.70,168.61 L542.20,168.01 L542.70,167.41 L543.20,166.83 L543.70,166.28 L544.20,165.76 L544.70,165.28 L545.20,164.84 L545.70,164.45 L546.20,164.12 L546.70,163.84 L547.20,163.63 L547.70,163.49 L548.20,163.41 L548.70,163.41 L549.20,163.47 L549.70,163.60 L550.20,163.79 L550.70,164.06 L551.20,164.38 L551.70,164.75" stroke="#2b9be0" stroke-width="1.5" fill="none"/>
<path d="M432.70,181.35 L433.20,180.97 L433.70,180.60 L434.20,180.26 L434.70,179.94 L435.20,179.65 L435.70,179.39 L436.20,179.17 L436.70,178.99 L437.20,178.85 L437.70,178.76 L438.20,178.71 L438.70,178.70 L439.20,178.74 L439.70,178.83 L440.20,178.96 L440.70,179.13 L441.20,179.35 L441.70,179.59 L442.20,179.88 L442.70,180.19 L443.20,180.53 L443.70,180.89 L444.20,181.27 L444.70,181.66 L445.20,182.06 L445.70,182.46 L446.20,182.86 L446.70,183.24 L447.20,183.62 L447.70,183.97 L448.20,184.31 L448.70,184.61 L449.20,184.88 L449.70,185.12 L450.20,185.32 L450.70,185.48 L451.20,185.60 L451.70,185.67 L452.20,185.70 L452.70,185.68 L453.20,185.62 L453.70,185.51 L454.20,185.36 L454.70,185.17 L455.20,184.93 L455.70,184.67 L456.20,184.37 L456.70,184.04 L457.20,183.69 L457.70,183.32 L458.20,182.93 L458.70,182.54 L459.20,182.14 L459.70,181.74 L460.20,181.35 L460.70,180.97 L461.20,180.60 L461.70,180.26 L462.20,179.94 L462.70,179.65 L463.20,179.39 L463.70,179.17 L464.20,178.99 L464.70,178.85 L465.20,178.76 L465.70,178.71 L466.20,178.70 L466.70,178.74 L467.20,178.83 L467.70,178.96 L468.20,179.13 L468.70,179.35 L469.20,179.59 L469.70,179.88 L470.20,180.19 L470.70,180.53 L471.20,180.89 L471.70,181.27 L472.20,181.66 L472.70,182.06 L473.20,182.46 L473.70,182.86 L474.20,183.24 L474.70,183.62 L475.20,183.97 L475.70,184.31 L476.20,184.61 L476.70,184.88 L477.20,185.12 L477.70,185.32 L478.20,185.48 L478.70,185.60 L479.20,185.67 L479.70,185.70 L480.20,185.68 L480.70,185.62 L481.20,185.51 L481.70,185.36 L482.20,185.17 L482.70,184.93 L483.20,184.67 L483.70,184.37 L484.20,184.04 L484.70,183.69 L485.20,183.32 L485.70,182.93 L486.20,182.54 L486.70,182.14 L487.20,181.74 L487.70,181.35 L488.20,180.97 L488.70,180.60 L489.20,180.26 L489.70,179.94 L490.20,179.65 L490.70,179.39 L491.20,179.17 L491.70,178.99 L492.20,178.85 L492.70,178.76 L493.20,178.71 L493.70,178.70 L494.20,178.74 L494.70,178.83 L495.20,178.96 L495.70,179.13 L496.20,179.35 L496.70,179.59 L497.20,179.88 L497.70,180.19 L498.20,180.53 L498.70,180.89 L499.20,181.27 L499.70,181.66 L500.20,182.06 L500.70,182.46 L501.20,182.86 L501.70,183.24 L502.20,183.62 L502.70,183.97 L503.20,184.31 L503.70,184.61 L504.20,184.88 L504.70,185.12 L505.20,185.32 L505.70,185.48 L506.20,185.60 L506.70,185.67 L507.20,185.70 L507.70,185.68 L508.20,185.62 L508.70,185.51 L509.20,185.36 L509.70,185.17 L510.20,184.93 L510.70,184.67 L511.20,184.37 L511.70,184.04 L512.20,183.69 L512.70,183.32 L513.20,182.93 L513.70,182.54 L514.20,182.14 L514.70,181.74 L515.20,181.35 L515.70,180.97 L516.20,180.60 L516.70,180.26 L517.20,179.94 L517.70,179.65 L518.20,179.39 L518.70,179.17 L519.20,178.99 L519.70,178.85 L520.20,178.76 L520.70,178.71 L521.20,178.70 L521.70,178.74 L522.20,178.83 L522.70,178.96 L523.20,179.13 L523.70,179.35 L524.20,179.59 L524.70,179.88 L525.20,180.19 L525.70,180.53 L526.20,180.89 L526.70,181.27 L527.20,181.66 L527.70,182.06 L528.20,182.46 L528.70,182.86 L529.20,183.24 L529.70,183.62 L530.20,183.97 L530.70,184.31 L531.20,184.61 L531.70,184.88 L532.20,185.12 L532.70,185.32 L533.20,185.48 L533.70,185.60 L534.20,185.67 L534.70,185.70 L535.20,185.68 L535.70,185.62 L536.20,185.51 L536.70,185.36 L537.20,185.17 L537.70,184.93 L538.20,184.67 L538.70,184.37 L539.20,184.04 L539.70,183.69 L540.20,183.32 L540.70,182.93 L541.20,182.54 L541.70,182.14 L542.20,181.74 L542.70,181.35 L543.20,180.97 L543.70,180.60 L544.20,180.26 L544.70,179.94 L545.20,179.65 L545.70,179.39 L546.20,179.17 L546.70,178.99 L547.20,178.85 L547.70,178.76 L548.20,178.71 L548.70,178.70 L549.20,178.74 L549.70,178.83 L550.20,178.96 L550.70,179.13 L551.20,179.35 L551.70,179.59" stroke="#ea8a2a" stroke-width="1.5" fill="none"/>
<rect x="502.50" y="175.2" width="2.6" height="8.60" fill="#e0262a"/>
</g>
<clipPath id="ec4"><rect x="563.0" y="120.0" width="114.39999999999998" height="72.0"/></clipPath>
<clipPath id="ec4a"><path d="M561.00,138.43 L561.50,138.87 L562.00,139.35 L562.50,139.92 L563.00,140.27 L563.50,140.56 L564.00,140.78 L564.50,140.92 L565.00,141.01 L565.50,140.92 L566.00,140.78 L566.50,140.56 L567.00,140.27 L567.50,139.92 L568.00,139.35 L568.50,138.87 L569.00,138.43 L569.50,138.03 L570.00,137.65 L570.50,137.29 L571.00,136.96 L571.50,136.65 L572.00,136.36 L572.50,136.09 L573.00,135.84 L573.50,135.61 L574.00,135.40 L574.50,135.22 L575.00,135.05 L575.50,134.90 L576.00,134.77 L576.50,134.66 L577.00,134.57 L577.50,134.50 L578.00,134.45 L578.50,134.41 L579.00,134.40 L579.50,134.41 L580.00,134.44 L580.50,134.49 L581.00,134.55 L581.50,134.64 L582.00,134.74 L582.50,134.87 L583.00,135.02 L583.50,135.18 L584.00,135.37 L584.50,135.57 L585.00,135.79 L585.50,136.04 L586.00,136.30 L586.50,136.59 L587.00,136.89 L587.50,137.22 L588.00,137.57 L588.50,137.95 L589.00,138.35 L589.50,138.78 L590.00,139.25 L590.50,139.78 L591.00,140.19 L591.50,140.51 L592.00,140.75 L592.50,140.93 L593.00,140.97 L593.50,140.92 L594.00,140.81 L594.50,140.62 L595.00,140.37 L595.50,139.97 L596.00,139.46 L596.50,138.97 L597.00,138.52 L597.50,138.11 L598.00,137.72 L598.50,137.36 L599.00,137.02 L599.50,136.71 L600.00,136.41 L600.50,136.14 L601.00,135.89 L601.50,135.66 L602.00,135.44 L602.50,135.25 L603.00,135.08 L603.50,134.93 L604.00,134.79 L604.50,134.68 L605.00,134.58 L605.50,134.51 L606.00,134.45 L606.50,134.42 L607.00,134.40 L607.50,134.41 L608.00,134.43 L608.50,134.47 L609.00,134.54 L609.50,134.62 L610.00,134.72 L610.50,134.84 L611.00,134.98 L611.50,135.15 L612.00,135.33 L612.50,135.53 L613.00,135.75 L613.50,135.99 L614.00,136.25 L614.50,136.53 L615.00,136.83 L615.50,137.15 L616.00,137.50 L616.50,137.87 L617.00,138.27 L617.50,138.69 L618.00,139.16 L618.50,139.67 L619.00,140.11 L619.50,140.46 L620.00,140.74 L620.50,140.89 L621.00,140.94 L621.50,140.93 L622.00,140.85 L622.50,140.69 L623.00,140.42 L623.50,140.03 L624.00,139.56 L624.50,139.06 L625.00,138.61 L625.50,138.19 L626.00,137.79 L626.50,137.43 L627.00,137.09 L627.50,136.77 L628.00,136.47 L628.50,136.19 L629.00,135.94 L629.50,135.70 L630.00,135.49 L630.50,135.29 L631.00,135.11 L631.50,134.96 L632.00,134.82 L632.50,134.70 L633.00,134.60 L633.50,134.52 L634.00,134.46 L634.50,134.42 L635.00,134.40 L635.50,134.40 L636.00,134.42 L636.50,134.46 L637.00,134.52 L637.50,134.60 L638.00,134.70 L638.50,134.82 L639.00,134.96 L639.50,135.11 L640.00,135.29 L640.50,135.49 L641.00,135.70 L641.50,135.94 L642.00,136.19 L642.50,136.47 L643.00,136.77 L643.50,137.09 L644.00,137.43 L644.50,137.79 L645.00,138.19 L645.50,138.61 L646.00,139.06 L646.50,139.56 L647.00,140.03 L647.50,140.42 L648.00,140.69 L648.50,140.85 L649.00,140.93 L649.50,140.94 L650.00,140.89 L650.50,140.74 L651.00,140.46 L651.50,140.11 L652.00,139.67 L652.50,139.16 L653.00,138.69 L653.50,138.27 L654.00,137.87 L654.50,137.50 L655.00,137.15 L655.50,136.83 L656.00,136.53 L656.50,136.25 L657.00,135.99 L657.50,135.75 L658.00,135.53 L658.50,135.33 L659.00,135.15 L659.50,134.98 L660.00,134.84 L660.50,134.72 L661.00,134.62 L661.50,134.54 L662.00,134.47 L662.50,134.43 L663.00,134.41 L663.50,134.40 L664.00,134.42 L664.50,134.45 L665.00,134.51 L665.50,134.58 L666.00,134.68 L666.50,134.79 L667.00,134.93 L667.50,135.08 L668.00,135.25 L668.50,135.44 L669.00,135.66 L669.50,135.89 L670.00,136.14 L670.50,136.41 L671.00,136.71 L671.50,137.02 L672.00,137.36 L672.50,137.72 L673.00,138.11 L673.50,138.52 L674.00,138.97 L674.50,139.46 L675.00,139.97 L675.50,140.37 L676.00,140.62 L676.50,140.81 L677.00,140.92 L677.50,140.97 L678.00,140.93 L678.50,140.75 L679.00,140.51 L679.4,118.0 L561.0,118.0 Z"/></clipPath>
<g clip-path="url(#ec4)">
<rect x="563.0" y="120.0" width="114.39999999999998" height="72.0" fill="#565656"/>
<rect x="563.0" y="120.0" width="114.39999999999998" height="8" fill="#7e7e7e"/>
<rect x="563.0" y="121.2" width="114.39999999999998" height="1.2" fill="#cfcfcf"/>
<rect x="563.0" y="124.4" width="114.39999999999998" height="0.9" fill="#bcbcbc"/>
<path d="M561.00,138.43 L561.50,138.87 L562.00,139.35 L562.50,139.92 L563.00,140.27 L563.50,140.56 L564.00,140.78 L564.50,140.92 L565.00,141.01 L565.50,140.92 L566.00,140.78 L566.50,140.56 L567.00,140.27 L567.50,139.92 L568.00,139.35 L568.50,138.87 L569.00,138.43 L569.50,138.03 L570.00,137.65 L570.50,137.29 L571.00,136.96 L571.50,136.65 L572.00,136.36 L572.50,136.09 L573.00,135.84 L573.50,135.61 L574.00,135.40 L574.50,135.22 L575.00,135.05 L575.50,134.90 L576.00,134.77 L576.50,134.66 L577.00,134.57 L577.50,134.50 L578.00,134.45 L578.50,134.41 L579.00,134.40 L579.50,134.41 L580.00,134.44 L580.50,134.49 L581.00,134.55 L581.50,134.64 L582.00,134.74 L582.50,134.87 L583.00,135.02 L583.50,135.18 L584.00,135.37 L584.50,135.57 L585.00,135.79 L585.50,136.04 L586.00,136.30 L586.50,136.59 L587.00,136.89 L587.50,137.22 L588.00,137.57 L588.50,137.95 L589.00,138.35 L589.50,138.78 L590.00,139.25 L590.50,139.78 L591.00,140.19 L591.50,140.51 L592.00,140.75 L592.50,140.93 L593.00,140.97 L593.50,140.92 L594.00,140.81 L594.50,140.62 L595.00,140.37 L595.50,139.97 L596.00,139.46 L596.50,138.97 L597.00,138.52 L597.50,138.11 L598.00,137.72 L598.50,137.36 L599.00,137.02 L599.50,136.71 L600.00,136.41 L600.50,136.14 L601.00,135.89 L601.50,135.66 L602.00,135.44 L602.50,135.25 L603.00,135.08 L603.50,134.93 L604.00,134.79 L604.50,134.68 L605.00,134.58 L605.50,134.51 L606.00,134.45 L606.50,134.42 L607.00,134.40 L607.50,134.41 L608.00,134.43 L608.50,134.47 L609.00,134.54 L609.50,134.62 L610.00,134.72 L610.50,134.84 L611.00,134.98 L611.50,135.15 L612.00,135.33 L612.50,135.53 L613.00,135.75 L613.50,135.99 L614.00,136.25 L614.50,136.53 L615.00,136.83 L615.50,137.15 L616.00,137.50 L616.50,137.87 L617.00,138.27 L617.50,138.69 L618.00,139.16 L618.50,139.67 L619.00,140.11 L619.50,140.46 L620.00,140.74 L620.50,140.89 L621.00,140.94 L621.50,140.93 L622.00,140.85 L622.50,140.69 L623.00,140.42 L623.50,140.03 L624.00,139.56 L624.50,139.06 L625.00,138.61 L625.50,138.19 L626.00,137.79 L626.50,137.43 L627.00,137.09 L627.50,136.77 L628.00,136.47 L628.50,136.19 L629.00,135.94 L629.50,135.70 L630.00,135.49 L630.50,135.29 L631.00,135.11 L631.50,134.96 L632.00,134.82 L632.50,134.70 L633.00,134.60 L633.50,134.52 L634.00,134.46 L634.50,134.42 L635.00,134.40 L635.50,134.40 L636.00,134.42 L636.50,134.46 L637.00,134.52 L637.50,134.60 L638.00,134.70 L638.50,134.82 L639.00,134.96 L639.50,135.11 L640.00,135.29 L640.50,135.49 L641.00,135.70 L641.50,135.94 L642.00,136.19 L642.50,136.47 L643.00,136.77 L643.50,137.09 L644.00,137.43 L644.50,137.79 L645.00,138.19 L645.50,138.61 L646.00,139.06 L646.50,139.56 L647.00,140.03 L647.50,140.42 L648.00,140.69 L648.50,140.85 L649.00,140.93 L649.50,140.94 L650.00,140.89 L650.50,140.74 L651.00,140.46 L651.50,140.11 L652.00,139.67 L652.50,139.16 L653.00,138.69 L653.50,138.27 L654.00,137.87 L654.50,137.50 L655.00,137.15 L655.50,136.83 L656.00,136.53 L656.50,136.25 L657.00,135.99 L657.50,135.75 L658.00,135.53 L658.50,135.33 L659.00,135.15 L659.50,134.98 L660.00,134.84 L660.50,134.72 L661.00,134.62 L661.50,134.54 L662.00,134.47 L662.50,134.43 L663.00,134.41 L663.50,134.40 L664.00,134.42 L664.50,134.45 L665.00,134.51 L665.50,134.58 L666.00,134.68 L666.50,134.79 L667.00,134.93 L667.50,135.08 L668.00,135.25 L668.50,135.44 L669.00,135.66 L669.50,135.89 L670.00,136.14 L670.50,136.41 L671.00,136.71 L671.50,137.02 L672.00,137.36 L672.50,137.72 L673.00,138.11 L673.50,138.52 L674.00,138.97 L674.50,139.46 L675.00,139.97 L675.50,140.37 L676.00,140.62 L676.50,140.81 L677.00,140.92 L677.50,140.97 L678.00,140.93 L678.50,140.75 L679.00,140.51 L679.00,158.57 L678.50,158.12 L678.00,157.73 L677.50,157.40 L677.00,157.14 L676.50,156.95 L676.00,156.84 L675.50,156.80 L675.00,156.84 L674.50,156.95 L674.00,157.14 L673.50,157.40 L673.00,157.73 L672.50,158.12 L672.00,158.57 L671.50,159.07 L671.00,159.63 L670.50,160.22 L670.00,160.84 L669.50,161.49 L669.00,162.16 L668.50,162.83 L668.00,163.51 L667.50,164.17 L667.00,164.82 L666.50,165.44 L666.00,166.03 L665.50,166.58 L665.00,167.08 L664.50,167.52 L664.00,167.91 L663.50,168.23 L663.00,168.48 L662.50,168.66 L662.00,168.77 L661.50,168.80 L661.00,168.75 L660.50,168.63 L660.00,168.44 L659.50,168.17 L659.00,167.84 L658.50,167.44 L658.00,166.98 L657.50,166.47 L657.00,165.92 L656.50,165.32 L656.00,164.69 L655.50,164.04 L655.00,163.37 L654.50,162.70 L654.00,162.03 L653.50,161.36 L653.00,160.72 L652.50,160.10 L652.00,159.51 L651.50,158.97 L651.00,158.47 L650.50,158.03 L650.00,157.66 L649.50,157.34 L649.00,157.10 L648.50,156.92 L648.00,156.82 L647.50,156.80 L647.00,156.85 L646.50,156.98 L646.00,157.19 L645.50,157.46 L645.00,157.80 L644.50,158.20 L644.00,158.67 L643.50,159.18 L643.00,159.74 L642.50,160.34 L642.00,160.97 L641.50,161.63 L641.00,162.29 L640.50,162.97 L640.00,163.64 L639.50,164.30 L639.00,164.95 L638.50,165.56 L638.00,166.14 L637.50,166.68 L637.00,167.17 L636.50,167.61 L636.00,167.98 L635.50,168.29 L635.00,168.52 L634.50,168.69 L634.00,168.78 L633.50,168.80 L633.00,168.74 L632.50,168.60 L632.00,168.39 L631.50,168.11 L631.00,167.76 L630.50,167.35 L630.00,166.88 L629.50,166.36 L629.00,165.80 L628.50,165.20 L628.00,164.56 L627.50,163.91 L627.00,163.24 L626.50,162.56 L626.00,161.89 L625.50,161.23 L625.00,160.59 L624.50,159.98 L624.00,159.40 L623.50,158.87 L623.00,158.38 L622.50,157.95 L622.00,157.59 L621.50,157.29 L621.00,157.06 L620.50,156.90 L620.00,156.81 L619.50,156.81 L619.00,156.87 L618.50,157.02 L618.00,157.23 L617.50,157.52 L617.00,157.88 L616.50,158.29 L616.00,158.77 L615.50,159.29 L615.00,159.86 L614.50,160.46 L614.00,161.10 L613.50,161.76 L613.00,162.43 L612.50,163.10 L612.00,163.78 L611.50,164.43 L611.00,165.07 L610.50,165.68 L610.00,166.26 L609.50,166.78 L609.00,167.26 L608.50,167.69 L608.00,168.05 L607.50,168.34 L607.00,168.56 L606.50,168.71 L606.00,168.79 L605.50,168.79 L605.00,168.71 L604.50,168.56 L604.00,168.34 L603.50,168.05 L603.00,167.69 L602.50,167.26 L602.00,166.78 L601.50,166.26 L601.00,165.68 L600.50,165.07 L600.00,164.43 L599.50,163.78 L599.00,163.10 L598.50,162.43 L598.00,161.76 L597.50,161.10 L597.00,160.46 L596.50,159.86 L596.00,159.29 L595.50,158.77 L595.00,158.29 L594.50,157.88 L594.00,157.52 L593.50,157.23 L593.00,157.02 L592.50,156.87 L592.00,156.81 L591.50,156.81 L591.00,156.90 L590.50,157.06 L590.00,157.29 L589.50,157.59 L589.00,157.95 L588.50,158.38 L588.00,158.87 L587.50,159.40 L587.00,159.98 L586.50,160.59 L586.00,161.23 L585.50,161.89 L585.00,162.56 L584.50,163.24 L584.00,163.91 L583.50,164.56 L583.00,165.20 L582.50,165.80 L582.00,166.36 L581.50,166.88 L581.00,167.35 L580.50,167.76 L580.00,168.11 L579.50,168.39 L579.00,168.60 L578.50,168.74 L578.00,168.80 L577.50,168.78 L577.00,168.69 L576.50,168.52 L576.00,168.29 L575.50,167.98 L575.00,167.61 L574.50,167.17 L574.00,166.68 L573.50,166.14 L573.00,165.56 L572.50,164.95 L572.00,164.30 L571.50,163.64 L571.00,162.97 L570.50,162.29 L570.00,161.63 L569.50,160.97 L569.00,160.34 L568.50,159.74 L568.00,159.18 L567.50,158.67 L567.00,158.20 L566.50,157.80 L566.00,157.46 L565.50,157.19 L565.00,156.98 L564.50,156.85 L564.00,156.80 L563.50,156.82 L563.00,156.92 L562.50,157.10 L562.00,157.34 L561.50,157.66 L561.00,158.03 Z" fill="#2c2c2c"/>
<path d="M561.00,159.53 L561.50,159.16 L562.00,158.84 L562.50,158.60 L563.00,158.42 L563.50,158.32 L564.00,158.30 L564.50,158.35 L565.00,158.48 L565.50,158.69 L566.00,158.96 L566.50,159.30 L567.00,159.70 L567.50,160.17 L568.00,160.68 L568.50,161.24 L569.00,161.84 L569.50,162.47 L570.00,163.13 L570.50,163.79 L571.00,164.47 L571.50,165.14 L572.00,165.80 L572.50,166.45 L573.00,167.06 L573.50,167.64 L574.00,168.18 L574.50,168.67 L575.00,169.11 L575.50,169.48 L576.00,169.79 L576.50,170.02 L577.00,170.19 L577.50,170.28 L578.00,170.30 L578.50,170.24 L579.00,170.10 L579.50,169.89 L580.00,169.61 L580.50,169.26 L581.00,168.85 L581.50,168.38 L582.00,167.86 L582.50,167.30 L583.00,166.70 L583.50,166.06 L584.00,165.41 L584.50,164.74 L585.00,164.06 L585.50,163.39 L586.00,162.73 L586.50,162.09 L587.00,161.48 L587.50,160.90 L588.00,160.37 L588.50,159.88 L589.00,159.45 L589.50,159.09 L590.00,158.79 L590.50,158.56 L591.00,158.40 L591.50,158.31 L592.00,158.31 L592.50,158.37 L593.00,158.52 L593.50,158.73 L594.00,159.02 L594.50,159.38 L595.00,159.79 L595.50,160.27 L596.00,160.79 L596.50,161.36 L597.00,161.96 L597.50,162.60 L598.00,163.26 L598.50,163.93 L599.00,164.60 L599.50,165.28 L600.00,165.93 L600.50,166.57 L601.00,167.18 L601.50,167.76 L602.00,168.28 L602.50,168.76 L603.00,169.19 L603.50,169.55 L604.00,169.84 L604.50,170.06 L605.00,170.21 L605.50,170.29 L606.00,170.29 L606.50,170.21 L607.00,170.06 L607.50,169.84 L608.00,169.55 L608.50,169.19 L609.00,168.76 L609.50,168.28 L610.00,167.76 L610.50,167.18 L611.00,166.57 L611.50,165.93 L612.00,165.28 L612.50,164.60 L613.00,163.93 L613.50,163.26 L614.00,162.60 L614.50,161.96 L615.00,161.36 L615.50,160.79 L616.00,160.27 L616.50,159.79 L617.00,159.38 L617.50,159.02 L618.00,158.73 L618.50,158.52 L619.00,158.37 L619.50,158.31 L620.00,158.31 L620.50,158.40 L621.00,158.56 L621.50,158.79 L622.00,159.09 L622.50,159.45 L623.00,159.88 L623.50,160.37 L624.00,160.90 L624.50,161.48 L625.00,162.09 L625.50,162.73 L626.00,163.39 L626.50,164.06 L627.00,164.74 L627.50,165.41 L628.00,166.06 L628.50,166.70 L629.00,167.30 L629.50,167.86 L630.00,168.38 L630.50,168.85 L631.00,169.26 L631.50,169.61 L632.00,169.89 L632.50,170.10 L633.00,170.24 L633.50,170.30 L634.00,170.28 L634.50,170.19 L635.00,170.02 L635.50,169.79 L636.00,169.48 L636.50,169.11 L637.00,168.67 L637.50,168.18 L638.00,167.64 L638.50,167.06 L639.00,166.45 L639.50,165.80 L640.00,165.14 L640.50,164.47 L641.00,163.79 L641.50,163.13 L642.00,162.47 L642.50,161.84 L643.00,161.24 L643.50,160.68 L644.00,160.17 L644.50,159.70 L645.00,159.30 L645.50,158.96 L646.00,158.69 L646.50,158.48 L647.00,158.35 L647.50,158.30 L648.00,158.32 L648.50,158.42 L649.00,158.60 L649.50,158.84 L650.00,159.16 L650.50,159.53 L651.00,159.97 L651.50,160.47 L652.00,161.01 L652.50,161.60 L653.00,162.22 L653.50,162.86 L654.00,163.53 L654.50,164.20 L655.00,164.87 L655.50,165.54 L656.00,166.19 L656.50,166.82 L657.00,167.42 L657.50,167.97 L658.00,168.48 L658.50,168.94 L659.00,169.34 L659.50,169.67 L660.00,169.94 L660.50,170.13 L661.00,170.25 L661.50,170.30 L662.00,170.27 L662.50,170.16 L663.00,169.98 L663.50,169.73 L664.00,169.41 L664.50,169.02 L665.00,168.58 L665.50,168.08 L666.00,167.53 L666.50,166.94 L667.00,166.32 L667.50,165.67 L668.00,165.01 L668.50,164.33 L669.00,163.66 L669.50,162.99 L670.00,162.34 L670.50,161.72 L671.00,161.13 L671.50,160.57 L672.00,160.07 L672.50,159.62 L673.00,159.23 L673.50,158.90 L674.00,158.64 L674.50,158.45 L675.00,158.34 L675.50,158.30 L676.00,158.34 L676.50,158.45 L677.00,158.64 L677.50,158.90 L678.00,159.23 L678.50,159.62 L679.00,160.07 L679.00,177.69 L678.50,177.42 L678.00,177.18 L677.50,176.97 L677.00,176.80 L676.50,176.66 L676.00,176.57 L675.50,176.51 L675.00,176.50 L674.50,176.53 L674.00,176.60 L673.50,176.71 L673.00,176.86 L672.50,177.05 L672.00,177.27 L671.50,177.53 L671.00,177.81 L670.50,178.12 L670.00,178.45 L669.50,178.79 L669.00,179.15 L668.50,179.52 L668.00,179.89 L667.50,180.26 L667.00,180.63 L666.50,180.98 L666.00,181.32 L665.50,181.64 L665.00,181.94 L664.50,182.20 L664.00,182.44 L663.50,182.65 L663.00,182.82 L662.50,182.95 L662.00,183.04 L661.50,183.09 L661.00,183.10 L660.50,183.06 L660.00,182.99 L659.50,182.87 L659.00,182.72 L658.50,182.53 L658.00,182.30 L657.50,182.05 L657.00,181.76 L656.50,181.45 L656.00,181.12 L655.50,180.77 L655.00,180.41 L654.50,180.04 L654.00,179.67 L653.50,179.30 L653.00,178.94 L652.50,178.58 L652.00,178.25 L651.50,177.93 L651.00,177.64 L650.50,177.37 L650.00,177.13 L649.50,176.93 L649.00,176.77 L648.50,176.64 L648.00,176.55 L647.50,176.51 L647.00,176.50 L646.50,176.54 L646.00,176.62 L645.50,176.74 L645.00,176.90 L644.50,177.09 L644.00,177.32 L643.50,177.58 L643.00,177.87 L642.50,178.18 L642.00,178.52 L641.50,178.87 L641.00,179.23 L640.50,179.60 L640.00,179.97 L639.50,180.34 L639.00,180.70 L638.50,181.05 L638.00,181.39 L637.50,181.70 L637.00,181.99 L636.50,182.25 L636.00,182.49 L635.50,182.69 L635.00,182.85 L634.50,182.97 L634.00,183.05 L633.50,183.09 L633.00,183.09 L632.50,183.05 L632.00,182.97 L631.50,182.85 L631.00,182.69 L630.50,182.49 L630.00,182.25 L629.50,181.99 L629.00,181.70 L628.50,181.39 L628.00,181.05 L627.50,180.70 L627.00,180.34 L626.50,179.97 L626.00,179.60 L625.50,179.23 L625.00,178.87 L624.50,178.52 L624.00,178.18 L623.50,177.87 L623.00,177.58 L622.50,177.32 L622.00,177.09 L621.50,176.90 L621.00,176.74 L620.50,176.62 L620.00,176.54 L619.50,176.50 L619.00,176.51 L618.50,176.55 L618.00,176.64 L617.50,176.77 L617.00,176.93 L616.50,177.13 L616.00,177.37 L615.50,177.64 L615.00,177.93 L614.50,178.25 L614.00,178.58 L613.50,178.94 L613.00,179.30 L612.50,179.67 L612.00,180.04 L611.50,180.41 L611.00,180.77 L610.50,181.12 L610.00,181.45 L609.50,181.76 L609.00,182.05 L608.50,182.30 L608.00,182.53 L607.50,182.72 L607.00,182.87 L606.50,182.99 L606.00,183.06 L605.50,183.10 L605.00,183.09 L604.50,183.04 L604.00,182.95 L603.50,182.82 L603.00,182.65 L602.50,182.44 L602.00,182.20 L601.50,181.94 L601.00,181.64 L600.50,181.32 L600.00,180.98 L599.50,180.63 L599.00,180.26 L598.50,179.89 L598.00,179.52 L597.50,179.15 L597.00,178.79 L596.50,178.45 L596.00,178.12 L595.50,177.81 L595.00,177.53 L594.50,177.27 L594.00,177.05 L593.50,176.86 L593.00,176.71 L592.50,176.60 L592.00,176.53 L591.50,176.50 L591.00,176.51 L590.50,176.57 L590.00,176.66 L589.50,176.80 L589.00,176.97 L588.50,177.18 L588.00,177.42 L587.50,177.69 L587.00,177.99 L586.50,178.31 L586.00,178.65 L585.50,179.01 L585.00,179.37 L584.50,179.74 L584.00,180.12 L583.50,180.48 L583.00,180.84 L582.50,181.19 L582.00,181.51 L581.50,181.82 L581.00,182.10 L580.50,182.35 L580.00,182.57 L579.50,182.75 L579.00,182.90 L578.50,183.01 L578.00,183.07 L577.50,183.10 L577.00,183.08 L576.50,183.02 L576.00,182.93 L575.50,182.79 L575.00,182.61 L574.50,182.40 L574.00,182.15 L573.50,181.88 L573.00,181.58 L572.50,181.25 L572.00,180.91 L571.50,180.56 L571.00,180.19 L570.50,179.82 L570.00,179.45 L569.50,179.08 L569.00,178.72 L568.50,178.38 L568.00,178.05 L567.50,177.75 L567.00,177.47 L566.50,177.22 L566.00,177.01 L565.50,176.83 L565.00,176.69 L564.50,176.58 L564.00,176.52 L563.50,176.50 L563.00,176.52 L562.50,176.58 L562.00,176.69 L561.50,176.83 L561.00,177.01 Z" fill="#4c4c4c"/>
<path d="M561.00,177.01 L561.50,176.83 L562.00,176.69 L562.50,176.58 L563.00,176.52 L563.50,176.50 L564.00,176.52 L564.50,176.58 L565.00,176.69 L565.50,176.83 L566.00,177.01 L566.50,177.22 L567.00,177.47 L567.50,177.75 L568.00,178.05 L568.50,178.38 L569.00,178.72 L569.50,179.08 L570.00,179.45 L570.50,179.82 L571.00,180.19 L571.50,180.56 L572.00,180.91 L572.50,181.25 L573.00,181.58 L573.50,181.88 L574.00,182.15 L574.50,182.40 L575.00,182.61 L575.50,182.79 L576.00,182.93 L576.50,183.02 L577.00,183.08 L577.50,183.10 L578.00,183.07 L578.50,183.01 L579.00,182.90 L579.50,182.75 L580.00,182.57 L580.50,182.35 L581.00,182.10 L581.50,181.82 L582.00,181.51 L582.50,181.19 L583.00,180.84 L583.50,180.48 L584.00,180.12 L584.50,179.74 L585.00,179.37 L585.50,179.01 L586.00,178.65 L586.50,178.31 L587.00,177.99 L587.50,177.69 L588.00,177.42 L588.50,177.18 L589.00,176.97 L589.50,176.80 L590.00,176.66 L590.50,176.57 L591.00,176.51 L591.50,176.50 L592.00,176.53 L592.50,176.60 L593.00,176.71 L593.50,176.86 L594.00,177.05 L594.50,177.27 L595.00,177.53 L595.50,177.81 L596.00,178.12 L596.50,178.45 L597.00,178.79 L597.50,179.15 L598.00,179.52 L598.50,179.89 L599.00,180.26 L599.50,180.63 L600.00,180.98 L600.50,181.32 L601.00,181.64 L601.50,181.94 L602.00,182.20 L602.50,182.44 L603.00,182.65 L603.50,182.82 L604.00,182.95 L604.50,183.04 L605.00,183.09 L605.50,183.10 L606.00,183.06 L606.50,182.99 L607.00,182.87 L607.50,182.72 L608.00,182.53 L608.50,182.30 L609.00,182.05 L609.50,181.76 L610.00,181.45 L610.50,181.12 L611.00,180.77 L611.50,180.41 L612.00,180.04 L612.50,179.67 L613.00,179.30 L613.50,178.94 L614.00,178.58 L614.50,178.25 L615.00,177.93 L615.50,177.64 L616.00,177.37 L616.50,177.13 L617.00,176.93 L617.50,176.77 L618.00,176.64 L618.50,176.55 L619.00,176.51 L619.50,176.50 L620.00,176.54 L620.50,176.62 L621.00,176.74 L621.50,176.90 L622.00,177.09 L622.50,177.32 L623.00,177.58 L623.50,177.87 L624.00,178.18 L624.50,178.52 L625.00,178.87 L625.50,179.23 L626.00,179.60 L626.50,179.97 L627.00,180.34 L627.50,180.70 L628.00,181.05 L628.50,181.39 L629.00,181.70 L629.50,181.99 L630.00,182.25 L630.50,182.49 L631.00,182.69 L631.50,182.85 L632.00,182.97 L632.50,183.05 L633.00,183.09 L633.50,183.09 L634.00,183.05 L634.50,182.97 L635.00,182.85 L635.50,182.69 L636.00,182.49 L636.50,182.25 L637.00,181.99 L637.50,181.70 L638.00,181.39 L638.50,181.05 L639.00,180.70 L639.50,180.34 L640.00,179.97 L640.50,179.60 L641.00,179.23 L641.50,178.87 L642.00,178.52 L642.50,178.18 L643.00,177.87 L643.50,177.58 L644.00,177.32 L644.50,177.09 L645.00,176.90 L645.50,176.74 L646.00,176.62 L646.50,176.54 L647.00,176.50 L647.50,176.51 L648.00,176.55 L648.50,176.64 L649.00,176.77 L649.50,176.93 L650.00,177.13 L650.50,177.37 L651.00,177.64 L651.50,177.93 L652.00,178.25 L652.50,178.58 L653.00,178.94 L653.50,179.30 L654.00,179.67 L654.50,180.04 L655.00,180.41 L655.50,180.77 L656.00,181.12 L656.50,181.45 L657.00,181.76 L657.50,182.05 L658.00,182.30 L658.50,182.53 L659.00,182.72 L659.50,182.87 L660.00,182.99 L660.50,183.06 L661.00,183.10 L661.50,183.09 L662.00,183.04 L662.50,182.95 L663.00,182.82 L663.50,182.65 L664.00,182.44 L664.50,182.20 L665.00,181.94 L665.50,181.64 L666.00,181.32 L666.50,180.98 L667.00,180.63 L667.50,180.26 L668.00,179.89 L668.50,179.52 L669.00,179.15 L669.50,178.79 L670.00,178.45 L670.50,178.12 L671.00,177.81 L671.50,177.53 L672.00,177.27 L672.50,177.05 L673.00,176.86 L673.50,176.71 L674.00,176.60 L674.50,176.53 L675.00,176.50 L675.50,176.51 L676.00,176.57 L676.50,176.66 L677.00,176.80 L677.50,176.97 L678.00,177.18 L678.50,177.42 L679.00,177.69 L679.4,194.0 L561.0,194.0 Z" fill="#d8d8d8"/>
<path d="M561.00,160.00 L563.00,144.00 L567.00,144.00 L569.00,160.00 Z" fill="#7a7a7a" opacity="0.6" filter="url(#bl15)"/>
<path d="M589.10,160.00 L591.10,144.00 L595.10,144.00 L597.10,160.00 Z" fill="#7a7a7a" opacity="0.6" filter="url(#bl15)"/>
<path d="M617.20,160.00 L619.20,144.00 L623.20,144.00 L625.20,160.00 Z" fill="#7a7a7a" opacity="0.6" filter="url(#bl15)"/>
<path d="M645.30,160.00 L647.30,144.00 L651.30,144.00 L653.30,160.00 Z" fill="#7a7a7a" opacity="0.6" filter="url(#bl15)"/>
<path d="M673.40,160.00 L675.40,144.00 L679.40,144.00 L681.40,160.00 Z" fill="#7a7a7a" opacity="0.6" filter="url(#bl15)"/>
<rect x="563.0" y="120.0" width="114.39999999999998" height="72.0" filter="url(#nz1)" style="mix-blend-mode:overlay" opacity="0.5"/>
<rect x="563.0" y="120.0" width="114.39999999999998" height="72.0" filter="url(#hz)" opacity="0.25" clip-path="url(#ec4a)"/>
<path d="M561.00,177.01 L561.50,176.83 L562.00,176.69 L562.50,176.58 L563.00,176.52 L563.50,176.50 L564.00,176.52 L564.50,176.58 L565.00,176.69 L565.50,176.83 L566.00,177.01 L566.50,177.22 L567.00,177.47 L567.50,177.75 L568.00,178.05 L568.50,178.38 L569.00,178.72 L569.50,179.08 L570.00,179.45 L570.50,179.82 L571.00,180.19 L571.50,180.56 L572.00,180.91 L572.50,181.25 L573.00,181.58 L573.50,181.88 L574.00,182.15 L574.50,182.40 L575.00,182.61 L575.50,182.79 L576.00,182.93 L576.50,183.02 L577.00,183.08 L577.50,183.10 L578.00,183.07 L578.50,183.01 L579.00,182.90 L579.50,182.75 L580.00,182.57 L580.50,182.35 L581.00,182.10 L581.50,181.82 L582.00,181.51 L582.50,181.19 L583.00,180.84 L583.50,180.48 L584.00,180.12 L584.50,179.74 L585.00,179.37 L585.50,179.01 L586.00,178.65 L586.50,178.31 L587.00,177.99 L587.50,177.69 L588.00,177.42 L588.50,177.18 L589.00,176.97 L589.50,176.80 L590.00,176.66 L590.50,176.57 L591.00,176.51 L591.50,176.50 L592.00,176.53 L592.50,176.60 L593.00,176.71 L593.50,176.86 L594.00,177.05 L594.50,177.27 L595.00,177.53 L595.50,177.81 L596.00,178.12 L596.50,178.45 L597.00,178.79 L597.50,179.15 L598.00,179.52 L598.50,179.89 L599.00,180.26 L599.50,180.63 L600.00,180.98 L600.50,181.32 L601.00,181.64 L601.50,181.94 L602.00,182.20 L602.50,182.44 L603.00,182.65 L603.50,182.82 L604.00,182.95 L604.50,183.04 L605.00,183.09 L605.50,183.10 L606.00,183.06 L606.50,182.99 L607.00,182.87 L607.50,182.72 L608.00,182.53 L608.50,182.30 L609.00,182.05 L609.50,181.76 L610.00,181.45 L610.50,181.12 L611.00,180.77 L611.50,180.41 L612.00,180.04 L612.50,179.67 L613.00,179.30 L613.50,178.94 L614.00,178.58 L614.50,178.25 L615.00,177.93 L615.50,177.64 L616.00,177.37 L616.50,177.13 L617.00,176.93 L617.50,176.77 L618.00,176.64 L618.50,176.55 L619.00,176.51 L619.50,176.50 L620.00,176.54 L620.50,176.62 L621.00,176.74 L621.50,176.90 L622.00,177.09 L622.50,177.32 L623.00,177.58 L623.50,177.87 L624.00,178.18 L624.50,178.52 L625.00,178.87 L625.50,179.23 L626.00,179.60 L626.50,179.97 L627.00,180.34 L627.50,180.70 L628.00,181.05 L628.50,181.39 L629.00,181.70 L629.50,181.99 L630.00,182.25 L630.50,182.49 L631.00,182.69 L631.50,182.85 L632.00,182.97 L632.50,183.05 L633.00,183.09 L633.50,183.09 L634.00,183.05 L634.50,182.97 L635.00,182.85 L635.50,182.69 L636.00,182.49 L636.50,182.25 L637.00,181.99 L637.50,181.70 L638.00,181.39 L638.50,181.05 L639.00,180.70 L639.50,180.34 L640.00,179.97 L640.50,179.60 L641.00,179.23 L641.50,178.87 L642.00,178.52 L642.50,178.18 L643.00,177.87 L643.50,177.58 L644.00,177.32 L644.50,177.09 L645.00,176.90 L645.50,176.74 L646.00,176.62 L646.50,176.54 L647.00,176.50 L647.50,176.51 L648.00,176.55 L648.50,176.64 L649.00,176.77 L649.50,176.93 L650.00,177.13 L650.50,177.37 L651.00,177.64 L651.50,177.93 L652.00,178.25 L652.50,178.58 L653.00,178.94 L653.50,179.30 L654.00,179.67 L654.50,180.04 L655.00,180.41 L655.50,180.77 L656.00,181.12 L656.50,181.45 L657.00,181.76 L657.50,182.05 L658.00,182.30 L658.50,182.53 L659.00,182.72 L659.50,182.87 L660.00,182.99 L660.50,183.06 L661.00,183.10 L661.50,183.09 L662.00,183.04 L662.50,182.95 L663.00,182.82 L663.50,182.65 L664.00,182.44 L664.50,182.20 L665.00,181.94 L665.50,181.64 L666.00,181.32 L666.50,180.98 L667.00,180.63 L667.50,180.26 L668.00,179.89 L668.50,179.52 L669.00,179.15 L669.50,178.79 L670.00,178.45 L670.50,178.12 L671.00,177.81 L671.50,177.53 L672.00,177.27 L672.50,177.05 L673.00,176.86 L673.50,176.71 L674.00,176.60 L674.50,176.53 L675.00,176.50 L675.50,176.51 L676.00,176.57 L676.50,176.66 L677.00,176.80 L677.50,176.97 L678.00,177.18 L678.50,177.42 L679.00,177.69 L679.4,194.0 L561.0,194.0 Z" fill="#fff" opacity="0.5"/>
<path d="M561.00,138.43 L561.50,138.87 L562.00,139.35 L562.50,139.92 L563.00,140.27 L563.50,140.56 L564.00,140.78 L564.50,140.92 L565.00,141.01 L565.50,140.92 L566.00,140.78 L566.50,140.56 L567.00,140.27 L567.50,139.92 L568.00,139.35 L568.50,138.87 L569.00,138.43 L569.50,138.03 L570.00,137.65 L570.50,137.29 L571.00,136.96 L571.50,136.65 L572.00,136.36 L572.50,136.09 L573.00,135.84 L573.50,135.61 L574.00,135.40 L574.50,135.22 L575.00,135.05 L575.50,134.90 L576.00,134.77 L576.50,134.66 L577.00,134.57 L577.50,134.50 L578.00,134.45 L578.50,134.41 L579.00,134.40 L579.50,134.41 L580.00,134.44 L580.50,134.49 L581.00,134.55 L581.50,134.64 L582.00,134.74 L582.50,134.87 L583.00,135.02 L583.50,135.18 L584.00,135.37 L584.50,135.57 L585.00,135.79 L585.50,136.04 L586.00,136.30 L586.50,136.59 L587.00,136.89 L587.50,137.22 L588.00,137.57 L588.50,137.95 L589.00,138.35 L589.50,138.78 L590.00,139.25 L590.50,139.78 L591.00,140.19 L591.50,140.51 L592.00,140.75 L592.50,140.93 L593.00,140.97 L593.50,140.92 L594.00,140.81 L594.50,140.62 L595.00,140.37 L595.50,139.97 L596.00,139.46 L596.50,138.97 L597.00,138.52 L597.50,138.11 L598.00,137.72 L598.50,137.36 L599.00,137.02 L599.50,136.71 L600.00,136.41 L600.50,136.14 L601.00,135.89 L601.50,135.66 L602.00,135.44 L602.50,135.25 L603.00,135.08 L603.50,134.93 L604.00,134.79 L604.50,134.68 L605.00,134.58 L605.50,134.51 L606.00,134.45 L606.50,134.42 L607.00,134.40 L607.50,134.41 L608.00,134.43 L608.50,134.47 L609.00,134.54 L609.50,134.62 L610.00,134.72 L610.50,134.84 L611.00,134.98 L611.50,135.15 L612.00,135.33 L612.50,135.53 L613.00,135.75 L613.50,135.99 L614.00,136.25 L614.50,136.53 L615.00,136.83 L615.50,137.15 L616.00,137.50 L616.50,137.87 L617.00,138.27 L617.50,138.69 L618.00,139.16 L618.50,139.67 L619.00,140.11 L619.50,140.46 L620.00,140.74 L620.50,140.89 L621.00,140.94 L621.50,140.93 L622.00,140.85 L622.50,140.69 L623.00,140.42 L623.50,140.03 L624.00,139.56 L624.50,139.06 L625.00,138.61 L625.50,138.19 L626.00,137.79 L626.50,137.43 L627.00,137.09 L627.50,136.77 L628.00,136.47 L628.50,136.19 L629.00,135.94 L629.50,135.70 L630.00,135.49 L630.50,135.29 L631.00,135.11 L631.50,134.96 L632.00,134.82 L632.50,134.70 L633.00,134.60 L633.50,134.52 L634.00,134.46 L634.50,134.42 L635.00,134.40 L635.50,134.40 L636.00,134.42 L636.50,134.46 L637.00,134.52 L637.50,134.60 L638.00,134.70 L638.50,134.82 L639.00,134.96 L639.50,135.11 L640.00,135.29 L640.50,135.49 L641.00,135.70 L641.50,135.94 L642.00,136.19 L642.50,136.47 L643.00,136.77 L643.50,137.09 L644.00,137.43 L644.50,137.79 L645.00,138.19 L645.50,138.61 L646.00,139.06 L646.50,139.56 L647.00,140.03 L647.50,140.42 L648.00,140.69 L648.50,140.85 L649.00,140.93 L649.50,140.94 L650.00,140.89 L650.50,140.74 L651.00,140.46 L651.50,140.11 L652.00,139.67 L652.50,139.16 L653.00,138.69 L653.50,138.27 L654.00,137.87 L654.50,137.50 L655.00,137.15 L655.50,136.83 L656.00,136.53 L656.50,136.25 L657.00,135.99 L657.50,135.75 L658.00,135.53 L658.50,135.33 L659.00,135.15 L659.50,134.98 L660.00,134.84 L660.50,134.72 L661.00,134.62 L661.50,134.54 L662.00,134.47 L662.50,134.43 L663.00,134.41 L663.50,134.40 L664.00,134.42 L664.50,134.45 L665.00,134.51 L665.50,134.58 L666.00,134.68 L666.50,134.79 L667.00,134.93 L667.50,135.08 L668.00,135.25 L668.50,135.44 L669.00,135.66 L669.50,135.89 L670.00,136.14 L670.50,136.41 L671.00,136.71 L671.50,137.02 L672.00,137.36 L672.50,137.72 L673.00,138.11 L673.50,138.52 L674.00,138.97 L674.50,139.46 L675.00,139.97 L675.50,140.37 L676.00,140.62 L676.50,140.81 L677.00,140.92 L677.50,140.97 L678.00,140.93 L678.50,140.75 L679.00,140.51" stroke="#2b9be0" stroke-width="1.5" fill="none"/>
<path d="M561.00,159.53 L561.50,159.16 L562.00,158.84 L562.50,158.60 L563.00,158.42 L563.50,158.32 L564.00,158.30 L564.50,158.35 L565.00,158.48 L565.50,158.69 L566.00,158.96 L566.50,159.30 L567.00,159.70 L567.50,160.17 L568.00,160.68 L568.50,161.24 L569.00,161.84 L569.50,162.47 L570.00,163.13 L570.50,163.79 L571.00,164.47 L571.50,165.14 L572.00,165.80 L572.50,166.45 L573.00,167.06 L573.50,167.64 L574.00,168.18 L574.50,168.67 L575.00,169.11 L575.50,169.48 L576.00,169.79 L576.50,170.02 L577.00,170.19 L577.50,170.28 L578.00,170.30 L578.50,170.24 L579.00,170.10 L579.50,169.89 L580.00,169.61 L580.50,169.26 L581.00,168.85 L581.50,168.38 L582.00,167.86 L582.50,167.30 L583.00,166.70 L583.50,166.06 L584.00,165.41 L584.50,164.74 L585.00,164.06 L585.50,163.39 L586.00,162.73 L586.50,162.09 L587.00,161.48 L587.50,160.90 L588.00,160.37 L588.50,159.88 L589.00,159.45 L589.50,159.09 L590.00,158.79 L590.50,158.56 L591.00,158.40 L591.50,158.31 L592.00,158.31 L592.50,158.37 L593.00,158.52 L593.50,158.73 L594.00,159.02 L594.50,159.38 L595.00,159.79 L595.50,160.27 L596.00,160.79 L596.50,161.36 L597.00,161.96 L597.50,162.60 L598.00,163.26 L598.50,163.93 L599.00,164.60 L599.50,165.28 L600.00,165.93 L600.50,166.57 L601.00,167.18 L601.50,167.76 L602.00,168.28 L602.50,168.76 L603.00,169.19 L603.50,169.55 L604.00,169.84 L604.50,170.06 L605.00,170.21 L605.50,170.29 L606.00,170.29 L606.50,170.21 L607.00,170.06 L607.50,169.84 L608.00,169.55 L608.50,169.19 L609.00,168.76 L609.50,168.28 L610.00,167.76 L610.50,167.18 L611.00,166.57 L611.50,165.93 L612.00,165.28 L612.50,164.60 L613.00,163.93 L613.50,163.26 L614.00,162.60 L614.50,161.96 L615.00,161.36 L615.50,160.79 L616.00,160.27 L616.50,159.79 L617.00,159.38 L617.50,159.02 L618.00,158.73 L618.50,158.52 L619.00,158.37 L619.50,158.31 L620.00,158.31 L620.50,158.40 L621.00,158.56 L621.50,158.79 L622.00,159.09 L622.50,159.45 L623.00,159.88 L623.50,160.37 L624.00,160.90 L624.50,161.48 L625.00,162.09 L625.50,162.73 L626.00,163.39 L626.50,164.06 L627.00,164.74 L627.50,165.41 L628.00,166.06 L628.50,166.70 L629.00,167.30 L629.50,167.86 L630.00,168.38 L630.50,168.85 L631.00,169.26 L631.50,169.61 L632.00,169.89 L632.50,170.10 L633.00,170.24 L633.50,170.30 L634.00,170.28 L634.50,170.19 L635.00,170.02 L635.50,169.79 L636.00,169.48 L636.50,169.11 L637.00,168.67 L637.50,168.18 L638.00,167.64 L638.50,167.06 L639.00,166.45 L639.50,165.80 L640.00,165.14 L640.50,164.47 L641.00,163.79 L641.50,163.13 L642.00,162.47 L642.50,161.84 L643.00,161.24 L643.50,160.68 L644.00,160.17 L644.50,159.70 L645.00,159.30 L645.50,158.96 L646.00,158.69 L646.50,158.48 L647.00,158.35 L647.50,158.30 L648.00,158.32 L648.50,158.42 L649.00,158.60 L649.50,158.84 L650.00,159.16 L650.50,159.53 L651.00,159.97 L651.50,160.47 L652.00,161.01 L652.50,161.60 L653.00,162.22 L653.50,162.86 L654.00,163.53 L654.50,164.20 L655.00,164.87 L655.50,165.54 L656.00,166.19 L656.50,166.82 L657.00,167.42 L657.50,167.97 L658.00,168.48 L658.50,168.94 L659.00,169.34 L659.50,169.67 L660.00,169.94 L660.50,170.13 L661.00,170.25 L661.50,170.30 L662.00,170.27 L662.50,170.16 L663.00,169.98 L663.50,169.73 L664.00,169.41 L664.50,169.02 L665.00,168.58 L665.50,168.08 L666.00,167.53 L666.50,166.94 L667.00,166.32 L667.50,165.67 L668.00,165.01 L668.50,164.33 L669.00,163.66 L669.50,162.99 L670.00,162.34 L670.50,161.72 L671.00,161.13 L671.50,160.57 L672.00,160.07 L672.50,159.62 L673.00,159.23 L673.50,158.90 L674.00,158.64 L674.50,158.45 L675.00,158.34 L675.50,158.30 L676.00,158.34 L676.50,158.45 L677.00,158.64 L677.50,158.90 L678.00,159.23 L678.50,159.62 L679.00,160.07" stroke="#2b9be0" stroke-width="1.5" fill="none"/>
<path d="M561.00,177.01 L561.50,176.83 L562.00,176.69 L562.50,176.58 L563.00,176.52 L563.50,176.50 L564.00,176.52 L564.50,176.58 L565.00,176.69 L565.50,176.83 L566.00,177.01 L566.50,177.22 L567.00,177.47 L567.50,177.75 L568.00,178.05 L568.50,178.38 L569.00,178.72 L569.50,179.08 L570.00,179.45 L570.50,179.82 L571.00,180.19 L571.50,180.56 L572.00,180.91 L572.50,181.25 L573.00,181.58 L573.50,181.88 L574.00,182.15 L574.50,182.40 L575.00,182.61 L575.50,182.79 L576.00,182.93 L576.50,183.02 L577.00,183.08 L577.50,183.10 L578.00,183.07 L578.50,183.01 L579.00,182.90 L579.50,182.75 L580.00,182.57 L580.50,182.35 L581.00,182.10 L581.50,181.82 L582.00,181.51 L582.50,181.19 L583.00,180.84 L583.50,180.48 L584.00,180.12 L584.50,179.74 L585.00,179.37 L585.50,179.01 L586.00,178.65 L586.50,178.31 L587.00,177.99 L587.50,177.69 L588.00,177.42 L588.50,177.18 L589.00,176.97 L589.50,176.80 L590.00,176.66 L590.50,176.57 L591.00,176.51 L591.50,176.50 L592.00,176.53 L592.50,176.60 L593.00,176.71 L593.50,176.86 L594.00,177.05 L594.50,177.27 L595.00,177.53 L595.50,177.81 L596.00,178.12 L596.50,178.45 L597.00,178.79 L597.50,179.15 L598.00,179.52 L598.50,179.89 L599.00,180.26 L599.50,180.63 L600.00,180.98 L600.50,181.32 L601.00,181.64 L601.50,181.94 L602.00,182.20 L602.50,182.44 L603.00,182.65 L603.50,182.82 L604.00,182.95 L604.50,183.04 L605.00,183.09 L605.50,183.10 L606.00,183.06 L606.50,182.99 L607.00,182.87 L607.50,182.72 L608.00,182.53 L608.50,182.30 L609.00,182.05 L609.50,181.76 L610.00,181.45 L610.50,181.12 L611.00,180.77 L611.50,180.41 L612.00,180.04 L612.50,179.67 L613.00,179.30 L613.50,178.94 L614.00,178.58 L614.50,178.25 L615.00,177.93 L615.50,177.64 L616.00,177.37 L616.50,177.13 L617.00,176.93 L617.50,176.77 L618.00,176.64 L618.50,176.55 L619.00,176.51 L619.50,176.50 L620.00,176.54 L620.50,176.62 L621.00,176.74 L621.50,176.90 L622.00,177.09 L622.50,177.32 L623.00,177.58 L623.50,177.87 L624.00,178.18 L624.50,178.52 L625.00,178.87 L625.50,179.23 L626.00,179.60 L626.50,179.97 L627.00,180.34 L627.50,180.70 L628.00,181.05 L628.50,181.39 L629.00,181.70 L629.50,181.99 L630.00,182.25 L630.50,182.49 L631.00,182.69 L631.50,182.85 L632.00,182.97 L632.50,183.05 L633.00,183.09 L633.50,183.09 L634.00,183.05 L634.50,182.97 L635.00,182.85 L635.50,182.69 L636.00,182.49 L636.50,182.25 L637.00,181.99 L637.50,181.70 L638.00,181.39 L638.50,181.05 L639.00,180.70 L639.50,180.34 L640.00,179.97 L640.50,179.60 L641.00,179.23 L641.50,178.87 L642.00,178.52 L642.50,178.18 L643.00,177.87 L643.50,177.58 L644.00,177.32 L644.50,177.09 L645.00,176.90 L645.50,176.74 L646.00,176.62 L646.50,176.54 L647.00,176.50 L647.50,176.51 L648.00,176.55 L648.50,176.64 L649.00,176.77 L649.50,176.93 L650.00,177.13 L650.50,177.37 L651.00,177.64 L651.50,177.93 L652.00,178.25 L652.50,178.58 L653.00,178.94 L653.50,179.30 L654.00,179.67 L654.50,180.04 L655.00,180.41 L655.50,180.77 L656.00,181.12 L656.50,181.45 L657.00,181.76 L657.50,182.05 L658.00,182.30 L658.50,182.53 L659.00,182.72 L659.50,182.87 L660.00,182.99 L660.50,183.06 L661.00,183.10 L661.50,183.09 L662.00,183.04 L662.50,182.95 L663.00,182.82 L663.50,182.65 L664.00,182.44 L664.50,182.20 L665.00,181.94 L665.50,181.64 L666.00,181.32 L666.50,180.98 L667.00,180.63 L667.50,180.26 L668.00,179.89 L668.50,179.52 L669.00,179.15 L669.50,178.79 L670.00,178.45 L670.50,178.12 L671.00,177.81 L671.50,177.53 L672.00,177.27 L672.50,177.05 L673.00,176.86 L673.50,176.71 L674.00,176.60 L674.50,176.53 L675.00,176.50 L675.50,176.51 L676.00,176.57 L676.50,176.66 L677.00,176.80 L677.50,176.97 L678.00,177.18 L678.50,177.42 L679.00,177.69" stroke="#ea8a2a" stroke-width="1.5" fill="none"/>
<rect x="631.40" y="169.5" width="3.0" height="13.30" fill="#e0262a"/>
</g>
<line x1="655.4" y1="191" x2="640.5" y2="177.5" stroke="#e0262a" stroke-width="0.9"/>
<path d="M637.6,174.8 L642.9,176.3 L639.6,179.6 Z" fill="#e0262a"/>
<text x="642.20" y="205.90" font-size="10.6" font-weight="bold" stroke="#1a1a1a" stroke-width="0.25" text-anchor="start" fill="#1a1a1a">LVPWd</text>
<text x="356.60" y="240.80" font-size="13" font-weight="bold" text-anchor="start" fill="#000">f</text>
<text x="411.00" y="245.30" font-size="11.4" text-anchor="middle" fill="#222">Control</text>
<text x="488.20" y="245.30" font-size="11.4" text-anchor="middle" fill="#222">mTAC</text>
<text x="558.00" y="245.30" font-size="11.4" text-anchor="middle" fill="#222">HFD</text>
<text x="641.30" y="245.30" font-size="11.4" text-anchor="middle" fill="#222">HFD+mTAC</text>
<rect x="372.9" y="250.3" width="74.50" height="74.40" fill="#000"/>
<rect x="372.9" y="250.3" width="74.50" height="74.40" filter="url(#spk)" opacity="0.12"/>
<line x1="441.40" y1="252.3" x2="441.40" y2="303.90" stroke="#888" stroke-width="0.5" stroke-dasharray="0.6,1.4"/>
<rect x="443.40" y="256.90" width="2" height="0.9" fill="#777"/>
<rect x="443.40" y="267.90" width="2" height="0.9" fill="#777"/>
<rect x="443.40" y="278.90" width="2" height="0.9" fill="#777"/>
<rect x="443.40" y="290.90" width="2" height="0.9" fill="#777"/>
<rect x="443.40" y="302.90" width="2" height="0.9" fill="#777"/>
<line x1="372.9" y1="291.90" x2="440.40" y2="291.90" stroke="#ddd" stroke-width="1.3" opacity="0.85" filter="url(#bl04)"/>
<line x1="372.9" y1="303.90" x2="441.40" y2="303.90" stroke="#333" stroke-width="0.6"/>
<path d="M378.50,291.3 L380.90,268.20 L383.20,280.25 L386.30,276.60 L391.50,291.3 Z" fill="#aaa" opacity="0.35" filter="url(#bl06)"/>
<path d="M378.50,291.8 C380.50,284.30 386.50,282.30 391.50,291.8 Z" fill="#f0f0f0" opacity="0.9" filter="url(#bl04)"/>
<path d="M379.70,288.30 L381.50,265.20 L382.30,265.20 L383.70,286.30 Z" fill="#f8f8f8" filter="url(#bl04)"/>
<path d="M384.30,287.30 L386.10,275.60 L386.80,275.60 L388.80,287.30 Z" fill="#f0f0f0" filter="url(#bl04)"/>
<path d="M371.70,291.3 Q375.20,298.50 378.70,291.3 Z" fill="#e8e8e8" opacity="0.85" filter="url(#bl04)"/>
<path d="M398.50,291.3 L401.10,268.20 L403.40,280.25 L407.10,276.60 L412.50,291.3 Z" fill="#aaa" opacity="0.35" filter="url(#bl06)"/>
<path d="M398.50,291.8 C400.50,284.30 407.50,282.30 412.50,291.8 Z" fill="#f0f0f0" opacity="0.9" filter="url(#bl04)"/>
<path d="M399.90,288.30 L401.70,265.20 L402.50,265.20 L403.90,286.30 Z" fill="#f8f8f8" filter="url(#bl04)"/>
<path d="M405.10,287.30 L406.90,275.60 L407.60,275.60 L409.60,287.30 Z" fill="#f0f0f0" filter="url(#bl04)"/>
<path d="M391.90,291.3 Q395.40,298.50 398.90,291.3 Z" fill="#e8e8e8" opacity="0.85" filter="url(#bl04)"/>
<path d="M419.50,291.3 L422.00,268.20 L424.30,280.25 L427.30,276.60 L433.50,291.3 Z" fill="#aaa" opacity="0.35" filter="url(#bl06)"/>
<path d="M419.50,291.8 C421.50,284.30 428.50,282.30 433.50,291.8 Z" fill="#f0f0f0" opacity="0.9" filter="url(#bl04)"/>
<path d="M420.80,288.30 L422.60,265.20 L423.40,265.20 L424.80,286.30 Z" fill="#f8f8f8" filter="url(#bl04)"/>
<path d="M425.30,287.30 L427.10,275.60 L427.80,275.60 L429.80,287.30 Z" fill="#f0f0f0" filter="url(#bl04)"/>
<path d="M412.80,291.3 Q416.30,298.50 419.80,291.3 Z" fill="#e8e8e8" opacity="0.85" filter="url(#bl04)"/>
<path d="M433.60,291.3 Q437.10,298.50 440.60,291.3 Z" fill="#e8e8e8" opacity="0.85" filter="url(#bl04)"/>
<rect x="383.6" y="299.9" width="0.6" height="0.6" fill="#666"/>
<rect x="424.2" y="296.0" width="0.6" height="0.6" fill="#666"/>
<rect x="406.9" y="297.3" width="0.6" height="0.6" fill="#666"/>
<rect x="416.9" y="299.5" width="0.6" height="0.6" fill="#666"/>
<rect x="381.0" y="294.5" width="0.6" height="0.6" fill="#666"/>
<rect x="428.8" y="297.2" width="0.6" height="0.6" fill="#666"/>
<rect x="424.1" y="294.3" width="0.6" height="0.6" fill="#666"/>
<rect x="403.6" y="299.1" width="0.6" height="0.6" fill="#666"/>
<rect x="389.7" y="300.5" width="0.6" height="0.6" fill="#666"/>
<rect x="433.0" y="294.5" width="0.6" height="0.6" fill="#666"/>
<rect x="376.5" y="297.9" width="0.6" height="0.6" fill="#666"/>
<rect x="435.5" y="296.8" width="0.6" height="0.6" fill="#666"/>
<rect x="388.9" y="297.1" width="0.6" height="0.6" fill="#666"/>
<rect x="376.8" y="295.8" width="0.6" height="0.6" fill="#666"/>
<rect x="403.1" y="297.6" width="0.6" height="0.6" fill="#666"/>
<rect x="389.9" y="295.8" width="0.6" height="0.6" fill="#666"/>
<rect x="389.0" y="297.3" width="0.6" height="0.6" fill="#666"/>
<rect x="393.6" y="294.4" width="0.6" height="0.6" fill="#666"/>
<rect x="428.9" y="298.0" width="0.6" height="0.6" fill="#666"/>
<rect x="416.3" y="295.5" width="0.6" height="0.6" fill="#666"/>
<rect x="438.9" y="300.0" width="0.6" height="0.6" fill="#666"/>
<rect x="382.7" y="296.5" width="0.6" height="0.6" fill="#666"/>
<rect x="421.4" y="299.0" width="0.6" height="0.6" fill="#666"/>
<rect x="435.3" y="297.1" width="0.6" height="0.6" fill="#666"/>
<rect x="428.4" y="298.7" width="0.6" height="0.6" fill="#666"/>
<line x1="372.9" y1="311.40" x2="441.40" y2="311.40" stroke="#8a7a2a" stroke-width="0.5"/>
<path d="M373.40,314.30 L388.80,314.30 L389.40,310.80 L390.00,316.80 L390.60,314.30 L409.70,314.30 L410.30,310.80 L410.90,316.80 L411.50,314.30 L430.20,314.30 L430.80,310.80 L431.40,316.80 L432.00,314.30 L441.40,314.80" stroke="#3c9a34" stroke-width="0.75" fill="none"/>
<rect x="375.90" y="321.20" width="1.6" height="0.8" fill="#666"/>
<rect x="391.52" y="321.20" width="1.6" height="0.8" fill="#666"/>
<rect x="407.15" y="321.20" width="1.6" height="0.8" fill="#666"/>
<rect x="422.77" y="321.20" width="1.6" height="0.8" fill="#666"/>
<rect x="438.40" y="321.20" width="1.6" height="0.8" fill="#666"/>
<rect x="375.90" y="312.90" width="0.5" height="0.5" fill="#555"/>
<rect x="378.62" y="312.90" width="0.5" height="0.5" fill="#555"/>
<rect x="381.33" y="312.90" width="0.5" height="0.5" fill="#555"/>
<rect x="384.05" y="312.90" width="0.5" height="0.5" fill="#555"/>
<rect x="386.77" y="312.90" width="0.5" height="0.5" fill="#555"/>
<rect x="389.49" y="312.90" width="0.5" height="0.5" fill="#555"/>
<rect x="392.20" y="312.90" width="0.5" height="0.5" fill="#555"/>
<rect x="394.92" y="312.90" width="0.5" height="0.5" fill="#555"/>
<rect x="397.64" y="312.90" width="0.5" height="0.5" fill="#555"/>
<rect x="400.36" y="312.90" width="0.5" height="0.5" fill="#555"/>
<rect x="403.07" y="312.90" width="0.5" height="0.5" fill="#555"/>
<rect x="405.79" y="312.90" width="0.5" height="0.5" fill="#555"/>
<rect x="408.51" y="312.90" width="0.5" height="0.5" fill="#555"/>
<rect x="411.23" y="312.90" width="0.5" height="0.5" fill="#555"/>
<rect x="413.94" y="312.90" width="0.5" height="0.5" fill="#555"/>
<rect x="416.66" y="312.90" width="0.5" height="0.5" fill="#555"/>
<rect x="419.38" y="312.90" width="0.5" height="0.5" fill="#555"/>
<rect x="422.10" y="312.90" width="0.5" height="0.5" fill="#555"/>
<rect x="424.81" y="312.90" width="0.5" height="0.5" fill="#555"/>
<rect x="427.53" y="312.90" width="0.5" height="0.5" fill="#555"/>
<rect x="430.25" y="312.90" width="0.5" height="0.5" fill="#555"/>
<rect x="432.97" y="312.90" width="0.5" height="0.5" fill="#555"/>
<rect x="435.68" y="312.90" width="0.5" height="0.5" fill="#555"/>
<rect x="438.40" y="312.90" width="0.5" height="0.5" fill="#555"/>
<rect x="449.8" y="250.3" width="74.50" height="74.40" fill="#000"/>
<rect x="449.8" y="250.3" width="74.50" height="74.40" filter="url(#spk)" opacity="0.12"/>
<line x1="518.30" y1="252.3" x2="518.30" y2="306.00" stroke="#888" stroke-width="0.5" stroke-dasharray="0.6,1.4"/>
<rect x="520.30" y="256.90" width="2" height="0.9" fill="#777"/>
<rect x="520.30" y="267.90" width="2" height="0.9" fill="#777"/>
<rect x="520.30" y="278.90" width="2" height="0.9" fill="#777"/>
<rect x="520.30" y="292.60" width="2" height="0.9" fill="#777"/>
<rect x="520.30" y="304.60" width="2" height="0.9" fill="#777"/>
<line x1="449.8" y1="293.60" x2="517.30" y2="293.60" stroke="#ddd" stroke-width="1.3" opacity="0.85" filter="url(#bl04)"/>
<line x1="449.8" y1="306.00" x2="518.30" y2="306.00" stroke="#333" stroke-width="0.6"/>
<path d="M455.50,293.0 L459.60,274.70 L461.90,284.35 L462.90,280.10 L469.00,293.0 Z" fill="#aaa" opacity="0.35" filter="url(#bl06)"/>
<path d="M455.50,293.5 C457.50,286.00 464.00,284.00 469.00,293.5 Z" fill="#f0f0f0" opacity="0.9" filter="url(#bl04)"/>
<path d="M458.40,290.00 L460.20,271.70 L461.00,271.70 L462.40,288.00 Z" fill="#f8f8f8" filter="url(#bl04)"/>
<path d="M460.90,289.00 L462.70,279.10 L463.40,279.10 L465.40,289.00 Z" fill="#f0f0f0" filter="url(#bl04)"/>
<path d="M448.70,293.0 Q452.20,297.50 455.70,293.0 Z" fill="#e8e8e8" opacity="0.85" filter="url(#bl04)"/>
<path d="M474.50,293.0 L478.50,274.70 L480.80,284.35 L481.80,280.10 L488.00,293.0 Z" fill="#aaa" opacity="0.35" filter="url(#bl06)"/>
<path d="M474.50,293.5 C476.50,286.00 483.00,284.00 488.00,293.5 Z" fill="#f0f0f0" opacity="0.9" filter="url(#bl04)"/>
<path d="M477.30,290.00 L479.10,271.70 L479.90,271.70 L481.30,288.00 Z" fill="#f8f8f8" filter="url(#bl04)"/>
<path d="M479.80,289.00 L481.60,279.10 L482.30,279.10 L484.30,289.00 Z" fill="#f0f0f0" filter="url(#bl04)"/>
<path d="M467.90,293.0 Q471.40,297.50 474.90,293.0 Z" fill="#e8e8e8" opacity="0.85" filter="url(#bl04)"/>
<path d="M493.80,293.0 L497.90,274.70 L500.20,284.35 L501.20,280.10 L507.40,293.0 Z" fill="#aaa" opacity="0.35" filter="url(#bl06)"/>
<path d="M493.80,293.5 C495.80,286.00 502.40,284.00 507.40,293.5 Z" fill="#f0f0f0" opacity="0.9" filter="url(#bl04)"/>
<path d="M496.70,290.00 L498.50,271.70 L499.30,271.70 L500.70,288.00 Z" fill="#f8f8f8" filter="url(#bl04)"/>
<path d="M499.20,289.00 L501.00,279.10 L501.70,279.10 L503.70,289.00 Z" fill="#f0f0f0" filter="url(#bl04)"/>
<path d="M487.50,293.0 Q491.00,297.50 494.50,293.0 Z" fill="#e8e8e8" opacity="0.85" filter="url(#bl04)"/>
<rect x="513.5" y="302.6" width="0.6" height="0.6" fill="#666"/>
<rect x="455.4" y="296.6" width="0.6" height="0.6" fill="#666"/>
<rect x="505.7" y="301.2" width="0.6" height="0.6" fill="#666"/>
<rect x="495.0" y="298.2" width="0.6" height="0.6" fill="#666"/>
<rect x="490.9" y="300.2" width="0.6" height="0.6" fill="#666"/>
<rect x="489.3" y="297.1" width="0.6" height="0.6" fill="#666"/>
<rect x="479.6" y="298.8" width="0.6" height="0.6" fill="#666"/>
<rect x="498.4" y="303.0" width="0.6" height="0.6" fill="#666"/>
<rect x="513.0" y="299.8" width="0.6" height="0.6" fill="#666"/>
<rect x="480.5" y="297.9" width="0.6" height="0.6" fill="#666"/>
<rect x="454.1" y="296.2" width="0.6" height="0.6" fill="#666"/>
<rect x="481.8" y="298.2" width="0.6" height="0.6" fill="#666"/>
<rect x="476.3" y="302.2" width="0.6" height="0.6" fill="#666"/>
<rect x="485.7" y="299.9" width="0.6" height="0.6" fill="#666"/>
<rect x="467.0" y="296.2" width="0.6" height="0.6" fill="#666"/>
<rect x="472.8" y="297.0" width="0.6" height="0.6" fill="#666"/>
<rect x="484.7" y="303.0" width="0.6" height="0.6" fill="#666"/>
<rect x="495.3" y="297.3" width="0.6" height="0.6" fill="#666"/>
<rect x="509.4" y="301.6" width="0.6" height="0.6" fill="#666"/>
<rect x="499.2" y="302.3" width="0.6" height="0.6" fill="#666"/>
<rect x="501.0" y="301.5" width="0.6" height="0.6" fill="#666"/>
<rect x="474.6" y="302.9" width="0.6" height="0.6" fill="#666"/>
<rect x="513.8" y="297.1" width="0.6" height="0.6" fill="#666"/>
<rect x="500.4" y="301.0" width="0.6" height="0.6" fill="#666"/>
<rect x="481.6" y="299.7" width="0.6" height="0.6" fill="#666"/>
<path d="M450.30,315.60 L466.20,315.60 L466.80,312.10 L467.40,318.10 L468.00,315.60 L485.30,315.60 L485.90,312.10 L486.50,318.10 L487.10,315.60 L504.60,315.60 L505.20,312.10 L505.80,318.10 L506.40,315.60 L518.30,316.10" stroke="#3c9a34" stroke-width="0.75" fill="none"/>
<rect x="452.80" y="321.20" width="1.6" height="0.8" fill="#666"/>
<rect x="468.43" y="321.20" width="1.6" height="0.8" fill="#666"/>
<rect x="484.05" y="321.20" width="1.6" height="0.8" fill="#666"/>
<rect x="499.67" y="321.20" width="1.6" height="0.8" fill="#666"/>
<rect x="515.30" y="321.20" width="1.6" height="0.8" fill="#666"/>
<rect x="452.80" y="315.00" width="0.5" height="0.5" fill="#555"/>
<rect x="455.52" y="315.00" width="0.5" height="0.5" fill="#555"/>
<rect x="458.23" y="315.00" width="0.5" height="0.5" fill="#555"/>
<rect x="460.95" y="315.00" width="0.5" height="0.5" fill="#555"/>
<rect x="463.67" y="315.00" width="0.5" height="0.5" fill="#555"/>
<rect x="466.39" y="315.00" width="0.5" height="0.5" fill="#555"/>
<rect x="469.10" y="315.00" width="0.5" height="0.5" fill="#555"/>
<rect x="471.82" y="315.00" width="0.5" height="0.5" fill="#555"/>
<rect x="474.54" y="315.00" width="0.5" height="0.5" fill="#555"/>
<rect x="477.26" y="315.00" width="0.5" height="0.5" fill="#555"/>
<rect x="479.97" y="315.00" width="0.5" height="0.5" fill="#555"/>
<rect x="482.69" y="315.00" width="0.5" height="0.5" fill="#555"/>
<rect x="485.41" y="315.00" width="0.5" height="0.5" fill="#555"/>
<rect x="488.13" y="315.00" width="0.5" height="0.5" fill="#555"/>
<rect x="490.84" y="315.00" width="0.5" height="0.5" fill="#555"/>
<rect x="493.56" y="315.00" width="0.5" height="0.5" fill="#555"/>
<rect x="496.28" y="315.00" width="0.5" height="0.5" fill="#555"/>
<rect x="499.00" y="315.00" width="0.5" height="0.5" fill="#555"/>
<rect x="501.71" y="315.00" width="0.5" height="0.5" fill="#555"/>
<rect x="504.43" y="315.00" width="0.5" height="0.5" fill="#555"/>
<rect x="507.15" y="315.00" width="0.5" height="0.5" fill="#555"/>
<rect x="509.87" y="315.00" width="0.5" height="0.5" fill="#555"/>
<rect x="512.58" y="315.00" width="0.5" height="0.5" fill="#555"/>
<rect x="515.30" y="315.00" width="0.5" height="0.5" fill="#555"/>
<rect x="526.7" y="250.3" width="74.40" height="74.40" fill="#000"/>
<rect x="526.7" y="250.3" width="74.40" height="74.40" filter="url(#spk)" opacity="0.12"/>
<line x1="595.10" y1="252.3" x2="595.10" y2="305.00" stroke="#888" stroke-width="0.5" stroke-dasharray="0.6,1.4"/>
<rect x="597.10" y="256.90" width="2" height="0.9" fill="#777"/>
<rect x="597.10" y="267.90" width="2" height="0.9" fill="#777"/>
<rect x="597.10" y="278.90" width="2" height="0.9" fill="#777"/>
<rect x="597.10" y="291.60" width="2" height="0.9" fill="#777"/>
<rect x="597.10" y="303.60" width="2" height="0.9" fill="#777"/>
<line x1="526.7" y1="292.60" x2="594.10" y2="292.60" stroke="#ddd" stroke-width="1.3" opacity="0.85" filter="url(#bl04)"/>
<line x1="526.7" y1="305.00" x2="595.10" y2="305.00" stroke="#333" stroke-width="0.6"/>
<path d="M534.50,292.0 L536.50,268.90 L538.80,280.95 L541.00,284.30 L546.00,292.0 Z" fill="#aaa" opacity="0.35" filter="url(#bl06)"/>
<path d="M534.50,292.5 C536.50,285.00 541.00,283.00 546.00,292.5 Z" fill="#f0f0f0" opacity="0.9" filter="url(#bl04)"/>
<path d="M535.30,289.00 L537.10,265.90 L537.90,265.90 L539.30,287.00 Z" fill="#f8f8f8" filter="url(#bl04)"/>
<path d="M539.00,288.00 L540.80,283.30 L541.50,283.30 L543.50,288.00 Z" fill="#f0f0f0" filter="url(#bl04)"/>
<path d="M528.00,292.0 Q531.00,297.00 534.00,292.0 Z" fill="#e8e8e8" opacity="0.85" filter="url(#bl04)"/>
<path d="M553.20,292.0 L555.20,268.90 L557.50,280.95 L559.70,284.30 L564.70,292.0 Z" fill="#aaa" opacity="0.35" filter="url(#bl06)"/>
<path d="M553.20,292.5 C555.20,285.00 559.70,283.00 564.70,292.5 Z" fill="#f0f0f0" opacity="0.9" filter="url(#bl04)"/>
<path d="M554.00,289.00 L555.80,265.90 L556.60,265.90 L558.00,287.00 Z" fill="#f8f8f8" filter="url(#bl04)"/>
<path d="M557.70,288.00 L559.50,283.30 L560.20,283.30 L562.20,288.00 Z" fill="#f0f0f0" filter="url(#bl04)"/>
<path d="M546.50,292.0 Q549.50,297.00 552.50,292.0 Z" fill="#e8e8e8" opacity="0.85" filter="url(#bl04)"/>
<path d="M571.80,292.0 L573.80,268.90 L576.10,280.95 L579.00,284.30 L583.50,292.0 Z" fill="#aaa" opacity="0.35" filter="url(#bl06)"/>
<path d="M571.80,292.5 C573.80,285.00 578.50,283.00 583.50,292.5 Z" fill="#f0f0f0" opacity="0.9" filter="url(#bl04)"/>
<path d="M572.60,289.00 L574.40,265.90 L575.20,265.90 L576.60,287.00 Z" fill="#f8f8f8" filter="url(#bl04)"/>
<path d="M577.00,288.00 L578.80,283.30 L579.50,283.30 L581.50,288.00 Z" fill="#f0f0f0" filter="url(#bl04)"/>
<path d="M565.50,292.0 Q568.50,297.00 571.50,292.0 Z" fill="#e8e8e8" opacity="0.85" filter="url(#bl04)"/>
<path d="M587.50,292.0 Q590.50,297.00 593.50,292.0 Z" fill="#e8e8e8" opacity="0.85" filter="url(#bl04)"/>
<rect x="544.0" y="298.8" width="0.6" height="0.6" fill="#666"/>
<rect x="552.5" y="299.2" width="0.6" height="0.6" fill="#666"/>
<rect x="569.0" y="295.5" width="0.6" height="0.6" fill="#666"/>
<rect x="529.5" y="300.9" width="0.6" height="0.6" fill="#666"/>
<rect x="545.4" y="296.6" width="0.6" height="0.6" fill="#666"/>
<rect x="592.8" y="298.3" width="0.6" height="0.6" fill="#666"/>
<rect x="582.6" y="298.3" width="0.6" height="0.6" fill="#666"/>
<rect x="569.9" y="296.1" width="0.6" height="0.6" fill="#666"/>
<rect x="569.6" y="301.1" width="0.6" height="0.6" fill="#666"/>
<rect x="562.4" y="300.2" width="0.6" height="0.6" fill="#666"/>
<rect x="571.9" y="295.4" width="0.6" height="0.6" fill="#666"/>
<rect x="577.5" y="299.1" width="0.6" height="0.6" fill="#666"/>
<rect x="548.1" y="295.2" width="0.6" height="0.6" fill="#666"/>
<rect x="584.4" y="298.3" width="0.6" height="0.6" fill="#666"/>
<rect x="575.0" y="301.2" width="0.6" height="0.6" fill="#666"/>
<rect x="574.7" y="301.4" width="0.6" height="0.6" fill="#666"/>
<rect x="554.1" y="300.6" width="0.6" height="0.6" fill="#666"/>
<rect x="557.3" y="301.5" width="0.6" height="0.6" fill="#666"/>
<rect x="585.3" y="295.7" width="0.6" height="0.6" fill="#666"/>
<rect x="537.5" y="296.5" width="0.6" height="0.6" fill="#666"/>
<rect x="590.9" y="298.1" width="0.6" height="0.6" fill="#666"/>
<rect x="569.1" y="297.1" width="0.6" height="0.6" fill="#666"/>
<rect x="561.4" y="297.7" width="0.6" height="0.6" fill="#666"/>
<rect x="551.3" y="299.1" width="0.6" height="0.6" fill="#666"/>
<rect x="566.3" y="301.3" width="0.6" height="0.6" fill="#666"/>
<path d="M527.20,314.30 L542.50,314.30 L543.10,310.80 L543.70,316.80 L544.30,314.30 L561.70,314.30 L562.30,310.80 L562.90,316.80 L563.50,314.30 L580.50,314.30 L581.10,310.80 L581.70,316.80 L582.30,314.30 L595.10,314.80" stroke="#3c9a34" stroke-width="0.75" fill="none"/>
<rect x="529.70" y="321.20" width="1.6" height="0.8" fill="#666"/>
<rect x="545.30" y="321.20" width="1.6" height="0.8" fill="#666"/>
<rect x="560.90" y="321.20" width="1.6" height="0.8" fill="#666"/>
<rect x="576.50" y="321.20" width="1.6" height="0.8" fill="#666"/>
<rect x="592.10" y="321.20" width="1.6" height="0.8" fill="#666"/>
<rect x="529.70" y="314.00" width="0.5" height="0.5" fill="#555"/>
<rect x="532.41" y="314.00" width="0.5" height="0.5" fill="#555"/>
<rect x="535.13" y="314.00" width="0.5" height="0.5" fill="#555"/>
<rect x="537.84" y="314.00" width="0.5" height="0.5" fill="#555"/>
<rect x="540.55" y="314.00" width="0.5" height="0.5" fill="#555"/>
<rect x="543.27" y="314.00" width="0.5" height="0.5" fill="#555"/>
<rect x="545.98" y="314.00" width="0.5" height="0.5" fill="#555"/>
<rect x="548.69" y="314.00" width="0.5" height="0.5" fill="#555"/>
<rect x="551.40" y="314.00" width="0.5" height="0.5" fill="#555"/>
<rect x="554.12" y="314.00" width="0.5" height="0.5" fill="#555"/>
<rect x="556.83" y="314.00" width="0.5" height="0.5" fill="#555"/>
<rect x="559.54" y="314.00" width="0.5" height="0.5" fill="#555"/>
<rect x="562.26" y="314.00" width="0.5" height="0.5" fill="#555"/>
<rect x="564.97" y="314.00" width="0.5" height="0.5" fill="#555"/>
<rect x="567.68" y="314.00" width="0.5" height="0.5" fill="#555"/>
<rect x="570.40" y="314.00" width="0.5" height="0.5" fill="#555"/>
<rect x="573.11" y="314.00" width="0.5" height="0.5" fill="#555"/>
<rect x="575.82" y="314.00" width="0.5" height="0.5" fill="#555"/>
<rect x="578.53" y="314.00" width="0.5" height="0.5" fill="#555"/>
<rect x="581.25" y="314.00" width="0.5" height="0.5" fill="#555"/>
<rect x="583.96" y="314.00" width="0.5" height="0.5" fill="#555"/>
<rect x="586.67" y="314.00" width="0.5" height="0.5" fill="#555"/>
<rect x="589.39" y="314.00" width="0.5" height="0.5" fill="#555"/>
<rect x="592.10" y="314.00" width="0.5" height="0.5" fill="#555"/>
<rect x="603.6" y="250.3" width="74.50" height="74.40" fill="#000"/>
<rect x="603.6" y="250.3" width="74.50" height="74.40" filter="url(#spk)" opacity="0.4"/>
<line x1="672.10" y1="252.3" x2="672.10" y2="306.60" stroke="#888" stroke-width="0.5" stroke-dasharray="0.6,1.4"/>
<rect x="674.10" y="256.90" width="2" height="0.9" fill="#777"/>
<rect x="674.10" y="267.90" width="2" height="0.9" fill="#777"/>
<rect x="674.10" y="278.90" width="2" height="0.9" fill="#777"/>
<rect x="674.10" y="292.80" width="2" height="0.9" fill="#777"/>
<rect x="674.10" y="304.80" width="2" height="0.9" fill="#777"/>
<line x1="603.6" y1="293.80" x2="671.10" y2="293.80" stroke="#ddd" stroke-width="1.3" opacity="0.85" filter="url(#bl04)"/>
<line x1="603.6" y1="306.60" x2="672.10" y2="306.60" stroke="#333" stroke-width="0.6"/>
<path d="M611.50,293.2 L613.70,268.20 L616.00,281.20 L618.70,286.50 L623.50,293.2 Z" fill="#aaa" opacity="0.35" filter="url(#bl06)"/>
<path d="M611.50,293.7 C613.50,286.20 618.50,284.20 623.50,293.7 Z" fill="#f0f0f0" opacity="0.9" filter="url(#bl04)"/>
<path d="M612.50,290.20 L614.30,265.20 L615.10,265.20 L616.50,288.20 Z" fill="#f8f8f8" filter="url(#bl04)"/>
<path d="M616.70,289.20 L618.50,285.50 L619.20,285.50 L621.20,289.20 Z" fill="#f0f0f0" filter="url(#bl04)"/>
<path d="M603.00,293.2 Q606.00,298.00 609.00,293.2 Z" fill="#e8e8e8" opacity="0.85" filter="url(#bl04)"/>
<path d="M630.80,293.2 L632.60,268.80 L634.90,281.50 L637.90,286.50 L642.80,293.2 Z" fill="#aaa" opacity="0.35" filter="url(#bl06)"/>
<path d="M630.80,293.7 C632.80,286.20 637.80,284.20 642.80,293.7 Z" fill="#f0f0f0" opacity="0.9" filter="url(#bl04)"/>
<path d="M631.40,290.20 L633.20,265.80 L634.00,265.80 L635.40,288.20 Z" fill="#f8f8f8" filter="url(#bl04)"/>
<path d="M635.90,289.20 L637.70,285.50 L638.40,285.50 L640.40,289.20 Z" fill="#f0f0f0" filter="url(#bl04)"/>
<path d="M623.40,293.2 Q626.40,298.00 629.40,293.2 Z" fill="#e8e8e8" opacity="0.85" filter="url(#bl04)"/>
<path d="M649.90,293.2 L651.70,268.20 L654.00,281.20 L656.50,286.50 L661.80,293.2 Z" fill="#aaa" opacity="0.35" filter="url(#bl06)"/>
<path d="M649.90,293.7 C651.90,286.20 656.80,284.20 661.80,293.7 Z" fill="#f0f0f0" opacity="0.9" filter="url(#bl04)"/>
<path d="M650.50,290.20 L652.30,265.20 L653.10,265.20 L654.50,288.20 Z" fill="#f8f8f8" filter="url(#bl04)"/>
<path d="M654.50,289.20 L656.30,285.50 L657.00,285.50 L659.00,289.20 Z" fill="#f0f0f0" filter="url(#bl04)"/>
<path d="M642.40,293.2 Q645.40,298.00 648.40,293.2 Z" fill="#e8e8e8" opacity="0.85" filter="url(#bl04)"/>
<path d="M662.00,293.2 Q665.00,298.00 668.00,293.2 Z" fill="#e8e8e8" opacity="0.85" filter="url(#bl04)"/>
<rect x="620.8" y="297.0" width="0.6" height="0.6" fill="#666"/>
<rect x="631.1" y="297.3" width="0.6" height="0.6" fill="#666"/>
<rect x="609.9" y="299.2" width="0.6" height="0.6" fill="#666"/>
<rect x="664.8" y="302.1" width="0.6" height="0.6" fill="#666"/>
<rect x="655.0" y="297.8" width="0.6" height="0.6" fill="#666"/>
<rect x="640.2" y="298.2" width="0.6" height="0.6" fill="#666"/>
<rect x="616.7" y="297.0" width="0.6" height="0.6" fill="#666"/>
<rect x="619.4" y="303.1" width="0.6" height="0.6" fill="#666"/>
<rect x="659.1" y="302.2" width="0.6" height="0.6" fill="#666"/>
<rect x="657.2" y="297.6" width="0.6" height="0.6" fill="#666"/>
<rect x="625.6" y="300.8" width="0.6" height="0.6" fill="#666"/>
<rect x="652.8" y="302.5" width="0.6" height="0.6" fill="#666"/>
<rect x="662.4" y="296.8" width="0.6" height="0.6" fill="#666"/>
<rect x="644.7" y="301.2" width="0.6" height="0.6" fill="#666"/>
<rect x="638.2" y="297.5" width="0.6" height="0.6" fill="#666"/>
<rect x="636.1" y="296.9" width="0.6" height="0.6" fill="#666"/>
<rect x="665.9" y="302.6" width="0.6" height="0.6" fill="#666"/>
<rect x="640.9" y="298.4" width="0.6" height="0.6" fill="#666"/>
<rect x="664.2" y="300.4" width="0.6" height="0.6" fill="#666"/>
<rect x="662.5" y="302.5" width="0.6" height="0.6" fill="#666"/>
<rect x="638.4" y="299.3" width="0.6" height="0.6" fill="#666"/>
<rect x="644.2" y="299.4" width="0.6" height="0.6" fill="#666"/>
<rect x="616.0" y="298.5" width="0.6" height="0.6" fill="#666"/>
<rect x="658.0" y="296.5" width="0.6" height="0.6" fill="#666"/>
<rect x="608.6" y="300.8" width="0.6" height="0.6" fill="#666"/>
<path d="M604.10,316.10 L619.20,316.10 L619.80,312.60 L620.40,318.60 L621.00,316.10 L638.30,316.10 L638.90,312.60 L639.50,318.60 L640.10,316.10 L657.70,316.10 L658.30,312.60 L658.90,318.60 L659.50,316.10 L672.10,316.60" stroke="#3c9a34" stroke-width="0.75" fill="none"/>
<rect x="606.60" y="321.20" width="1.6" height="0.8" fill="#666"/>
<rect x="622.23" y="321.20" width="1.6" height="0.8" fill="#666"/>
<rect x="637.85" y="321.20" width="1.6" height="0.8" fill="#666"/>
<rect x="653.48" y="321.20" width="1.6" height="0.8" fill="#666"/>
<rect x="669.10" y="321.20" width="1.6" height="0.8" fill="#666"/>
<rect x="606.60" y="315.60" width="0.5" height="0.5" fill="#555"/>
<rect x="609.32" y="315.60" width="0.5" height="0.5" fill="#555"/>
<rect x="612.03" y="315.60" width="0.5" height="0.5" fill="#555"/>
<rect x="614.75" y="315.60" width="0.5" height="0.5" fill="#555"/>
<rect x="617.47" y="315.60" width="0.5" height="0.5" fill="#555"/>
<rect x="620.19" y="315.60" width="0.5" height="0.5" fill="#555"/>
<rect x="622.90" y="315.60" width="0.5" height="0.5" fill="#555"/>
<rect x="625.62" y="315.60" width="0.5" height="0.5" fill="#555"/>
<rect x="628.34" y="315.60" width="0.5" height="0.5" fill="#555"/>
<rect x="631.06" y="315.60" width="0.5" height="0.5" fill="#555"/>
<rect x="633.77" y="315.60" width="0.5" height="0.5" fill="#555"/>
<rect x="636.49" y="315.60" width="0.5" height="0.5" fill="#555"/>
<rect x="639.21" y="315.60" width="0.5" height="0.5" fill="#555"/>
<rect x="641.93" y="315.60" width="0.5" height="0.5" fill="#555"/>
<rect x="644.64" y="315.60" width="0.5" height="0.5" fill="#555"/>
<rect x="647.36" y="315.60" width="0.5" height="0.5" fill="#555"/>
<rect x="650.08" y="315.60" width="0.5" height="0.5" fill="#555"/>
<rect x="652.80" y="315.60" width="0.5" height="0.5" fill="#555"/>
<rect x="655.51" y="315.60" width="0.5" height="0.5" fill="#555"/>
<rect x="658.23" y="315.60" width="0.5" height="0.5" fill="#555"/>
<rect x="660.95" y="315.60" width="0.5" height="0.5" fill="#555"/>
<rect x="663.67" y="315.60" width="0.5" height="0.5" fill="#555"/>
<rect x="666.38" y="315.60" width="0.5" height="0.5" fill="#555"/>
<rect x="669.10" y="315.60" width="0.5" height="0.5" fill="#555"/>
<text x="378.20" y="261.40" font-size="10.4" font-weight="bold" stroke="#fff" stroke-width="0.25" text-anchor="start" fill="#fff">E</text>
<text x="386.00" y="273.90" font-size="10.4" font-weight="bold" stroke="#fff" stroke-width="0.25" text-anchor="start" fill="#fff">A</text>
<text x="612.70" y="264.70" font-size="10.4" font-weight="bold" stroke="#fff" stroke-width="0.25" text-anchor="start" fill="#fff">E</text>
<text x="620.20" y="285.20" font-size="10.4" font-weight="bold" stroke="#fff" stroke-width="0.25" text-anchor="start" fill="#fff">A</text>
<rect x="372.9" y="329.5" width="74.50" height="74.20" fill="#000"/>
<clipPath id="tc11"><rect x="372.9" y="329.5" width="74.50" height="74.20"/></clipPath>
<g clip-path="url(#tc11)">
<line x1="419.00" y1="355.38" x2="418.89" y2="341.08" stroke="#a89a28" stroke-width="1.3" opacity="0.45" filter="url(#bl06)"/>
<line x1="420.77" y1="353.78" x2="421.39" y2="336.20" stroke="#a89a28" stroke-width="1.3" opacity="0.45" filter="url(#bl06)"/>
<line x1="422.79" y1="360.81" x2="422.19" y2="348.06" stroke="#a89a28" stroke-width="1.3" opacity="0.45" filter="url(#bl06)"/>
<line x1="388.14" y1="365.50" x2="387.16" y2="352.78" stroke="#a89a28" stroke-width="1.3" opacity="0.45" filter="url(#bl06)"/>
<line x1="424.82" y1="361.30" x2="424.18" y2="350.58" stroke="#a89a28" stroke-width="1.3" opacity="0.45" filter="url(#bl06)"/>
<line x1="399.58" y1="361.05" x2="399.98" y2="347.84" stroke="#a89a28" stroke-width="1.3" opacity="0.45" filter="url(#bl06)"/>
<line x1="417.99" y1="356.88" x2="418.50" y2="344.94" stroke="#a89a28" stroke-width="1.3" opacity="0.45" filter="url(#bl06)"/>
<line x1="430.15" y1="372.59" x2="430.96" y2="363.72" stroke="#a89a28" stroke-width="1.3" opacity="0.45" filter="url(#bl06)"/>
<line x1="439.78" y1="362.32" x2="440.23" y2="353.02" stroke="#a89a28" stroke-width="1.3" opacity="0.45" filter="url(#bl06)"/>
<line x1="406.97" y1="372.88" x2="407.22" y2="355.78" stroke="#a89a28" stroke-width="1.3" opacity="0.45" filter="url(#bl06)"/>
<line x1="372.9" y1="366.00" x2="447.4" y2="366.00" stroke="#8a8450" stroke-width="0.6"/>
<path d="M371.90,358.47 L372.80,355.97 L373.70,355.51 L374.60,352.23 L375.50,355.82 L376.40,358.50 L377.30,360.84 L378.20,365.37 L379.10,365.72 L380.00,367.83 L380.90,365.54 L381.80,368.97 L382.70,374.20 L383.60,376.53 L384.50,380.07 L385.40,374.86 L386.30,372.80 L387.20,368.23 L388.10,360.40 L389.00,360.55 L389.90,357.09 L390.80,356.72 L391.70,353.88 L392.60,349.79 L393.50,349.77 L394.40,346.99 L395.30,350.99 L396.20,352.01 L397.10,357.26 L398.00,358.21 L398.90,356.25 L399.80,356.43 L400.70,353.77 L401.60,357.10 L402.50,357.27 L403.40,362.19 L404.30,368.74 L405.20,366.73 L406.10,370.12 L407.00,367.74 L407.90,370.93 L408.80,375.07 L409.70,376.36 L410.60,377.29 L411.50,374.83 L412.40,370.05 L413.30,363.43 L414.20,358.46 L415.10,359.36 L416.00,356.57 L416.90,355.43 L417.80,353.07 L418.70,351.84 L419.60,350.27 L420.50,349.80 L421.40,353.02 L422.30,353.84 L423.20,358.70 L424.10,359.95 L425.00,356.65 L425.90,354.67 L426.80,352.47 L427.70,357.72 L428.60,361.37 L429.50,363.85 L430.40,367.37 L431.30,367.71 L432.20,369.90 L433.10,368.96 L434.00,372.59 L434.90,375.97 L435.80,374.96 L436.70,376.31 L437.60,372.90 L438.50,365.61 L439.40,361.50 L440.30,354.70 L441.20,353.09 L442.10,353.03 L443.00,355.23 L443.90,354.22 L444.80,350.39 L445.70,349.95 L446.60,349.29 L447.50,353.13 L448.40,353.69 L448.40,363.57 L447.50,361.43 L446.60,359.00 L445.70,357.93 L444.80,360.10 L443.90,362.11 L443.00,363.37 L442.10,362.18 L441.20,365.72 L440.30,364.45 L439.40,370.43 L438.50,375.06 L437.60,380.80 L436.70,385.42 L435.80,385.02 L434.90,384.48 L434.00,380.46 L433.10,379.73 L432.20,379.36 L431.30,376.15 L430.40,376.93 L429.50,372.65 L428.60,370.05 L427.70,366.90 L426.80,361.82 L425.90,364.30 L425.00,364.99 L424.10,368.03 L423.20,369.43 L422.30,362.35 L421.40,362.30 L420.50,358.64 L419.60,358.74 L418.70,360.90 L417.80,361.34 L416.90,364.27 L416.00,365.27 L415.10,368.19 L414.20,368.75 L413.30,373.51 L412.40,378.86 L411.50,383.32 L410.60,387.52 L409.70,385.27 L408.80,383.80 L407.90,381.08 L407.00,377.93 L406.10,378.92 L405.20,376.37 L404.30,376.54 L403.40,371.74 L402.50,367.73 L401.60,364.97 L400.70,361.68 L399.80,366.33 L398.90,366.45 L398.00,369.13 L397.10,365.95 L396.20,361.97 L395.30,359.37 L394.40,355.39 L393.50,358.61 L392.60,359.13 L391.70,364.37 L390.80,365.44 L389.90,366.60 L389.00,370.27 L388.10,369.82 L387.20,377.01 L386.30,381.54 L385.40,383.24 L384.50,390.39 L383.60,386.07 L382.70,383.01 L381.80,377.86 L380.90,375.35 L380.00,376.39 L379.10,374.02 L378.20,374.74 L377.30,369.32 L376.40,367.63 L375.50,365.03 L374.60,362.68 L373.70,367.09 L372.80,365.83 L371.90,367.75 Z" fill="#d8cc30" opacity="0.6" filter="url(#bl1)"/>
<path d="M371.90,358.47 L372.80,355.97 L373.70,355.51 L374.60,352.23 L375.50,355.82 L376.40,358.50 L377.30,360.84 L378.20,365.37 L379.10,365.72 L380.00,367.83 L380.90,365.54 L381.80,368.97 L382.70,374.20 L383.60,376.53 L384.50,380.07 L385.40,374.86 L386.30,372.80 L387.20,368.23 L388.10,360.40 L389.00,360.55 L389.90,357.09 L390.80,356.72 L391.70,353.88 L392.60,349.79 L393.50,349.77 L394.40,346.99 L395.30,350.99 L396.20,352.01 L397.10,357.26 L398.00,358.21 L398.90,356.25 L399.80,356.43 L400.70,353.77 L401.60,357.10 L402.50,357.27 L403.40,362.19 L404.30,368.74 L405.20,366.73 L406.10,370.12 L407.00,367.74 L407.90,370.93 L408.80,375.07 L409.70,376.36 L410.60,377.29 L411.50,374.83 L412.40,370.05 L413.30,363.43 L414.20,358.46 L415.10,359.36 L416.00,356.57 L416.90,355.43 L417.80,353.07 L418.70,351.84 L419.60,350.27 L420.50,349.80 L421.40,353.02 L422.30,353.84 L423.20,358.70 L424.10,359.95 L425.00,356.65 L425.90,354.67 L426.80,352.47 L427.70,357.72 L428.60,361.37 L429.50,363.85 L430.40,367.37 L431.30,367.71 L432.20,369.90 L433.10,368.96 L434.00,372.59 L434.90,375.97 L435.80,374.96 L436.70,376.31 L437.60,372.90 L438.50,365.61 L439.40,361.50 L440.30,354.70 L441.20,353.09 L442.10,353.03 L443.00,355.23 L443.90,354.22 L444.80,350.39 L445.70,349.95 L446.60,349.29 L447.50,353.13 L448.40,353.69 L448.40,363.57 L447.50,361.43 L446.60,359.00 L445.70,357.93 L444.80,360.10 L443.90,362.11 L443.00,363.37 L442.10,362.18 L441.20,365.72 L440.30,364.45 L439.40,370.43 L438.50,375.06 L437.60,380.80 L436.70,385.42 L435.80,385.02 L434.90,384.48 L434.00,380.46 L433.10,379.73 L432.20,379.36 L431.30,376.15 L430.40,376.93 L429.50,372.65 L428.60,370.05 L427.70,366.90 L426.80,361.82 L425.90,364.30 L425.00,364.99 L424.10,368.03 L423.20,369.43 L422.30,362.35 L421.40,362.30 L420.50,358.64 L419.60,358.74 L418.70,360.90 L417.80,361.34 L416.90,364.27 L416.00,365.27 L415.10,368.19 L414.20,368.75 L413.30,373.51 L412.40,378.86 L411.50,383.32 L410.60,387.52 L409.70,385.27 L408.80,383.80 L407.90,381.08 L407.00,377.93 L406.10,378.92 L405.20,376.37 L404.30,376.54 L403.40,371.74 L402.50,367.73 L401.60,364.97 L400.70,361.68 L399.80,366.33 L398.90,366.45 L398.00,369.13 L397.10,365.95 L396.20,361.97 L395.30,359.37 L394.40,355.39 L393.50,358.61 L392.60,359.13 L391.70,364.37 L390.80,365.44 L389.90,366.60 L389.00,370.27 L388.10,369.82 L387.20,377.01 L386.30,381.54 L385.40,383.24 L384.50,390.39 L383.60,386.07 L382.70,383.01 L381.80,377.86 L380.90,375.35 L380.00,376.39 L379.10,374.02 L378.20,374.74 L377.30,369.32 L376.40,367.63 L375.50,365.03 L374.60,362.68 L373.70,367.09 L372.80,365.83 L371.90,367.75 Z" fill="#efe44a" filter="url(#bl04)"/>
</g>
<rect x="449.8" y="329.5" width="74.50" height="74.20" fill="#000"/>
<clipPath id="tc12"><rect x="449.8" y="329.5" width="74.50" height="74.20"/></clipPath>
<g clip-path="url(#tc12)">
<line x1="512.07" y1="368.66" x2="512.74" y2="358.55" stroke="#a89a28" stroke-width="1.3" opacity="0.45" filter="url(#bl06)"/>
<line x1="513.07" y1="366.24" x2="512.12" y2="355.15" stroke="#a89a28" stroke-width="1.3" opacity="0.45" filter="url(#bl06)"/>
<line x1="453.69" y1="367.10" x2="453.03" y2="357.47" stroke="#a89a28" stroke-width="1.3" opacity="0.45" filter="url(#bl06)"/>
<line x1="449.8" y1="365.00" x2="524.3" y2="365.00" stroke="#8a8450" stroke-width="0.6"/>
<path d="M448.80,362.00 L449.70,358.11 L450.60,358.99 L451.50,357.51 L452.40,357.98 L453.30,361.55 L454.20,362.71 L455.10,359.81 L456.00,358.58 L456.90,357.63 L457.80,353.11 L458.70,354.86 L459.60,354.13 L460.50,358.96 L461.40,360.61 L462.30,365.69 L463.20,360.72 L464.10,359.38 L465.00,358.41 L465.90,356.67 L466.80,356.43 L467.70,359.77 L468.60,362.71 L469.50,363.93 L470.40,368.04 L471.30,367.00 L472.20,364.74 L473.10,363.02 L474.00,361.71 L474.90,356.91 L475.80,358.31 L476.70,358.03 L477.60,357.85 L478.50,362.35 L479.40,362.71 L480.30,357.43 L481.20,358.45 L482.10,354.71 L483.00,352.31 L483.90,355.45 L484.80,357.49 L485.70,358.01 L486.60,362.54 L487.50,364.14 L488.40,358.52 L489.30,357.94 L490.20,358.73 L491.10,357.17 L492.00,357.01 L492.90,361.38 L493.80,363.10 L494.70,365.26 L495.60,368.32 L496.50,366.43 L497.40,363.58 L498.30,361.88 L499.20,358.74 L500.10,357.36 L501.00,361.15 L501.90,359.08 L502.80,358.34 L503.70,364.19 L504.60,359.74 L505.50,357.33 L506.40,355.57 L507.30,353.82 L508.20,351.87 L509.10,357.71 L510.00,358.04 L510.90,360.26 L511.80,362.80 L512.70,363.50 L513.60,357.99 L514.50,359.06 L515.40,356.72 L516.30,356.24 L517.20,357.61 L518.10,361.80 L519.00,363.05 L519.90,366.57 L520.80,369.25 L521.70,366.08 L522.60,363.99 L523.50,362.48 L524.40,357.48 L525.30,359.66 L525.30,368.51 L524.40,365.94 L523.50,373.10 L522.60,373.70 L521.70,376.42 L520.80,378.58 L519.90,376.14 L519.00,373.15 L518.10,370.89 L517.20,367.68 L516.30,365.34 L515.40,366.28 L514.50,368.25 L513.60,367.60 L512.70,372.86 L511.80,372.08 L510.90,369.11 L510.00,367.19 L509.10,366.62 L508.20,362.17 L507.30,364.15 L506.40,365.55 L505.50,367.49 L504.60,369.96 L503.70,373.37 L502.80,368.92 L501.90,368.89 L501.00,369.96 L500.10,367.45 L499.20,368.85 L498.30,371.69 L497.40,373.14 L496.50,376.34 L495.60,378.42 L494.70,374.61 L493.80,371.17 L492.90,371.85 L492.00,367.44 L491.10,366.19 L490.20,368.22 L489.30,367.05 L488.40,370.02 L487.50,373.38 L486.60,371.29 L485.70,368.39 L484.80,367.29 L483.90,365.08 L483.00,362.19 L482.10,364.77 L481.20,367.30 L480.30,367.10 L479.40,370.98 L478.50,371.73 L477.60,367.56 L476.70,369.88 L475.80,367.89 L474.90,367.98 L474.00,370.24 L473.10,372.58 L472.20,374.71 L471.30,378.37 L470.40,376.82 L469.50,372.14 L468.60,373.65 L467.70,371.18 L466.80,365.01 L465.90,366.92 L465.00,367.43 L464.10,369.59 L463.20,370.01 L462.30,373.73 L461.40,368.94 L460.50,368.21 L459.60,365.78 L458.70,364.00 L457.80,362.91 L456.90,365.98 L456.00,367.18 L455.10,368.93 L454.20,371.96 L453.30,369.96 L452.40,367.65 L451.50,369.18 L450.60,367.10 L449.70,368.02 L448.80,371.02 Z" fill="#d8cc30" opacity="0.6" filter="url(#bl1)"/>
<path d="M448.80,362.00 L449.70,358.11 L450.60,358.99 L451.50,357.51 L452.40,357.98 L453.30,361.55 L454.20,362.71 L455.10,359.81 L456.00,358.58 L456.90,357.63 L457.80,353.11 L458.70,354.86 L459.60,354.13 L460.50,358.96 L461.40,360.61 L462.30,365.69 L463.20,360.72 L464.10,359.38 L465.00,358.41 L465.90,356.67 L466.80,356.43 L467.70,359.77 L468.60,362.71 L469.50,363.93 L470.40,368.04 L471.30,367.00 L472.20,364.74 L473.10,363.02 L474.00,361.71 L474.90,356.91 L475.80,358.31 L476.70,358.03 L477.60,357.85 L478.50,362.35 L479.40,362.71 L480.30,357.43 L481.20,358.45 L482.10,354.71 L483.00,352.31 L483.90,355.45 L484.80,357.49 L485.70,358.01 L486.60,362.54 L487.50,364.14 L488.40,358.52 L489.30,357.94 L490.20,358.73 L491.10,357.17 L492.00,357.01 L492.90,361.38 L493.80,363.10 L494.70,365.26 L495.60,368.32 L496.50,366.43 L497.40,363.58 L498.30,361.88 L499.20,358.74 L500.10,357.36 L501.00,361.15 L501.90,359.08 L502.80,358.34 L503.70,364.19 L504.60,359.74 L505.50,357.33 L506.40,355.57 L507.30,353.82 L508.20,351.87 L509.10,357.71 L510.00,358.04 L510.90,360.26 L511.80,362.80 L512.70,363.50 L513.60,357.99 L514.50,359.06 L515.40,356.72 L516.30,356.24 L517.20,357.61 L518.10,361.80 L519.00,363.05 L519.90,366.57 L520.80,369.25 L521.70,366.08 L522.60,363.99 L523.50,362.48 L524.40,357.48 L525.30,359.66 L525.30,368.51 L524.40,365.94 L523.50,373.10 L522.60,373.70 L521.70,376.42 L520.80,378.58 L519.90,376.14 L519.00,373.15 L518.10,370.89 L517.20,367.68 L516.30,365.34 L515.40,366.28 L514.50,368.25 L513.60,367.60 L512.70,372.86 L511.80,372.08 L510.90,369.11 L510.00,367.19 L509.10,366.62 L508.20,362.17 L507.30,364.15 L506.40,365.55 L505.50,367.49 L504.60,369.96 L503.70,373.37 L502.80,368.92 L501.90,368.89 L501.00,369.96 L500.10,367.45 L499.20,368.85 L498.30,371.69 L497.40,373.14 L496.50,376.34 L495.60,378.42 L494.70,374.61 L493.80,371.17 L492.90,371.85 L492.00,367.44 L491.10,366.19 L490.20,368.22 L489.30,367.05 L488.40,370.02 L487.50,373.38 L486.60,371.29 L485.70,368.39 L484.80,367.29 L483.90,365.08 L483.00,362.19 L482.10,364.77 L481.20,367.30 L480.30,367.10 L479.40,370.98 L478.50,371.73 L477.60,367.56 L476.70,369.88 L475.80,367.89 L474.90,367.98 L474.00,370.24 L473.10,372.58 L472.20,374.71 L471.30,378.37 L470.40,376.82 L469.50,372.14 L468.60,373.65 L467.70,371.18 L466.80,365.01 L465.90,366.92 L465.00,367.43 L464.10,369.59 L463.20,370.01 L462.30,373.73 L461.40,368.94 L460.50,368.21 L459.60,365.78 L458.70,364.00 L457.80,362.91 L456.90,365.98 L456.00,367.18 L455.10,368.93 L454.20,371.96 L453.30,369.96 L452.40,367.65 L451.50,369.18 L450.60,367.10 L449.70,368.02 L448.80,371.02 Z" fill="#efe44a" filter="url(#bl04)"/>
</g>
<rect x="526.7" y="329.5" width="74.40" height="74.20" fill="#000"/>
<clipPath id="tc13"><rect x="526.7" y="329.5" width="74.40" height="74.20"/></clipPath>
<g clip-path="url(#tc13)">
<line x1="539.51" y1="357.24" x2="540.19" y2="347.70" stroke="#a89a28" stroke-width="1.3" opacity="0.45" filter="url(#bl06)"/>
<line x1="533.37" y1="363.42" x2="533.37" y2="346.16" stroke="#a89a28" stroke-width="1.3" opacity="0.45" filter="url(#bl06)"/>
<line x1="547.31" y1="362.91" x2="547.28" y2="348.83" stroke="#a89a28" stroke-width="1.3" opacity="0.45" filter="url(#bl06)"/>
<line x1="546.37" y1="363.05" x2="546.43" y2="354.95" stroke="#a89a28" stroke-width="1.3" opacity="0.45" filter="url(#bl06)"/>
<line x1="526.7" y1="364.00" x2="601.1" y2="364.00" stroke="#8a8450" stroke-width="0.6"/>
<path d="M525.70,363.68 L526.60,369.09 L527.50,373.07 L528.40,369.87 L529.30,365.95 L530.20,364.41 L531.10,359.77 L532.00,356.15 L532.90,359.67 L533.80,358.33 L534.70,358.04 L535.60,359.77 L536.50,360.83 L537.40,357.00 L538.30,355.69 L539.20,354.82 L540.10,350.09 L541.00,351.46 L541.90,355.19 L542.80,358.79 L543.70,360.40 L544.60,364.01 L545.50,363.42 L546.40,359.84 L547.30,359.55 L548.20,358.32 L549.10,354.67 L550.00,359.55 L550.90,362.88 L551.80,364.79 L552.70,368.23 L553.60,372.41 L554.50,368.14 L555.40,366.40 L556.30,364.99 L557.20,359.49 L558.10,355.64 L559.00,359.67 L559.90,360.52 L560.80,358.29 L561.70,360.70 L562.60,360.35 L563.50,356.28 L564.40,354.85 L565.30,354.35 L566.20,350.02 L567.10,351.22 L568.00,355.99 L568.90,357.18 L569.80,359.61 L570.70,363.96 L571.60,362.49 L572.50,358.57 L573.40,358.11 L574.30,355.54 L575.20,354.75 L576.10,357.80 L577.00,362.27 L577.90,363.44 L578.80,369.42 L579.70,373.69 L580.60,368.63 L581.50,365.96 L582.40,364.91 L583.30,357.97 L584.20,354.81 L585.10,359.34 L586.00,359.20 L586.90,358.59 L587.80,360.26 L588.70,360.61 L589.60,357.41 L590.50,354.80 L591.40,354.99 L592.30,350.43 L593.20,352.98 L594.10,355.83 L595.00,358.38 L595.90,358.79 L596.80,364.37 L597.70,362.29 L598.60,359.33 L599.50,358.80 L600.40,358.21 L601.30,355.73 L601.30,363.03 L600.40,367.26 L599.50,366.97 L598.60,369.39 L597.70,371.72 L596.80,372.25 L595.90,366.68 L595.00,365.84 L594.10,363.36 L593.20,361.21 L592.30,359.67 L591.40,363.45 L590.50,364.51 L589.60,366.16 L588.70,368.84 L587.80,367.70 L586.90,365.90 L586.00,367.27 L585.10,366.61 L584.20,363.66 L583.30,367.30 L582.40,373.76 L581.50,374.98 L580.60,377.68 L579.70,382.06 L578.80,376.80 L577.90,372.44 L577.00,370.42 L576.10,366.80 L575.20,364.53 L574.30,365.85 L573.40,367.61 L572.50,365.93 L571.60,370.44 L570.70,372.20 L569.80,366.88 L568.90,364.35 L568.00,363.89 L567.10,359.45 L566.20,357.84 L565.30,361.95 L564.40,363.96 L563.50,366.46 L562.60,370.33 L561.70,368.96 L560.80,366.09 L559.90,368.38 L559.00,366.86 L558.10,366.15 L557.20,368.10 L556.30,373.04 L555.40,374.02 L554.50,379.57 L553.60,382.29 L552.70,377.41 L551.80,374.04 L550.90,370.78 L550.00,368.22 L549.10,361.89 L548.20,365.78 L547.30,367.69 L546.40,367.88 L545.50,370.93 L544.60,372.59 L543.70,368.03 L542.80,367.58 L541.90,363.06 L541.00,358.90 L540.10,358.96 L539.20,363.30 L538.30,364.16 L537.40,365.32 L536.50,368.62 L535.60,368.72 L534.70,366.30 L533.80,366.82 L532.90,368.19 L532.00,363.89 L531.10,367.63 L530.20,372.21 L529.30,373.78 L528.40,378.41 L527.50,381.12 L526.60,377.28 L525.70,373.48 Z" fill="#d8cc30" opacity="0.6" filter="url(#bl1)"/>
<path d="M525.70,363.68 L526.60,369.09 L527.50,373.07 L528.40,369.87 L529.30,365.95 L530.20,364.41 L531.10,359.77 L532.00,356.15 L532.90,359.67 L533.80,358.33 L534.70,358.04 L535.60,359.77 L536.50,360.83 L537.40,357.00 L538.30,355.69 L539.20,354.82 L540.10,350.09 L541.00,351.46 L541.90,355.19 L542.80,358.79 L543.70,360.40 L544.60,364.01 L545.50,363.42 L546.40,359.84 L547.30,359.55 L548.20,358.32 L549.10,354.67 L550.00,359.55 L550.90,362.88 L551.80,364.79 L552.70,368.23 L553.60,372.41 L554.50,368.14 L555.40,366.40 L556.30,364.99 L557.20,359.49 L558.10,355.64 L559.00,359.67 L559.90,360.52 L560.80,358.29 L561.70,360.70 L562.60,360.35 L563.50,356.28 L564.40,354.85 L565.30,354.35 L566.20,350.02 L567.10,351.22 L568.00,355.99 L568.90,357.18 L569.80,359.61 L570.70,363.96 L571.60,362.49 L572.50,358.57 L573.40,358.11 L574.30,355.54 L575.20,354.75 L576.10,357.80 L577.00,362.27 L577.90,363.44 L578.80,369.42 L579.70,373.69 L580.60,368.63 L581.50,365.96 L582.40,364.91 L583.30,357.97 L584.20,354.81 L585.10,359.34 L586.00,359.20 L586.90,358.59 L587.80,360.26 L588.70,360.61 L589.60,357.41 L590.50,354.80 L591.40,354.99 L592.30,350.43 L593.20,352.98 L594.10,355.83 L595.00,358.38 L595.90,358.79 L596.80,364.37 L597.70,362.29 L598.60,359.33 L599.50,358.80 L600.40,358.21 L601.30,355.73 L601.30,363.03 L600.40,367.26 L599.50,366.97 L598.60,369.39 L597.70,371.72 L596.80,372.25 L595.90,366.68 L595.00,365.84 L594.10,363.36 L593.20,361.21 L592.30,359.67 L591.40,363.45 L590.50,364.51 L589.60,366.16 L588.70,368.84 L587.80,367.70 L586.90,365.90 L586.00,367.27 L585.10,366.61 L584.20,363.66 L583.30,367.30 L582.40,373.76 L581.50,374.98 L580.60,377.68 L579.70,382.06 L578.80,376.80 L577.90,372.44 L577.00,370.42 L576.10,366.80 L575.20,364.53 L574.30,365.85 L573.40,367.61 L572.50,365.93 L571.60,370.44 L570.70,372.20 L569.80,366.88 L568.90,364.35 L568.00,363.89 L567.10,359.45 L566.20,357.84 L565.30,361.95 L564.40,363.96 L563.50,366.46 L562.60,370.33 L561.70,368.96 L560.80,366.09 L559.90,368.38 L559.00,366.86 L558.10,366.15 L557.20,368.10 L556.30,373.04 L555.40,374.02 L554.50,379.57 L553.60,382.29 L552.70,377.41 L551.80,374.04 L550.90,370.78 L550.00,368.22 L549.10,361.89 L548.20,365.78 L547.30,367.69 L546.40,367.88 L545.50,370.93 L544.60,372.59 L543.70,368.03 L542.80,367.58 L541.90,363.06 L541.00,358.90 L540.10,358.96 L539.20,363.30 L538.30,364.16 L537.40,365.32 L536.50,368.62 L535.60,368.72 L534.70,366.30 L533.80,366.82 L532.90,368.19 L532.00,363.89 L531.10,367.63 L530.20,372.21 L529.30,373.78 L528.40,378.41 L527.50,381.12 L526.60,377.28 L525.70,373.48 Z" fill="#efe44a" filter="url(#bl04)"/>
</g>
<rect x="603.6" y="329.5" width="74.50" height="74.20" fill="#000"/>
<clipPath id="tc14"><rect x="603.6" y="329.5" width="74.50" height="74.20"/></clipPath>
<g clip-path="url(#tc14)">
<line x1="639.90" y1="382.43" x2="640.17" y2="370.74" stroke="#a89a28" stroke-width="1.3" opacity="0.45" filter="url(#bl06)"/>
<line x1="672.30" y1="355.39" x2="671.65" y2="339.41" stroke="#a89a28" stroke-width="1.3" opacity="0.45" filter="url(#bl06)"/>
<line x1="608.23" y1="360.63" x2="608.24" y2="351.97" stroke="#a89a28" stroke-width="1.3" opacity="0.45" filter="url(#bl06)"/>
<line x1="615.62" y1="381.20" x2="615.80" y2="364.16" stroke="#a89a28" stroke-width="1.3" opacity="0.45" filter="url(#bl06)"/>
<line x1="627.79" y1="360.52" x2="627.59" y2="347.76" stroke="#a89a28" stroke-width="1.3" opacity="0.45" filter="url(#bl06)"/>
<line x1="603.6" y1="366.00" x2="678.1" y2="366.00" stroke="#8a8450" stroke-width="0.6"/>
<path d="M602.60,351.08 L603.50,355.20 L604.40,358.57 L605.30,358.63 L606.20,356.10 L607.10,351.72 L608.00,355.70 L608.90,358.92 L609.80,361.25 L610.70,366.86 L611.60,365.37 L612.50,368.20 L613.40,366.45 L614.30,372.06 L615.20,377.16 L616.10,377.95 L617.00,376.88 L617.90,373.50 L618.80,368.29 L619.70,360.00 L620.60,359.89 L621.50,357.82 L622.40,355.97 L623.30,353.45 L624.20,348.83 L625.10,348.33 L626.00,348.50 L626.90,352.53 L627.80,356.79 L628.70,359.44 L629.60,358.29 L630.50,355.99 L631.40,353.14 L632.30,357.77 L633.20,360.50 L634.10,361.79 L635.00,366.51 L635.90,367.80 L636.80,368.39 L637.70,368.50 L638.60,375.90 L639.50,375.68 L640.40,378.79 L641.30,374.61 L642.20,369.05 L643.10,364.22 L644.00,358.80 L644.90,356.48 L645.80,357.67 L646.70,354.80 L647.60,351.10 L648.50,349.84 L649.40,348.95 L650.30,350.87 L651.20,354.83 L652.10,357.45 L653.00,358.96 L653.90,357.16 L654.80,355.38 L655.70,353.46 L656.60,357.85 L657.50,359.78 L658.40,367.12 L659.30,365.76 L660.20,368.71 L661.10,368.82 L662.00,373.33 L662.90,376.40 L663.80,375.20 L664.70,377.00 L665.60,371.48 L666.50,367.45 L667.40,357.87 L668.30,358.72 L669.20,355.77 L670.10,355.36 L671.00,351.81 L671.90,350.57 L672.80,350.19 L673.70,347.50 L674.60,353.32 L675.50,355.18 L676.40,360.53 L677.30,357.46 L678.20,356.39 L679.10,354.17 L679.10,362.60 L678.20,366.03 L677.30,365.91 L676.40,368.82 L675.50,364.98 L674.60,361.50 L673.70,357.79 L672.80,360.34 L671.90,360.59 L671.00,362.47 L670.10,364.77 L669.20,365.32 L668.30,367.68 L667.40,367.20 L666.50,375.81 L665.60,382.03 L664.70,386.21 L663.80,385.54 L662.90,386.12 L662.00,382.02 L661.10,377.23 L660.20,377.37 L659.30,375.73 L658.40,375.38 L657.50,369.45 L656.60,367.39 L655.70,363.52 L654.80,364.78 L653.90,366.64 L653.00,367.50 L652.10,365.59 L651.20,362.64 L650.30,360.01 L649.40,358.24 L648.50,358.16 L647.60,359.55 L646.70,364.02 L645.80,365.28 L644.90,365.66 L644.00,368.10 L643.10,372.91 L642.20,378.66 L641.30,383.57 L640.40,387.51 L639.50,384.88 L638.60,383.95 L637.70,376.68 L636.80,376.95 L635.90,376.19 L635.00,376.24 L634.10,372.45 L633.20,369.62 L632.30,366.43 L631.40,362.80 L630.50,365.10 L629.60,367.93 L628.70,367.53 L627.80,367.38 L626.90,363.29 L626.00,357.37 L625.10,356.42 L624.20,359.99 L623.30,361.64 L622.40,365.58 L621.50,367.75 L620.60,369.96 L619.70,369.11 L618.80,376.73 L617.90,382.56 L617.00,386.70 L616.10,386.97 L615.20,386.97 L614.30,380.13 L613.40,375.23 L612.50,376.42 L611.60,373.12 L610.70,376.00 L609.80,369.32 L608.90,369.57 L608.00,364.45 L607.10,361.55 L606.20,365.30 L605.30,366.82 L604.40,369.05 L603.50,362.94 L602.60,359.51 Z" fill="#d8cc30" opacity="0.6" filter="url(#bl1)"/>
<path d="M602.60,351.08 L603.50,355.20 L604.40,358.57 L605.30,358.63 L606.20,356.10 L607.10,351.72 L608.00,355.70 L608.90,358.92 L609.80,361.25 L610.70,366.86 L611.60,365.37 L612.50,368.20 L613.40,366.45 L614.30,372.06 L615.20,377.16 L616.10,377.95 L617.00,376.88 L617.90,373.50 L618.80,368.29 L619.70,360.00 L620.60,359.89 L621.50,357.82 L622.40,355.97 L623.30,353.45 L624.20,348.83 L625.10,348.33 L626.00,348.50 L626.90,352.53 L627.80,356.79 L628.70,359.44 L629.60,358.29 L630.50,355.99 L631.40,353.14 L632.30,357.77 L633.20,360.50 L634.10,361.79 L635.00,366.51 L635.90,367.80 L636.80,368.39 L637.70,368.50 L638.60,375.90 L639.50,375.68 L640.40,378.79 L641.30,374.61 L642.20,369.05 L643.10,364.22 L644.00,358.80 L644.90,356.48 L645.80,357.67 L646.70,354.80 L647.60,351.10 L648.50,349.84 L649.40,348.95 L650.30,350.87 L651.20,354.83 L652.10,357.45 L653.00,358.96 L653.90,357.16 L654.80,355.38 L655.70,353.46 L656.60,357.85 L657.50,359.78 L658.40,367.12 L659.30,365.76 L660.20,368.71 L661.10,368.82 L662.00,373.33 L662.90,376.40 L663.80,375.20 L664.70,377.00 L665.60,371.48 L666.50,367.45 L667.40,357.87 L668.30,358.72 L669.20,355.77 L670.10,355.36 L671.00,351.81 L671.90,350.57 L672.80,350.19 L673.70,347.50 L674.60,353.32 L675.50,355.18 L676.40,360.53 L677.30,357.46 L678.20,356.39 L679.10,354.17 L679.10,362.60 L678.20,366.03 L677.30,365.91 L676.40,368.82 L675.50,364.98 L674.60,361.50 L673.70,357.79 L672.80,360.34 L671.90,360.59 L671.00,362.47 L670.10,364.77 L669.20,365.32 L668.30,367.68 L667.40,367.20 L666.50,375.81 L665.60,382.03 L664.70,386.21 L663.80,385.54 L662.90,386.12 L662.00,382.02 L661.10,377.23 L660.20,377.37 L659.30,375.73 L658.40,375.38 L657.50,369.45 L656.60,367.39 L655.70,363.52 L654.80,364.78 L653.90,366.64 L653.00,367.50 L652.10,365.59 L651.20,362.64 L650.30,360.01 L649.40,358.24 L648.50,358.16 L647.60,359.55 L646.70,364.02 L645.80,365.28 L644.90,365.66 L644.00,368.10 L643.10,372.91 L642.20,378.66 L641.30,383.57 L640.40,387.51 L639.50,384.88 L638.60,383.95 L637.70,376.68 L636.80,376.95 L635.90,376.19 L635.00,376.24 L634.10,372.45 L633.20,369.62 L632.30,366.43 L631.40,362.80 L630.50,365.10 L629.60,367.93 L628.70,367.53 L627.80,367.38 L626.90,363.29 L626.00,357.37 L625.10,356.42 L624.20,359.99 L623.30,361.64 L622.40,365.58 L621.50,367.75 L620.60,369.96 L619.70,369.11 L618.80,376.73 L617.90,382.56 L617.00,386.70 L616.10,386.97 L615.20,386.97 L614.30,380.13 L613.40,375.23 L612.50,376.42 L611.60,373.12 L610.70,376.00 L609.80,369.32 L608.90,369.57 L608.00,364.45 L607.10,361.55 L606.20,365.30 L605.30,366.82 L604.40,369.05 L603.50,362.94 L602.60,359.51 Z" fill="#efe44a" filter="url(#bl04)"/>
</g>
<text x="379.60" y="395.60" font-size="10.4" font-weight="bold" stroke="#fff" stroke-width="0.25" text-anchor="start" fill="#fff">e’</text>
<text x="610.20" y="388.20" font-size="10.4" font-weight="bold" stroke="#fff" stroke-width="0.25" text-anchor="start" fill="#fff">e’</text>
<text x="3.40" y="240.60" font-size="13" font-weight="bold" text-anchor="start" fill="#000">d</text>
<line x1="31.50" y1="271.60" x2="31.50" y2="393.10" stroke="#111" stroke-width="1.3"/>
<line x1="30.90" y1="392.50" x2="163.30" y2="392.50" stroke="#111" stroke-width="1.3"/>
<line x1="28.20" y1="392.50" x2="31.50" y2="392.50" stroke="#111" stroke-width="1.2"/>
<text x="26.80" y="397.24" font-size="11" font-weight="bold" stroke="#111" stroke-width="0.25" text-anchor="end" fill="#111">0</text>
<line x1="28.20" y1="362.43" x2="31.50" y2="362.43" stroke="#111" stroke-width="1.2"/>
<text x="26.80" y="367.16" font-size="11" font-weight="bold" stroke="#111" stroke-width="0.25" text-anchor="end" fill="#111">20</text>
<line x1="28.20" y1="332.35" x2="31.50" y2="332.35" stroke="#111" stroke-width="1.2"/>
<text x="26.80" y="337.09" font-size="11" font-weight="bold" stroke="#111" stroke-width="0.25" text-anchor="end" fill="#111">40</text>
<line x1="28.20" y1="302.27" x2="31.50" y2="302.27" stroke="#111" stroke-width="1.2"/>
<text x="26.80" y="307.01" font-size="11" font-weight="bold" stroke="#111" stroke-width="0.25" text-anchor="end" fill="#111">60</text>
<line x1="28.20" y1="272.20" x2="31.50" y2="272.20" stroke="#111" stroke-width="1.2"/>
<text x="26.80" y="276.94" font-size="11" font-weight="bold" stroke="#111" stroke-width="0.25" text-anchor="end" fill="#111">80</text>
<line x1="51.60" y1="392.50" x2="51.60" y2="395.80" stroke="#111" stroke-width="1.2"/>
<path d="M42.45,392.50 L42.45,285.55 L60.75,285.55 L60.75,392.50" stroke="#111111" stroke-width="1.3" fill="none"/>
<circle cx="44.10" cy="281.40" r="2.4" fill="#111111"/>
<circle cx="46.80" cy="284.00" r="2.4" fill="#111111"/>
<circle cx="49.50" cy="285.60" r="2.4" fill="#111111"/>
<circle cx="52.90" cy="283.70" r="2.4" fill="#111111"/>
<circle cx="56.40" cy="281.40" r="2.4" fill="#111111"/>
<circle cx="59.00" cy="283.10" r="2.4" fill="#111111"/>
<circle cx="56.40" cy="288.40" r="2.4" fill="#111111"/>
<circle cx="50.30" cy="285.80" r="2.4" fill="#111111"/>
<circle cx="53.50" cy="286.00" r="2.4" fill="#111111"/>
<line x1="51.60" y1="286.20" x2="51.60" y2="283.40" stroke="#111111" stroke-width="1.2"/>
<line x1="46.10" y1="283.40" x2="57.10" y2="283.40" stroke="#111111" stroke-width="1.2"/>
<line x1="46.10" y1="286.20" x2="57.10" y2="286.20" stroke="#111111" stroke-width="1.2"/>
<line x1="42.80" y1="285.60" x2="60.40" y2="285.60" stroke="#111111" stroke-width="1.3"/>
<line x1="82.20" y1="392.50" x2="82.20" y2="395.80" stroke="#111" stroke-width="1.2"/>
<path d="M73.05,392.50 L73.05,294.35 L91.35,294.35 L91.35,392.50" stroke="#b38c5c" stroke-width="1.3" fill="none"/>
<circle cx="74.80" cy="289.30" r="2.4" fill="#a87b45"/>
<circle cx="81.80" cy="290.10" r="2.4" fill="#a87b45"/>
<circle cx="89.70" cy="285.80" r="2.4" fill="#a87b45"/>
<circle cx="89.70" cy="291.90" r="2.4" fill="#a87b45"/>
<circle cx="74.80" cy="295.40" r="2.4" fill="#a87b45"/>
<circle cx="80.00" cy="296.30" r="2.4" fill="#a87b45"/>
<circle cx="84.40" cy="296.30" r="2.4" fill="#a87b45"/>
<circle cx="89.70" cy="296.30" r="2.4" fill="#a87b45"/>
<circle cx="81.80" cy="303.30" r="2.4" fill="#a87b45"/>
<line x1="82.20" y1="296.00" x2="82.20" y2="291.40" stroke="#a87b45" stroke-width="1.2"/>
<line x1="76.70" y1="291.40" x2="87.70" y2="291.40" stroke="#a87b45" stroke-width="1.2"/>
<line x1="76.70" y1="296.00" x2="87.70" y2="296.00" stroke="#a87b45" stroke-width="1.2"/>
<line x1="73.40" y1="294.40" x2="91.00" y2="294.40" stroke="#a87b45" stroke-width="1.3"/>
<line x1="112.90" y1="392.50" x2="112.90" y2="395.80" stroke="#111" stroke-width="1.2"/>
<path d="M103.75,392.50 L103.75,291.35 L122.05,291.35 L122.05,392.50" stroke="#cf8ac7" stroke-width="1.3" fill="none"/>
<circle cx="105.40" cy="284.90" r="2.4" fill="#bd60b3"/>
<circle cx="110.70" cy="283.10" r="2.4" fill="#bd60b3"/>
<circle cx="115.10" cy="286.60" r="2.4" fill="#bd60b3"/>
<circle cx="120.30" cy="284.00" r="2.4" fill="#bd60b3"/>
<circle cx="108.10" cy="292.80" r="2.4" fill="#bd60b3"/>
<circle cx="113.30" cy="289.30" r="2.4" fill="#bd60b3"/>
<circle cx="117.70" cy="291.90" r="2.4" fill="#bd60b3"/>
<circle cx="109.00" cy="299.80" r="2.4" fill="#bd60b3"/>
<circle cx="115.10" cy="298.00" r="2.4" fill="#bd60b3"/>
<circle cx="111.60" cy="288.40" r="2.4" fill="#bd60b3"/>
<line x1="112.90" y1="293.00" x2="112.90" y2="288.40" stroke="#bd60b3" stroke-width="1.2"/>
<line x1="107.40" y1="288.40" x2="118.40" y2="288.40" stroke="#bd60b3" stroke-width="1.2"/>
<line x1="107.40" y1="293.00" x2="118.40" y2="293.00" stroke="#bd60b3" stroke-width="1.2"/>
<line x1="104.10" y1="291.40" x2="121.70" y2="291.40" stroke="#bd60b3" stroke-width="1.3"/>
<line x1="143.50" y1="392.50" x2="143.50" y2="395.80" stroke="#111" stroke-width="1.2"/>
<path d="M134.35,392.50 L134.35,288.15 L152.65,288.15 L152.65,392.50" stroke="#ee5048" stroke-width="1.3" fill="none"/>
<circle cx="135.20" cy="284.00" r="2.4" fill="#e82a1f"/>
<circle cx="139.60" cy="283.10" r="2.4" fill="#e82a1f"/>
<circle cx="144.90" cy="284.00" r="2.4" fill="#e82a1f"/>
<circle cx="150.10" cy="283.10" r="2.4" fill="#e82a1f"/>
<circle cx="137.90" cy="287.50" r="2.4" fill="#e82a1f"/>
<circle cx="143.10" cy="288.40" r="2.4" fill="#e82a1f"/>
<circle cx="149.20" cy="287.50" r="2.4" fill="#e82a1f"/>
<circle cx="143.10" cy="298.90" r="2.4" fill="#e82a1f"/>
<circle cx="146.00" cy="285.50" r="2.4" fill="#e82a1f"/>
<line x1="143.50" y1="289.40" x2="143.50" y2="285.80" stroke="#e82a1f" stroke-width="1.2"/>
<line x1="138.00" y1="285.80" x2="149.00" y2="285.80" stroke="#e82a1f" stroke-width="1.2"/>
<line x1="138.00" y1="289.40" x2="149.00" y2="289.40" stroke="#e82a1f" stroke-width="1.2"/>
<line x1="134.70" y1="288.20" x2="152.30" y2="288.20" stroke="#e82a1f" stroke-width="1.3"/>
<text x="0.00" y="0.00" font-size="9.9" font-weight="bold" stroke="#111" stroke-width="0.25" text-anchor="end" fill="#111" transform="translate(56.10,403.20) rotate(-45)">Control</text>
<text x="0.00" y="0.00" font-size="9.9" font-weight="bold" stroke="#111" stroke-width="0.25" text-anchor="end" fill="#111" transform="translate(86.70,403.20) rotate(-45)">mTAC</text>
<text x="0.00" y="0.00" font-size="9.9" font-weight="bold" stroke="#111" stroke-width="0.25" text-anchor="end" fill="#111" transform="translate(117.40,403.20) rotate(-45)">HFD</text>
<text x="0.00" y="0.00" font-size="8.8" font-weight="bold" stroke="#111" stroke-width="0.25" text-anchor="end" fill="#111" transform="translate(152.90,403.00) rotate(-45)">HFD+mTAC</text>
<text x="0.00" y="0.00" font-size="10.7" font-weight="bold" stroke="#111" stroke-width="0.25" text-anchor="middle" fill="#111" transform="translate(9.00,326.50) rotate(-90)">Ejection Fraction (%)</text>
<path d="M50.80,245.90 L50.80,240.20 L146.70,240.20 L146.70,245.90" stroke="#111" stroke-width="1.2" fill="none"/>
<text x="100.10" y="237.90" font-size="9.8" text-anchor="middle" fill="#111" stroke="#111" stroke-width="0.25" textLength="30.86" lengthAdjust="spacingAndGlyphs">P=0.76</text>
<path d="M50.80,258.20 L50.80,254.40 L113.40,254.40 L113.40,258.20" stroke="#111" stroke-width="1.2" fill="none"/>
<text x="85.35" y="251.60" font-size="9.8" text-anchor="middle" fill="#111" stroke="#111" stroke-width="0.25" textLength="36.23" lengthAdjust="spacingAndGlyphs">P=0.137</text>
<path d="M50.80,275.30 L50.80,271.50 L85.00,271.50 L85.00,275.30" stroke="#111" stroke-width="1.2" fill="none"/>
<text x="67.35" y="268.30" font-size="9.8" text-anchor="middle" fill="#111" stroke="#111" stroke-width="0.25" textLength="36.23" lengthAdjust="spacingAndGlyphs">P=0.005</text>
<path d="M105.90,275.30 L105.90,271.50 L151.00,271.50 L151.00,275.30" stroke="#111" stroke-width="1.2" fill="none"/>
<text x="130.60" y="268.30" font-size="9.8" text-anchor="middle" fill="#111" stroke="#111" stroke-width="0.25" textLength="30.86" lengthAdjust="spacingAndGlyphs">P=0.49</text>
<text x="181.90" y="240.50" font-size="13" font-weight="bold" text-anchor="start" fill="#000">e</text>
<line x1="214.20" y1="274.80" x2="214.20" y2="394.90" stroke="#111" stroke-width="1.3"/>
<line x1="213.60" y1="394.30" x2="344.00" y2="394.30" stroke="#111" stroke-width="1.3"/>
<line x1="210.90" y1="394.30" x2="214.20" y2="394.30" stroke="#111" stroke-width="1.2"/>
<text x="209.50" y="399.04" font-size="11" font-weight="bold" stroke="#111" stroke-width="0.25" text-anchor="end" fill="#111">0.0</text>
<line x1="210.90" y1="364.57" x2="214.20" y2="364.57" stroke="#111" stroke-width="1.2"/>
<text x="209.50" y="369.31" font-size="11" font-weight="bold" stroke="#111" stroke-width="0.25" text-anchor="end" fill="#111">0.2</text>
<line x1="210.90" y1="334.85" x2="214.20" y2="334.85" stroke="#111" stroke-width="1.2"/>
<text x="209.50" y="339.59" font-size="11" font-weight="bold" stroke="#111" stroke-width="0.25" text-anchor="end" fill="#111">0.4</text>
<line x1="210.90" y1="305.12" x2="214.20" y2="305.12" stroke="#111" stroke-width="1.2"/>
<text x="209.50" y="309.86" font-size="11" font-weight="bold" stroke="#111" stroke-width="0.25" text-anchor="end" fill="#111">0.6</text>
<line x1="210.90" y1="275.40" x2="214.20" y2="275.40" stroke="#111" stroke-width="1.2"/>
<text x="209.50" y="280.14" font-size="11" font-weight="bold" stroke="#111" stroke-width="0.25" text-anchor="end" fill="#111">0.8</text>
<line x1="212.00" y1="379.44" x2="214.20" y2="379.44" stroke="#111" stroke-width="1.0"/>
<line x1="212.00" y1="349.71" x2="214.20" y2="349.71" stroke="#111" stroke-width="1.0"/>
<line x1="212.00" y1="319.99" x2="214.20" y2="319.99" stroke="#111" stroke-width="1.0"/>
<line x1="212.00" y1="290.26" x2="214.20" y2="290.26" stroke="#111" stroke-width="1.0"/>
<line x1="234.30" y1="394.30" x2="234.30" y2="397.60" stroke="#111" stroke-width="1.2"/>
<path d="M225.25,394.30 L225.25,300.05 L243.35,300.05 L243.35,394.30" stroke="#111111" stroke-width="1.3" fill="none"/>
<circle cx="227.00" cy="298.50" r="2.4" fill="#111111"/>
<circle cx="230.00" cy="297.00" r="2.4" fill="#111111"/>
<circle cx="233.50" cy="296.50" r="2.4" fill="#111111"/>
<circle cx="237.00" cy="297.50" r="2.4" fill="#111111"/>
<circle cx="240.50" cy="297.00" r="2.4" fill="#111111"/>
<circle cx="242.00" cy="299.50" r="2.4" fill="#111111"/>
<circle cx="237.00" cy="303.50" r="2.4" fill="#111111"/>
<circle cx="231.00" cy="300.00" r="2.4" fill="#111111"/>
<circle cx="234.50" cy="300.50" r="2.4" fill="#111111"/>
<line x1="234.30" y1="300.50" x2="234.30" y2="298.20" stroke="#111111" stroke-width="1.2"/>
<line x1="228.80" y1="298.20" x2="239.80" y2="298.20" stroke="#111111" stroke-width="1.2"/>
<line x1="228.80" y1="300.50" x2="239.80" y2="300.50" stroke="#111111" stroke-width="1.2"/>
<line x1="225.60" y1="300.10" x2="243.00" y2="300.10" stroke="#111111" stroke-width="1.3"/>
<line x1="264.00" y1="394.30" x2="264.00" y2="397.60" stroke="#111" stroke-width="1.2"/>
<path d="M254.95,394.30 L254.95,309.15 L273.05,309.15 L273.05,394.30" stroke="#b38c5c" stroke-width="1.3" fill="none"/>
<circle cx="258.90" cy="299.90" r="2.4" fill="#a87b45"/>
<circle cx="269.30" cy="299.90" r="2.4" fill="#a87b45"/>
<circle cx="263.80" cy="304.30" r="2.4" fill="#a87b45"/>
<circle cx="256.40" cy="309.30" r="2.4" fill="#a87b45"/>
<circle cx="264.30" cy="310.30" r="2.4" fill="#a87b45"/>
<circle cx="269.30" cy="309.30" r="2.4" fill="#a87b45"/>
<circle cx="260.00" cy="311.00" r="2.4" fill="#a87b45"/>
<circle cx="263.80" cy="318.50" r="2.4" fill="#a87b45"/>
<line x1="264.00" y1="311.50" x2="264.00" y2="305.50" stroke="#a87b45" stroke-width="1.2"/>
<line x1="258.50" y1="305.50" x2="269.50" y2="305.50" stroke="#a87b45" stroke-width="1.2"/>
<line x1="258.50" y1="311.50" x2="269.50" y2="311.50" stroke="#a87b45" stroke-width="1.2"/>
<line x1="255.30" y1="309.20" x2="272.70" y2="309.20" stroke="#a87b45" stroke-width="1.3"/>
<line x1="294.40" y1="394.30" x2="294.40" y2="397.60" stroke="#111" stroke-width="1.2"/>
<path d="M285.35,394.30 L285.35,297.55 L303.45,297.55 L303.45,394.30" stroke="#cf8ac7" stroke-width="1.3" fill="none"/>
<circle cx="294.10" cy="281.20" r="2.4" fill="#bd60b3"/>
<circle cx="294.10" cy="287.40" r="2.4" fill="#bd60b3"/>
<circle cx="288.60" cy="292.40" r="2.4" fill="#bd60b3"/>
<circle cx="299.00" cy="292.40" r="2.4" fill="#bd60b3"/>
<circle cx="286.70" cy="298.60" r="2.4" fill="#bd60b3"/>
<circle cx="294.10" cy="298.60" r="2.4" fill="#bd60b3"/>
<circle cx="301.50" cy="298.60" r="2.4" fill="#bd60b3"/>
<circle cx="288.60" cy="303.60" r="2.4" fill="#bd60b3"/>
<circle cx="294.10" cy="310.30" r="2.4" fill="#bd60b3"/>
<line x1="294.40" y1="300.50" x2="294.40" y2="293.30" stroke="#bd60b3" stroke-width="1.2"/>
<line x1="288.90" y1="293.30" x2="299.90" y2="293.30" stroke="#bd60b3" stroke-width="1.2"/>
<line x1="288.90" y1="300.50" x2="299.90" y2="300.50" stroke="#bd60b3" stroke-width="1.2"/>
<line x1="285.70" y1="297.60" x2="303.10" y2="297.60" stroke="#bd60b3" stroke-width="1.3"/>
<line x1="324.20" y1="394.30" x2="324.20" y2="397.60" stroke="#111" stroke-width="1.2"/>
<path d="M315.15,394.30 L315.15,290.55 L333.25,290.55 L333.25,394.30" stroke="#ee5048" stroke-width="1.3" fill="none"/>
<circle cx="325.10" cy="276.60" r="2.4" fill="#e82a1f"/>
<circle cx="320.20" cy="278.40" r="2.4" fill="#e82a1f"/>
<circle cx="318.90" cy="284.60" r="2.4" fill="#e82a1f"/>
<circle cx="315.20" cy="290.80" r="2.4" fill="#e82a1f"/>
<circle cx="321.00" cy="291.00" r="2.4" fill="#e82a1f"/>
<circle cx="327.00" cy="291.50" r="2.4" fill="#e82a1f"/>
<circle cx="331.00" cy="290.50" r="2.4" fill="#e82a1f"/>
<circle cx="317.00" cy="296.00" r="2.4" fill="#e82a1f"/>
<circle cx="322.00" cy="297.00" r="2.4" fill="#e82a1f"/>
<circle cx="328.00" cy="296.50" r="2.4" fill="#e82a1f"/>
<circle cx="324.00" cy="294.00" r="2.4" fill="#e82a1f"/>
<line x1="324.20" y1="292.50" x2="324.20" y2="287.30" stroke="#e82a1f" stroke-width="1.2"/>
<line x1="318.70" y1="287.30" x2="329.70" y2="287.30" stroke="#e82a1f" stroke-width="1.2"/>
<line x1="318.70" y1="292.50" x2="329.70" y2="292.50" stroke="#e82a1f" stroke-width="1.2"/>
<line x1="315.50" y1="290.60" x2="332.90" y2="290.60" stroke="#e82a1f" stroke-width="1.3"/>
<text x="0.00" y="0.00" font-size="9.9" font-weight="bold" stroke="#111" stroke-width="0.25" text-anchor="end" fill="#111" transform="translate(238.80,404.20) rotate(-45)">Control</text>
<text x="0.00" y="0.00" font-size="9.9" font-weight="bold" stroke="#111" stroke-width="0.25" text-anchor="end" fill="#111" transform="translate(266.10,403.40) rotate(-45)">mTAC</text>
<text x="0.00" y="0.00" font-size="9.9" font-weight="bold" stroke="#111" stroke-width="0.25" text-anchor="end" fill="#111" transform="translate(297.70,403.40) rotate(-45)">HFD</text>
<text x="0.00" y="0.00" font-size="8.8" font-weight="bold" stroke="#111" stroke-width="0.25" text-anchor="end" fill="#111" transform="translate(333.60,402.80) rotate(-45)">HFD+mTAC</text>
<text x="0.00" y="0.00" font-size="10.7" font-weight="bold" stroke="#111" stroke-width="0.25" text-anchor="middle" fill="#111" transform="translate(190.50,322.20) rotate(-90)">LVPW;d (mm)</text>
<path d="M282.40,249.10 L282.40,245.40 L326.40,245.40 L326.40,249.10" stroke="#111" stroke-width="1.2" fill="none"/>
<text x="304.30" y="243.60" font-size="9.8" text-anchor="middle" fill="#111" stroke="#111" stroke-width="0.25" textLength="36.23" lengthAdjust="spacingAndGlyphs">P=0.169</text>
<path d="M230.80,266.00 L230.80,261.70 L325.60,261.70 L325.60,266.00" stroke="#111" stroke-width="1.2" fill="none"/>
<text x="284.80" y="259.30" font-size="9.8" text-anchor="middle" fill="#111" stroke="#111" stroke-width="0.25" textLength="41.60" lengthAdjust="spacingAndGlyphs">P=0.0087</text>
<path d="M230.80,275.90 L230.80,272.20 L292.40,272.20 L292.40,275.90" stroke="#111" stroke-width="1.2" fill="none"/>
<text x="263.10" y="270.40" font-size="9.8" text-anchor="middle" fill="#111" stroke="#111" stroke-width="0.25" textLength="30.86" lengthAdjust="spacingAndGlyphs">P=0.53</text>
<path d="M230.80,291.50 L230.80,288.30 L264.30,288.30 L264.30,291.50" stroke="#111" stroke-width="1.2" fill="none"/>
<text x="247.90" y="287.10" font-size="9.8" text-anchor="middle" fill="#111" stroke="#111" stroke-width="0.25" textLength="36.23" lengthAdjust="spacingAndGlyphs">P=0.057</text>
<text x="4.30" y="458.00" font-size="13" font-weight="bold" text-anchor="start" fill="#000">g</text>
<line x1="33.60" y1="487.40" x2="33.60" y2="609.10" stroke="#111" stroke-width="1.3"/>
<line x1="33.00" y1="608.50" x2="165.80" y2="608.50" stroke="#111" stroke-width="1.3"/>
<line x1="30.30" y1="608.50" x2="33.60" y2="608.50" stroke="#111" stroke-width="1.2"/>
<text x="28.90" y="613.24" font-size="11" font-weight="bold" stroke="#111" stroke-width="0.25" text-anchor="end" fill="#111">0</text>
<line x1="30.30" y1="578.38" x2="33.60" y2="578.38" stroke="#111" stroke-width="1.2"/>
<text x="28.90" y="583.11" font-size="11" font-weight="bold" stroke="#111" stroke-width="0.25" text-anchor="end" fill="#111">10</text>
<line x1="30.30" y1="548.25" x2="33.60" y2="548.25" stroke="#111" stroke-width="1.2"/>
<text x="28.90" y="552.99" font-size="11" font-weight="bold" stroke="#111" stroke-width="0.25" text-anchor="end" fill="#111">20</text>
<line x1="30.30" y1="518.12" x2="33.60" y2="518.12" stroke="#111" stroke-width="1.2"/>
<text x="28.90" y="522.86" font-size="11" font-weight="bold" stroke="#111" stroke-width="0.25" text-anchor="end" fill="#111">30</text>
<line x1="30.30" y1="488.00" x2="33.60" y2="488.00" stroke="#111" stroke-width="1.2"/>
<text x="28.90" y="492.74" font-size="11" font-weight="bold" stroke="#111" stroke-width="0.25" text-anchor="end" fill="#111">40</text>
<line x1="31.40" y1="593.44" x2="33.60" y2="593.44" stroke="#111" stroke-width="1.0"/>
<line x1="31.40" y1="563.31" x2="33.60" y2="563.31" stroke="#111" stroke-width="1.0"/>
<line x1="31.40" y1="533.19" x2="33.60" y2="533.19" stroke="#111" stroke-width="1.0"/>
<line x1="31.40" y1="503.06" x2="33.60" y2="503.06" stroke="#111" stroke-width="1.0"/>
<line x1="54.60" y1="608.50" x2="54.60" y2="611.80" stroke="#111" stroke-width="1.2"/>
<path d="M45.35,608.50 L45.35,532.95 L63.85,532.95 L63.85,608.50" stroke="#111111" stroke-width="1.3" fill="none"/>
<circle cx="54.10" cy="516.90" r="2.4" fill="#111111"/>
<circle cx="54.10" cy="526.80" r="2.4" fill="#111111"/>
<circle cx="47.20" cy="532.30" r="2.4" fill="#111111"/>
<circle cx="59.60" cy="531.00" r="2.4" fill="#111111"/>
<circle cx="62.00" cy="535.20" r="2.4" fill="#111111"/>
<circle cx="45.90" cy="542.20" r="2.4" fill="#111111"/>
<circle cx="54.10" cy="539.70" r="2.4" fill="#111111"/>
<circle cx="62.00" cy="542.20" r="2.4" fill="#111111"/>
<line x1="54.60" y1="535.50" x2="54.60" y2="528.80" stroke="#111111" stroke-width="1.2"/>
<line x1="49.10" y1="528.80" x2="60.10" y2="528.80" stroke="#111111" stroke-width="1.2"/>
<line x1="49.10" y1="535.50" x2="60.10" y2="535.50" stroke="#111111" stroke-width="1.2"/>
<line x1="45.70" y1="533.00" x2="63.50" y2="533.00" stroke="#111111" stroke-width="1.3"/>
<line x1="84.90" y1="608.50" x2="84.90" y2="611.80" stroke="#111" stroke-width="1.2"/>
<path d="M75.65,608.50 L75.65,524.25 L94.15,524.25 L94.15,608.50" stroke="#b38c5c" stroke-width="1.3" fill="none"/>
<circle cx="84.90" cy="499.60" r="2.4" fill="#a87b45"/>
<circle cx="84.90" cy="507.00" r="2.4" fill="#a87b45"/>
<circle cx="80.70" cy="518.60" r="2.4" fill="#a87b45"/>
<circle cx="88.10" cy="519.40" r="2.4" fill="#a87b45"/>
<circle cx="76.90" cy="529.30" r="2.4" fill="#a87b45"/>
<circle cx="84.40" cy="531.00" r="2.4" fill="#a87b45"/>
<circle cx="92.30" cy="530.30" r="2.4" fill="#a87b45"/>
<circle cx="84.40" cy="551.40" r="2.4" fill="#a87b45"/>
<line x1="84.90" y1="530.00" x2="84.90" y2="517.50" stroke="#a87b45" stroke-width="1.2"/>
<line x1="79.40" y1="517.50" x2="90.40" y2="517.50" stroke="#a87b45" stroke-width="1.2"/>
<line x1="79.40" y1="530.00" x2="90.40" y2="530.00" stroke="#a87b45" stroke-width="1.2"/>
<line x1="76.00" y1="524.30" x2="93.80" y2="524.30" stroke="#a87b45" stroke-width="1.3"/>
<line x1="115.40" y1="608.50" x2="115.40" y2="611.80" stroke="#111" stroke-width="1.2"/>
<path d="M106.15,608.50 L106.15,519.25 L124.65,519.25 L124.65,608.50" stroke="#cf8ac7" stroke-width="1.3" fill="none"/>
<circle cx="107.20" cy="511.20" r="2.4" fill="#bd60b3"/>
<circle cx="115.40" cy="508.70" r="2.4" fill="#bd60b3"/>
<circle cx="122.90" cy="507.40" r="2.4" fill="#bd60b3"/>
<circle cx="106.70" cy="517.40" r="2.4" fill="#bd60b3"/>
<circle cx="114.70" cy="516.90" r="2.4" fill="#bd60b3"/>
<circle cx="122.90" cy="516.90" r="2.4" fill="#bd60b3"/>
<circle cx="118.00" cy="521.00" r="2.4" fill="#bd60b3"/>
<circle cx="111.70" cy="532.30" r="2.4" fill="#bd60b3"/>
<circle cx="119.10" cy="532.30" r="2.4" fill="#bd60b3"/>
<circle cx="110.00" cy="522.00" r="2.4" fill="#bd60b3"/>
<line x1="115.40" y1="522.00" x2="115.40" y2="515.50" stroke="#bd60b3" stroke-width="1.2"/>
<line x1="109.90" y1="515.50" x2="120.90" y2="515.50" stroke="#bd60b3" stroke-width="1.2"/>
<line x1="109.90" y1="522.00" x2="120.90" y2="522.00" stroke="#bd60b3" stroke-width="1.2"/>
<line x1="106.50" y1="519.30" x2="124.30" y2="519.30" stroke="#bd60b3" stroke-width="1.3"/>
<line x1="145.70" y1="608.50" x2="145.70" y2="611.80" stroke="#111" stroke-width="1.2"/>
<path d="M136.45,608.50 L136.45,504.65 L154.95,504.65 L154.95,608.50" stroke="#ee5048" stroke-width="1.3" fill="none"/>
<circle cx="142.70" cy="492.10" r="2.4" fill="#e82a1f"/>
<circle cx="147.70" cy="490.90" r="2.4" fill="#e82a1f"/>
<circle cx="137.80" cy="499.60" r="2.4" fill="#e82a1f"/>
<circle cx="145.20" cy="500.80" r="2.4" fill="#e82a1f"/>
<circle cx="153.90" cy="500.80" r="2.4" fill="#e82a1f"/>
<circle cx="140.20" cy="505.80" r="2.4" fill="#e82a1f"/>
<circle cx="148.90" cy="507.00" r="2.4" fill="#e82a1f"/>
<circle cx="144.00" cy="510.70" r="2.4" fill="#e82a1f"/>
<circle cx="147.70" cy="514.50" r="2.4" fill="#e82a1f"/>
<circle cx="145.90" cy="519.90" r="2.4" fill="#e82a1f"/>
<circle cx="151.00" cy="503.00" r="2.4" fill="#e82a1f"/>
<line x1="145.70" y1="506.50" x2="145.70" y2="501.50" stroke="#e82a1f" stroke-width="1.2"/>
<line x1="140.20" y1="501.50" x2="151.20" y2="501.50" stroke="#e82a1f" stroke-width="1.2"/>
<line x1="140.20" y1="506.50" x2="151.20" y2="506.50" stroke="#e82a1f" stroke-width="1.2"/>
<line x1="136.80" y1="504.70" x2="154.60" y2="504.70" stroke="#e82a1f" stroke-width="1.3"/>
<text x="0.00" y="0.00" font-size="9.9" font-weight="bold" stroke="#111" stroke-width="0.25" text-anchor="end" fill="#111" transform="translate(58.50,619.00) rotate(-45)">Control</text>
<text x="0.00" y="0.00" font-size="9.9" font-weight="bold" stroke="#111" stroke-width="0.25" text-anchor="end" fill="#111" transform="translate(88.40,619.00) rotate(-45)">mTAC</text>
<text x="0.00" y="0.00" font-size="9.9" font-weight="bold" stroke="#111" stroke-width="0.25" text-anchor="end" fill="#111" transform="translate(117.90,619.00) rotate(-45)">HFD</text>
<text x="0.00" y="0.00" font-size="8.8" font-weight="bold" stroke="#111" stroke-width="0.25" text-anchor="end" fill="#111" transform="translate(154.90,617.00) rotate(-45)">HFD+mTAC</text>
<text x="0.00" y="0.00" font-size="10.7" font-weight="bold" stroke="#111" stroke-width="0.25" text-anchor="middle" fill="#111" transform="translate(15.00,543.50) rotate(-90)">E/e’</text>
<path d="M51.40,468.50 L51.40,464.10 L146.90,464.10 L146.90,468.50" stroke="#111" stroke-width="1.2" fill="none"/>
<text x="99.65" y="461.80" font-size="9.8" text-anchor="middle" fill="#111" stroke="#111" stroke-width="0.25" textLength="41.60" lengthAdjust="spacingAndGlyphs">P&lt;0.0001</text>
<path d="M51.40,481.00 L51.40,477.20 L113.40,477.20 L113.40,481.00" stroke="#111" stroke-width="1.2" fill="none"/>
<text x="85.25" y="474.70" font-size="9.8" text-anchor="middle" fill="#111" stroke="#111" stroke-width="0.25" textLength="36.23" lengthAdjust="spacingAndGlyphs">P=0.027</text>
<path d="M51.40,495.10 L51.40,491.40 L85.60,491.40 L85.60,495.10" stroke="#111" stroke-width="1.2" fill="none"/>
<text x="71.75" y="487.90" font-size="9.8" text-anchor="middle" fill="#111" stroke="#111" stroke-width="0.25" textLength="30.86" lengthAdjust="spacingAndGlyphs">P=0.20</text>
<path d="M108.50,491.40 L108.50,487.20 L153.10,487.20 L153.10,491.40" stroke="#111" stroke-width="1.2" fill="none"/>
<text x="134.05" y="484.20" font-size="9.8" text-anchor="middle" fill="#111" stroke="#111" stroke-width="0.25" textLength="36.23" lengthAdjust="spacingAndGlyphs">P=0.009</text>
<text x="172.20" y="461.40" font-size="13" font-weight="bold" text-anchor="start" fill="#000">h</text>
<line x1="196.10" y1="483.30" x2="196.10" y2="609.10" stroke="#111" stroke-width="1.3"/>
<line x1="195.50" y1="608.50" x2="332.60" y2="608.50" stroke="#111" stroke-width="1.3"/>
<line x1="192.10" y1="608.50" x2="196.10" y2="608.50" stroke="#111" stroke-width="1.2"/>
<text x="189.80" y="612.24" font-size="11" font-weight="bold" stroke="#111" stroke-width="0.25" text-anchor="end" fill="#111">0</text>
<line x1="192.10" y1="583.58" x2="196.10" y2="583.58" stroke="#111" stroke-width="1.2"/>
<text x="189.80" y="587.32" font-size="11" font-weight="bold" stroke="#111" stroke-width="0.25" text-anchor="end" fill="#111">1</text>
<line x1="192.10" y1="558.66" x2="196.10" y2="558.66" stroke="#111" stroke-width="1.2"/>
<text x="189.80" y="562.40" font-size="11" font-weight="bold" stroke="#111" stroke-width="0.25" text-anchor="end" fill="#111">2</text>
<line x1="192.10" y1="533.74" x2="196.10" y2="533.74" stroke="#111" stroke-width="1.2"/>
<text x="189.80" y="537.48" font-size="11" font-weight="bold" stroke="#111" stroke-width="0.25" text-anchor="end" fill="#111">3</text>
<line x1="192.10" y1="508.82" x2="196.10" y2="508.82" stroke="#111" stroke-width="1.2"/>
<text x="189.80" y="512.56" font-size="11" font-weight="bold" stroke="#111" stroke-width="0.25" text-anchor="end" fill="#111">4</text>
<line x1="192.10" y1="483.90" x2="196.10" y2="483.90" stroke="#111" stroke-width="1.2"/>
<text x="189.80" y="487.64" font-size="11" font-weight="bold" stroke="#111" stroke-width="0.25" text-anchor="end" fill="#111">5</text>
<line x1="216.80" y1="608.50" x2="216.80" y2="611.80" stroke="#111" stroke-width="1.2"/>
<path d="M207.15,608.50 L207.15,563.35 L226.45,563.35 L226.45,608.50" stroke="#111111" stroke-width="1.3" fill="none"/>
<circle cx="208.50" cy="558.50" r="2.4" fill="#111111"/>
<circle cx="215.90" cy="557.20" r="2.4" fill="#111111"/>
<circle cx="222.10" cy="556.00" r="2.4" fill="#111111"/>
<circle cx="225.10" cy="554.70" r="2.4" fill="#111111"/>
<circle cx="208.50" cy="570.90" r="2.4" fill="#111111"/>
<circle cx="215.90" cy="569.60" r="2.4" fill="#111111"/>
<circle cx="225.10" cy="569.60" r="2.4" fill="#111111"/>
<circle cx="212.00" cy="563.00" r="2.4" fill="#111111"/>
<line x1="216.80" y1="565.00" x2="216.80" y2="560.30" stroke="#111111" stroke-width="1.2"/>
<line x1="211.30" y1="560.30" x2="222.30" y2="560.30" stroke="#111111" stroke-width="1.2"/>
<line x1="211.30" y1="565.00" x2="222.30" y2="565.00" stroke="#111111" stroke-width="1.2"/>
<line x1="207.50" y1="563.40" x2="226.10" y2="563.40" stroke="#111111" stroke-width="1.3"/>
<line x1="248.50" y1="608.50" x2="248.50" y2="611.80" stroke="#111" stroke-width="1.2"/>
<path d="M238.85,608.50 L238.85,567.85 L258.15,567.85 L258.15,608.50" stroke="#b38c5c" stroke-width="1.3" fill="none"/>
<circle cx="239.50" cy="568.40" r="2.4" fill="#a87b45"/>
<circle cx="244.50" cy="567.20" r="2.4" fill="#a87b45"/>
<circle cx="249.40" cy="567.20" r="2.4" fill="#a87b45"/>
<circle cx="255.60" cy="562.20" r="2.4" fill="#a87b45"/>
<circle cx="255.60" cy="569.60" r="2.4" fill="#a87b45"/>
<circle cx="241.00" cy="571.00" r="2.4" fill="#a87b45"/>
<circle cx="248.20" cy="578.30" r="2.4" fill="#a87b45"/>
<circle cx="252.00" cy="566.00" r="2.4" fill="#a87b45"/>
<line x1="248.50" y1="569.30" x2="248.50" y2="565.00" stroke="#a87b45" stroke-width="1.2"/>
<line x1="243.00" y1="565.00" x2="254.00" y2="565.00" stroke="#a87b45" stroke-width="1.2"/>
<line x1="243.00" y1="569.30" x2="254.00" y2="569.30" stroke="#a87b45" stroke-width="1.2"/>
<line x1="239.20" y1="567.90" x2="257.80" y2="567.90" stroke="#a87b45" stroke-width="1.3"/>
<line x1="279.90" y1="608.50" x2="279.90" y2="611.80" stroke="#111" stroke-width="1.2"/>
<path d="M270.25,608.50 L270.25,554.25 L289.55,554.25 L289.55,608.50" stroke="#cf8ac7" stroke-width="1.3" fill="none"/>
<circle cx="277.00" cy="536.30" r="2.4" fill="#bd60b3"/>
<circle cx="282.80" cy="538.30" r="2.4" fill="#bd60b3"/>
<circle cx="277.00" cy="546.70" r="2.4" fill="#bd60b3"/>
<circle cx="282.80" cy="546.70" r="2.4" fill="#bd60b3"/>
<circle cx="271.70" cy="556.50" r="2.4" fill="#bd60b3"/>
<circle cx="277.00" cy="560.40" r="2.4" fill="#bd60b3"/>
<circle cx="282.80" cy="557.80" r="2.4" fill="#bd60b3"/>
<circle cx="288.00" cy="555.20" r="2.4" fill="#bd60b3"/>
<circle cx="277.00" cy="567.00" r="2.4" fill="#bd60b3"/>
<circle cx="282.80" cy="563.00" r="2.4" fill="#bd60b3"/>
<line x1="279.90" y1="557.00" x2="279.90" y2="550.00" stroke="#bd60b3" stroke-width="1.2"/>
<line x1="274.40" y1="550.00" x2="285.40" y2="550.00" stroke="#bd60b3" stroke-width="1.2"/>
<line x1="274.40" y1="557.00" x2="285.40" y2="557.00" stroke="#bd60b3" stroke-width="1.2"/>
<line x1="270.60" y1="554.30" x2="289.20" y2="554.30" stroke="#bd60b3" stroke-width="1.3"/>
<line x1="311.40" y1="608.50" x2="311.40" y2="611.80" stroke="#111" stroke-width="1.2"/>
<path d="M301.75,608.50 L301.75,538.25 L321.05,538.25 L321.05,608.50" stroke="#ee5048" stroke-width="1.3" fill="none"/>
<circle cx="311.50" cy="499.10" r="2.4" fill="#e82a1f"/>
<circle cx="311.50" cy="505.70" r="2.4" fill="#e82a1f"/>
<circle cx="311.50" cy="517.40" r="2.4" fill="#e82a1f"/>
<circle cx="311.50" cy="523.30" r="2.4" fill="#e82a1f"/>
<circle cx="311.50" cy="532.80" r="2.4" fill="#e82a1f"/>
<circle cx="307.20" cy="543.20" r="2.4" fill="#e82a1f"/>
<circle cx="315.40" cy="542.80" r="2.4" fill="#e82a1f"/>
<circle cx="319.30" cy="550.30" r="2.4" fill="#e82a1f"/>
<circle cx="303.70" cy="554.60" r="2.4" fill="#e82a1f"/>
<circle cx="311.50" cy="557.80" r="2.4" fill="#e82a1f"/>
<circle cx="319.30" cy="559.80" r="2.4" fill="#e82a1f"/>
<circle cx="303.70" cy="563.30" r="2.4" fill="#e82a1f"/>
<line x1="311.40" y1="543.00" x2="311.40" y2="531.50" stroke="#e82a1f" stroke-width="1.2"/>
<line x1="305.90" y1="531.50" x2="316.90" y2="531.50" stroke="#e82a1f" stroke-width="1.2"/>
<line x1="305.90" y1="543.00" x2="316.90" y2="543.00" stroke="#e82a1f" stroke-width="1.2"/>
<line x1="302.10" y1="538.30" x2="320.70" y2="538.30" stroke="#e82a1f" stroke-width="1.3"/>
<text x="0.00" y="0.00" font-size="9.9" font-weight="bold" stroke="#111" stroke-width="0.25" text-anchor="end" fill="#111" transform="translate(219.70,619.00) rotate(-45)">Control</text>
<text x="0.00" y="0.00" font-size="9.9" font-weight="bold" stroke="#111" stroke-width="0.25" text-anchor="end" fill="#111" transform="translate(251.00,619.00) rotate(-45)">mTAC</text>
<text x="0.00" y="0.00" font-size="9.9" font-weight="bold" stroke="#111" stroke-width="0.25" text-anchor="end" fill="#111" transform="translate(282.40,619.00) rotate(-45)">HFD</text>
<text x="0.00" y="0.00" font-size="8.8" font-weight="bold" stroke="#111" stroke-width="0.25" text-anchor="end" fill="#111" transform="translate(319.50,617.00) rotate(-45)">HFD+mTAC</text>
<text x="0.00" y="0.00" font-size="10.7" font-weight="bold" stroke="#111" stroke-width="0.25" text-anchor="middle" fill="#111" transform="translate(179.00,537.40) rotate(-90)">E/A</text>
<path d="M213.90,479.70 L213.90,475.50 L312.70,475.50 L312.70,479.70" stroke="#111" stroke-width="1.2" fill="none"/>
<text x="262.20" y="471.50" font-size="9.8" text-anchor="middle" fill="#111" stroke="#111" stroke-width="0.25" textLength="41.60" lengthAdjust="spacingAndGlyphs">P=0.0016</text>
<path d="M273.50,497.60 L273.50,493.40 L319.70,493.40 L319.70,497.60" stroke="#111" stroke-width="1.2" fill="none"/>
<text x="302.45" y="490.40" font-size="9.8" text-anchor="middle" fill="#111" stroke="#111" stroke-width="0.25" textLength="36.23" lengthAdjust="spacingAndGlyphs">P=0.065</text>
<path d="M213.90,519.90 L213.90,515.70 L278.00,515.70 L278.00,519.90" stroke="#111" stroke-width="1.2" fill="none"/>
<text x="246.45" y="513.20" font-size="9.8" text-anchor="middle" fill="#111" stroke="#111" stroke-width="0.25" textLength="30.86" lengthAdjust="spacingAndGlyphs">P=0.42</text>
<path d="M213.90,538.00 L213.90,533.80 L248.70,533.80 L248.70,538.00" stroke="#111" stroke-width="1.2" fill="none"/>
<text x="231.45" y="531.80" font-size="9.8" text-anchor="middle" fill="#111" stroke="#111" stroke-width="0.25" textLength="30.86" lengthAdjust="spacingAndGlyphs">P=0.87</text>
<text x="342.40" y="461.40" font-size="13" font-weight="bold" text-anchor="start" fill="#000">i</text>
<line x1="368.70" y1="485.80" x2="368.70" y2="608.40" stroke="#111" stroke-width="1.3"/>
<line x1="368.10" y1="607.80" x2="500.80" y2="607.80" stroke="#111" stroke-width="1.3"/>
<line x1="365.40" y1="607.80" x2="368.70" y2="607.80" stroke="#111" stroke-width="1.2"/>
<text x="362.80" y="611.84" font-size="11" font-weight="bold" stroke="#111" stroke-width="0.25" text-anchor="end" fill="#111">0</text>
<line x1="365.40" y1="577.45" x2="368.70" y2="577.45" stroke="#111" stroke-width="1.2"/>
<text x="364.00" y="581.49" font-size="11" font-weight="bold" stroke="#111" stroke-width="0.25" text-anchor="end" fill="#111">5</text>
<line x1="365.40" y1="547.10" x2="368.70" y2="547.10" stroke="#111" stroke-width="1.2"/>
<text x="364.00" y="551.14" font-size="11" font-weight="bold" stroke="#111" stroke-width="0.25" text-anchor="end" fill="#111">10</text>
<line x1="365.40" y1="516.75" x2="368.70" y2="516.75" stroke="#111" stroke-width="1.2"/>
<text x="364.00" y="520.79" font-size="11" font-weight="bold" stroke="#111" stroke-width="0.25" text-anchor="end" fill="#111">15</text>
<line x1="365.40" y1="486.40" x2="368.70" y2="486.40" stroke="#111" stroke-width="1.2"/>
<text x="364.00" y="490.44" font-size="11" font-weight="bold" stroke="#111" stroke-width="0.25" text-anchor="end" fill="#111">20</text>
<line x1="366.50" y1="592.62" x2="368.70" y2="592.62" stroke="#111" stroke-width="1.0"/>
<line x1="366.50" y1="562.27" x2="368.70" y2="562.27" stroke="#111" stroke-width="1.0"/>
<line x1="366.50" y1="531.92" x2="368.70" y2="531.92" stroke="#111" stroke-width="1.0"/>
<line x1="366.50" y1="501.57" x2="368.70" y2="501.57" stroke="#111" stroke-width="1.0"/>
<line x1="389.00" y1="607.80" x2="389.00" y2="611.10" stroke="#111" stroke-width="1.2"/>
<path d="M379.65,607.80 L379.65,598.05 L398.35,598.05 L398.35,607.80" stroke="#111111" stroke-width="1.3" fill="none"/>
<circle cx="389.10" cy="588.30" r="2.4" fill="#111111"/>
<circle cx="384.70" cy="593.20" r="2.4" fill="#111111"/>
<circle cx="394.10" cy="594.00" r="2.4" fill="#111111"/>
<circle cx="384.70" cy="603.90" r="2.4" fill="#111111"/>
<circle cx="393.40" cy="603.10" r="2.4" fill="#111111"/>
<line x1="389.00" y1="599.50" x2="389.00" y2="594.50" stroke="#111111" stroke-width="1.2"/>
<line x1="383.50" y1="594.50" x2="394.50" y2="594.50" stroke="#111111" stroke-width="1.2"/>
<line x1="383.50" y1="599.50" x2="394.50" y2="599.50" stroke="#111111" stroke-width="1.2"/>
<line x1="380.00" y1="598.10" x2="398.00" y2="598.10" stroke="#111111" stroke-width="1.3"/>
<line x1="419.70" y1="607.80" x2="419.70" y2="611.10" stroke="#111" stroke-width="1.2"/>
<path d="M410.35,607.80 L410.35,585.15 L429.05,585.15 L429.05,607.80" stroke="#b38c5c" stroke-width="1.3" fill="none"/>
<circle cx="419.40" cy="564.70" r="2.4" fill="#a87b45"/>
<circle cx="419.40" cy="573.90" r="2.4" fill="#a87b45"/>
<circle cx="414.50" cy="586.50" r="2.4" fill="#a87b45"/>
<circle cx="424.40" cy="586.00" r="2.4" fill="#a87b45"/>
<circle cx="414.50" cy="598.20" r="2.4" fill="#a87b45"/>
<circle cx="424.40" cy="597.50" r="2.4" fill="#a87b45"/>
<line x1="419.70" y1="590.00" x2="419.70" y2="578.80" stroke="#a87b45" stroke-width="1.2"/>
<line x1="414.20" y1="578.80" x2="425.20" y2="578.80" stroke="#a87b45" stroke-width="1.2"/>
<line x1="414.20" y1="590.00" x2="425.20" y2="590.00" stroke="#a87b45" stroke-width="1.2"/>
<line x1="410.70" y1="585.20" x2="428.70" y2="585.20" stroke="#a87b45" stroke-width="1.3"/>
<line x1="450.40" y1="607.80" x2="450.40" y2="611.10" stroke="#111" stroke-width="1.2"/>
<path d="M441.05,607.80 L441.05,577.75 L459.75,577.75 L459.75,607.80" stroke="#f655f6" stroke-width="1.3" fill="none"/>
<circle cx="446.70" cy="568.40" r="2.4" fill="#f040f0"/>
<circle cx="452.90" cy="567.20" r="2.4" fill="#f040f0"/>
<circle cx="441.80" cy="577.10" r="2.4" fill="#f040f0"/>
<circle cx="449.20" cy="579.10" r="2.4" fill="#f040f0"/>
<circle cx="456.70" cy="579.10" r="2.4" fill="#f040f0"/>
<circle cx="445.00" cy="578.00" r="2.4" fill="#f040f0"/>
<line x1="450.40" y1="579.50" x2="450.40" y2="574.50" stroke="#f040f0" stroke-width="1.2"/>
<line x1="444.90" y1="574.50" x2="455.90" y2="574.50" stroke="#f040f0" stroke-width="1.2"/>
<line x1="444.90" y1="579.50" x2="455.90" y2="579.50" stroke="#f040f0" stroke-width="1.2"/>
<line x1="441.40" y1="577.80" x2="459.40" y2="577.80" stroke="#f040f0" stroke-width="1.3"/>
<line x1="480.80" y1="607.80" x2="480.80" y2="611.10" stroke="#111" stroke-width="1.2"/>
<path d="M471.45,607.80 L471.45,536.05 L490.15,536.05 L490.15,607.80" stroke="#f5603e" stroke-width="1.3" fill="none"/>
<circle cx="480.70" cy="497.10" r="2.4" fill="#ff2a0a"/>
<circle cx="480.70" cy="519.40" r="2.4" fill="#ff2a0a"/>
<circle cx="476.00" cy="541.00" r="2.4" fill="#ff2a0a"/>
<circle cx="485.50" cy="535.50" r="2.4" fill="#ff2a0a"/>
<circle cx="480.70" cy="556.70" r="2.4" fill="#ff2a0a"/>
<circle cx="480.70" cy="563.40" r="2.4" fill="#ff2a0a"/>
<line x1="480.80" y1="545.00" x2="480.80" y2="525.00" stroke="#ff2a0a" stroke-width="1.2"/>
<line x1="475.30" y1="525.00" x2="486.30" y2="525.00" stroke="#ff2a0a" stroke-width="1.2"/>
<line x1="475.30" y1="545.00" x2="486.30" y2="545.00" stroke="#ff2a0a" stroke-width="1.2"/>
<line x1="471.80" y1="536.10" x2="489.80" y2="536.10" stroke="#ff2a0a" stroke-width="1.3"/>
<text x="0.00" y="0.00" font-size="9.9" font-weight="bold" stroke="#111" stroke-width="0.25" text-anchor="end" fill="#111" transform="translate(390.40,617.30) rotate(-45)">Control</text>
<text x="0.00" y="0.00" font-size="9.9" font-weight="bold" stroke="#111" stroke-width="0.25" text-anchor="end" fill="#111" transform="translate(422.60,617.30) rotate(-45)">mTAC</text>
<text x="0.00" y="0.00" font-size="9.9" font-weight="bold" stroke="#111" stroke-width="0.25" text-anchor="end" fill="#111" transform="translate(452.90,617.30) rotate(-45)">HFD</text>
<text x="0.00" y="0.00" font-size="8.8" font-weight="bold" stroke="#111" stroke-width="0.25" text-anchor="end" fill="#111" transform="translate(488.90,616.30) rotate(-45)">HFD+mTAC</text>
<text x="0.00" y="0.00" font-size="10.7" font-weight="bold" stroke="#111" stroke-width="0.25" text-anchor="middle" fill="#111" transform="translate(348.50,534.70) rotate(-90)">EDP (mmHg)</text>
<path d="M385.90,476.00 L385.90,472.30 L481.50,472.30 L481.50,476.00" stroke="#111" stroke-width="1.2" fill="none"/>
<text x="440.40" y="470.30" font-size="9.8" text-anchor="middle" fill="#111" stroke="#111" stroke-width="0.25" textLength="41.60" lengthAdjust="spacingAndGlyphs">P&lt;0.0001</text>
<path d="M447.50,492.10 L447.50,488.90 L488.40,488.90 L488.40,492.10" stroke="#111" stroke-width="1.2" fill="none"/>
<text x="467.70" y="487.70" font-size="9.8" text-anchor="middle" fill="#111" stroke="#111" stroke-width="0.25" textLength="41.60" lengthAdjust="spacingAndGlyphs">P=0.0002</text>
<path d="M385.90,513.20 L385.90,509.50 L448.00,509.50 L448.00,513.20" stroke="#111" stroke-width="1.2" fill="none"/>
<text x="421.65" y="507.50" font-size="9.8" text-anchor="middle" fill="#111" stroke="#111" stroke-width="0.25" textLength="35.51" lengthAdjust="spacingAndGlyphs">P=0.112</text>
<path d="M385.90,526.10 L385.90,522.60 L419.90,522.60 L419.90,526.10" stroke="#111" stroke-width="1.2" fill="none"/>
<text x="404.30" y="521.20" font-size="9.8" text-anchor="middle" fill="#111" stroke="#111" stroke-width="0.25" textLength="36.23" lengthAdjust="spacingAndGlyphs">P=0.436</text>
<text x="507.00" y="461.40" font-size="13" font-weight="bold" text-anchor="start" fill="#000">j</text>
<line x1="553.20" y1="522.00" x2="553.20" y2="607.80" stroke="#111" stroke-width="1.3"/>
<line x1="552.60" y1="607.20" x2="685.00" y2="607.20" stroke="#111" stroke-width="1.3"/>
<line x1="553.20" y1="496.00" x2="553.20" y2="514.80" stroke="#111" stroke-width="1.3"/>
<path d="M551.9,513.9 L555.0,518.7" stroke="#111" stroke-width="1.3" fill="none"/>
<path d="M551.3,520.2 L554.7,523.8" stroke="#111" stroke-width="1.3" fill="none"/>
<line x1="548.90" y1="496.60" x2="553.20" y2="496.60" stroke="#111" stroke-width="1.2"/>
<text x="546.20" y="502.00" font-size="11" font-weight="bold" stroke="#111" stroke-width="0.25" text-anchor="end" fill="#111">1200</text>
<line x1="548.90" y1="505.60" x2="553.20" y2="505.60" stroke="#111" stroke-width="1.2"/>
<text x="544.20" y="511.00" font-size="11" font-weight="bold" stroke="#111" stroke-width="0.25" text-anchor="end" fill="#111">800</text>
<line x1="548.90" y1="514.70" x2="553.20" y2="514.70" stroke="#111" stroke-width="1.2"/>
<text x="543.90" y="520.10" font-size="11" font-weight="bold" stroke="#111" stroke-width="0.25" text-anchor="end" fill="#111">400</text>
<line x1="549.90" y1="607.20" x2="553.20" y2="607.20" stroke="#111" stroke-width="1.2"/>
<text x="541.90" y="611.90" font-size="11" font-weight="bold" stroke="#111" stroke-width="0.25" text-anchor="end" fill="#111">0</text>
<line x1="549.90" y1="578.90" x2="553.20" y2="578.90" stroke="#111" stroke-width="1.2"/>
<text x="545.70" y="583.60" font-size="11" font-weight="bold" stroke="#111" stroke-width="0.25" text-anchor="end" fill="#111">100</text>
<line x1="549.90" y1="550.60" x2="553.20" y2="550.60" stroke="#111" stroke-width="1.2"/>
<text x="545.70" y="555.30" font-size="11" font-weight="bold" stroke="#111" stroke-width="0.25" text-anchor="end" fill="#111">200</text>
<line x1="549.90" y1="522.30" x2="553.20" y2="522.30" stroke="#111" stroke-width="1.2"/>
<text x="546.00" y="527.00" font-size="11" font-weight="bold" stroke="#111" stroke-width="0.25" text-anchor="end" fill="#111">300</text>
<path d="M563.65,516.3 L563.65,501.00 L580.95,501.00 L580.95,516.3" stroke="#111111" stroke-width="1.3" fill="none"/>
<line x1="563.65" y1="521.90" x2="563.65" y2="607.20" stroke="#111111" stroke-width="1.3"/>
<line x1="580.95" y1="521.90" x2="580.95" y2="607.20" stroke="#111111" stroke-width="1.3"/>
<line x1="572.30" y1="607.20" x2="572.30" y2="610.50" stroke="#111" stroke-width="1.2"/>
<path d="M594.75,516.3 L594.75,501.00 L612.05,501.00 L612.05,516.3" stroke="#b38c5c" stroke-width="1.3" fill="none"/>
<line x1="594.75" y1="521.90" x2="594.75" y2="607.20" stroke="#b38c5c" stroke-width="1.3"/>
<line x1="612.05" y1="521.90" x2="612.05" y2="607.20" stroke="#b38c5c" stroke-width="1.3"/>
<line x1="603.40" y1="607.20" x2="603.40" y2="610.50" stroke="#111" stroke-width="1.2"/>
<path d="M625.85,607.2 L625.85,560.40 L643.15,560.40 L643.15,607.2" stroke="#cf8ac7" stroke-width="1.3" fill="none"/>
<line x1="634.50" y1="607.20" x2="634.50" y2="610.50" stroke="#111" stroke-width="1.2"/>
<path d="M657.05,607.2 L657.05,569.60 L674.35,569.60 L674.35,607.2" stroke="#ee5048" stroke-width="1.3" fill="none"/>
<line x1="665.70" y1="607.20" x2="665.70" y2="610.50" stroke="#111" stroke-width="1.2"/>
<circle cx="564.38" cy="499.54" r="2.3" fill="#111111"/>
<circle cx="565.96" cy="499.93" r="2.3" fill="#111111"/>
<circle cx="567.73" cy="496.43" r="2.3" fill="#111111"/>
<circle cx="568.11" cy="501.44" r="2.3" fill="#111111"/>
<circle cx="569.87" cy="497.52" r="2.3" fill="#111111"/>
<circle cx="572.41" cy="499.06" r="2.3" fill="#111111"/>
<circle cx="573.52" cy="499.10" r="2.3" fill="#111111"/>
<circle cx="574.57" cy="496.98" r="2.3" fill="#111111"/>
<circle cx="575.92" cy="501.64" r="2.3" fill="#111111"/>
<circle cx="577.11" cy="500.82" r="2.3" fill="#111111"/>
<circle cx="578.71" cy="496.42" r="2.3" fill="#111111"/>
<circle cx="580.21" cy="499.84" r="2.3" fill="#111111"/>
<line x1="563.80" y1="501.30" x2="580.80" y2="501.30" stroke="#111111" stroke-width="1.6"/>
<circle cx="595.58" cy="496.20" r="2.3" fill="#a87b45"/>
<circle cx="597.85" cy="499.07" r="2.3" fill="#a87b45"/>
<circle cx="598.98" cy="501.71" r="2.3" fill="#a87b45"/>
<circle cx="600.33" cy="501.99" r="2.3" fill="#a87b45"/>
<circle cx="601.19" cy="501.21" r="2.3" fill="#a87b45"/>
<circle cx="602.63" cy="502.08" r="2.3" fill="#a87b45"/>
<circle cx="604.69" cy="496.63" r="2.3" fill="#a87b45"/>
<circle cx="604.86" cy="497.41" r="2.3" fill="#a87b45"/>
<circle cx="607.55" cy="498.84" r="2.3" fill="#a87b45"/>
<circle cx="608.38" cy="497.96" r="2.3" fill="#a87b45"/>
<circle cx="609.55" cy="498.51" r="2.3" fill="#a87b45"/>
<circle cx="610.66" cy="499.80" r="2.3" fill="#a87b45"/>
<line x1="594.90" y1="501.30" x2="611.90" y2="501.30" stroke="#a87b45" stroke-width="1.6"/>
<circle cx="633.70" cy="531.50" r="2.4" fill="#bd60b3"/>
<circle cx="633.70" cy="547.80" r="2.4" fill="#bd60b3"/>
<circle cx="627.20" cy="562.50" r="2.4" fill="#bd60b3"/>
<circle cx="634.00" cy="561.00" r="2.4" fill="#bd60b3"/>
<circle cx="641.60" cy="567.00" r="2.4" fill="#bd60b3"/>
<circle cx="628.50" cy="569.60" r="2.4" fill="#bd60b3"/>
<circle cx="636.00" cy="566.00" r="2.4" fill="#bd60b3"/>
<circle cx="633.70" cy="578.30" r="2.4" fill="#bd60b3"/>
<line x1="634.50" y1="555.20" x2="634.50" y2="566.00" stroke="#bd60b3" stroke-width="1.2"/>
<line x1="629.00" y1="555.20" x2="640.00" y2="555.20" stroke="#bd60b3" stroke-width="1.2"/>
<line x1="626.00" y1="560.90" x2="643.00" y2="560.90" stroke="#bd60b3" stroke-width="1.3"/>
<circle cx="659.00" cy="568.00" r="2.4" fill="#e82a1f"/>
<circle cx="662.00" cy="571.00" r="2.4" fill="#e82a1f"/>
<circle cx="665.00" cy="567.00" r="2.4" fill="#e82a1f"/>
<circle cx="668.00" cy="570.00" r="2.4" fill="#e82a1f"/>
<circle cx="671.00" cy="568.00" r="2.4" fill="#e82a1f"/>
<circle cx="674.00" cy="565.00" r="2.4" fill="#e82a1f"/>
<circle cx="660.00" cy="573.00" r="2.4" fill="#e82a1f"/>
<circle cx="666.00" cy="574.00" r="2.4" fill="#e82a1f"/>
<circle cx="670.00" cy="574.50" r="2.4" fill="#e82a1f"/>
<circle cx="673.00" cy="572.00" r="2.4" fill="#e82a1f"/>
<circle cx="663.00" cy="569.00" r="2.4" fill="#e82a1f"/>
<circle cx="668.00" cy="576.50" r="2.4" fill="#e82a1f"/>
<line x1="657.20" y1="570.10" x2="674.20" y2="570.10" stroke="#e82a1f" stroke-width="1.3"/>
<text x="0.00" y="0.00" font-size="9.9" font-weight="bold" stroke="#111" stroke-width="0.25" text-anchor="end" fill="#111" transform="translate(576.40,617.80) rotate(-45)">Control</text>
<text x="0.00" y="0.00" font-size="9.9" font-weight="bold" stroke="#111" stroke-width="0.25" text-anchor="end" fill="#111" transform="translate(607.30,616.70) rotate(-45)">mTAC</text>
<text x="0.00" y="0.00" font-size="9.9" font-weight="bold" stroke="#111" stroke-width="0.25" text-anchor="end" fill="#111" transform="translate(639.00,616.40) rotate(-45)">HFD</text>
<text x="0.00" y="0.00" font-size="8.8" font-weight="bold" stroke="#111" stroke-width="0.25" text-anchor="end" fill="#111" transform="translate(673.40,615.70) rotate(-45)">HFD+mTAC</text>
<text x="0.00" y="0.00" font-size="10.7" font-weight="bold" stroke="#111" stroke-width="0.25" text-anchor="middle" fill="#111" transform="translate(519.60,550.00) rotate(-90)">Running Distance (m)</text>
<path d="M566.40,491.70 L566.40,487.90 L609.70,487.90 L609.70,491.70" stroke="#111" stroke-width="1.2" fill="none"/>
<text x="589.85" y="485.20" font-size="9.8" text-anchor="middle" fill="#111" stroke="#111" stroke-width="0.25" textLength="13.41" lengthAdjust="spacingAndGlyphs">NS</text>
<path d="M629.80,532.00 L629.80,523.60 L667.90,523.60 L667.90,532.00" stroke="#111" stroke-width="1.2" fill="none"/>
<text x="651.20" y="520.10" font-size="9.8" text-anchor="middle" fill="#111" stroke="#111" stroke-width="0.25" textLength="36.23" lengthAdjust="spacingAndGlyphs">P=0.039</text>
</svg></body></html>
